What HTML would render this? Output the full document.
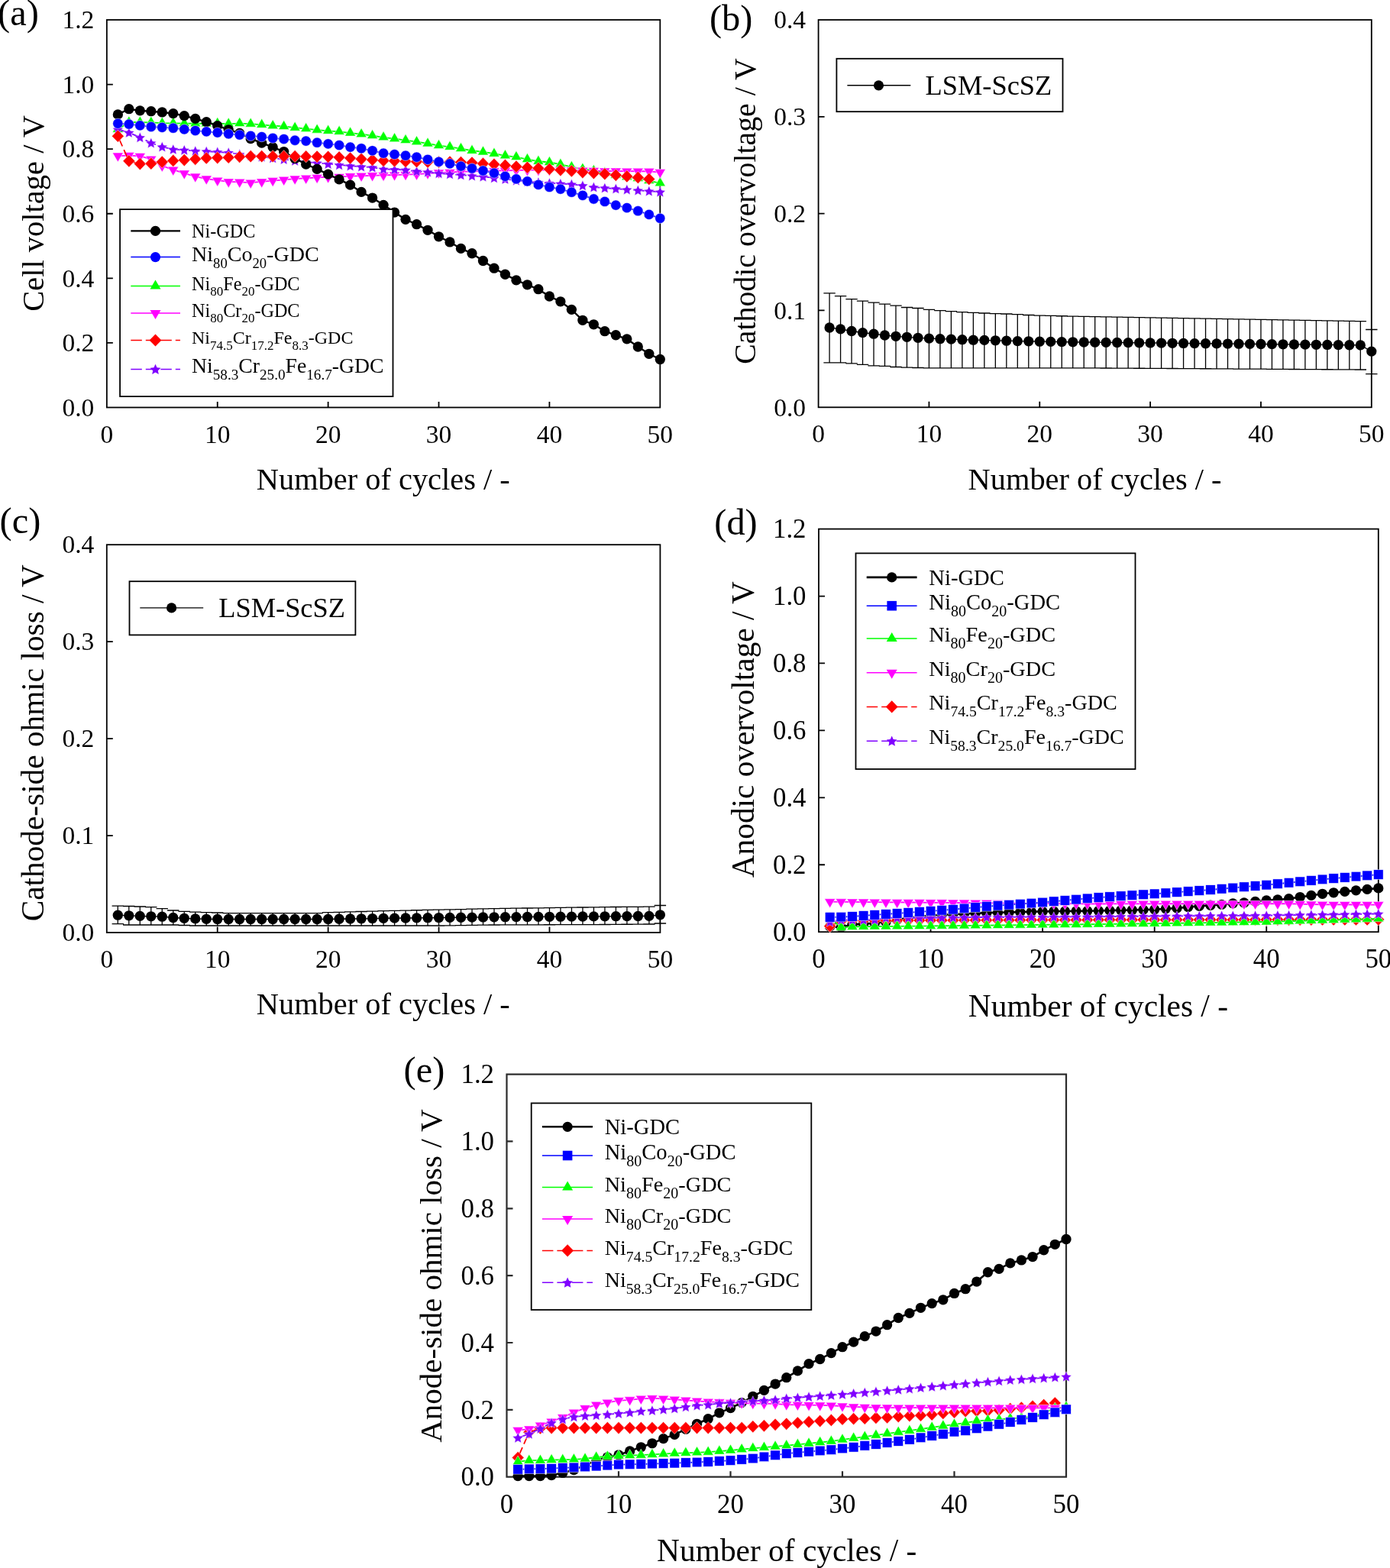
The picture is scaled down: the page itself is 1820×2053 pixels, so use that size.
<!DOCTYPE html>
<html><head><meta charset="utf-8"><title>Figure</title>
<style>html,body{margin:0;padding:0;background:#fff;overflow:hidden;}svg{display:block;}</style>
</head><body>
<svg width="1820" height="2053" viewBox="0 0 1820 2053" font-family="'Liberation Serif', 'Times New Roman', serif">
<rect width="1820" height="2053" fill="#fff"/>
<text x="-2.9" y="33.1" font-size="48.4">(a)</text>
<text x="928.9" y="39.7" font-size="48.4">(b)</text>
<text x="-0.4" y="697.9" font-size="48.4">(c)</text>
<text x="935.3" y="699.7" font-size="48.4">(d)</text>
<text x="528.6" y="1417.2" font-size="48.4">(e)</text>
<text transform="translate(57.4,279.4) rotate(-90)" text-anchor="middle" font-size="40.5">Cell voltage / V</text>
<text transform="translate(989.1,276.5) rotate(-90)" text-anchor="middle" font-size="39.8">Cathodic overvoltage / V</text>
<text transform="translate(56.8,972.7) rotate(-90)" text-anchor="middle" font-size="41.3">Cathode-side ohmic loss / V</text>
<text transform="translate(986.8,955.2) rotate(-90)" text-anchor="middle" font-size="41.3">Anodic overvoltage / V</text>
<text transform="translate(577.9,1670.6) rotate(-90)" text-anchor="middle" font-size="41.0">Anode-side ohmic loss / V</text>
<text x="501.8" y="641.1" text-anchor="middle" font-size="40.4">Number of cycles / -</text>
<text x="1433.6" y="641.1" text-anchor="middle" font-size="40.4">Number of cycles / -</text>
<text x="501.8" y="1328.2" text-anchor="middle" font-size="40.4">Number of cycles / -</text>
<text x="1437.9" y="1331.1" text-anchor="middle" font-size="41.4">Number of cycles / -</text>
<text x="1030.2" y="2044.3" text-anchor="middle" font-size="41.4">Number of cycles / -</text>
<rect x="139.85" y="26" width="724.45" height="507.5" fill="none" stroke="#000" stroke-width="1.8"/>
<path d="M284.74 533.5V526M429.63 533.5V526M574.52 533.5V526M719.41 533.5V526M139.85 448.92H147.85M139.85 364.33H147.85M139.85 279.75H147.85M139.85 195.17H147.85M139.85 110.58H147.85" stroke="#000" stroke-width="1.8" fill="none"/>
<text x="139.85" y="579.5" text-anchor="middle" font-size="33.5">0</text>
<text x="284.74" y="579.5" text-anchor="middle" font-size="33.5">10</text>
<text x="429.63" y="579.5" text-anchor="middle" font-size="33.5">20</text>
<text x="574.52" y="579.5" text-anchor="middle" font-size="33.5">30</text>
<text x="719.41" y="579.5" text-anchor="middle" font-size="33.5">40</text>
<text x="864.3" y="579.5" text-anchor="middle" font-size="33.5">50</text>
<text x="123.35" y="544.72" text-anchor="end" font-size="33.5">0.0</text>
<text x="123.35" y="460.14" text-anchor="end" font-size="33.5">0.2</text>
<text x="123.35" y="375.56" text-anchor="end" font-size="33.5">0.4</text>
<text x="123.35" y="290.97" text-anchor="end" font-size="33.5">0.6</text>
<text x="123.35" y="206.39" text-anchor="end" font-size="33.5">0.8</text>
<text x="123.35" y="121.81" text-anchor="end" font-size="33.5">1.0</text>
<text x="123.35" y="37.22" text-anchor="end" font-size="33.5">1.2</text>
<path d="M154.34 169.37 L168.83 159.9 L183.32 160.06 L197.81 160.28 L212.29 161.21 L226.78 161.33 L241.27 161.54 L255.76 161.76 L270.25 161.76 L284.74 161.59 L299.23 162.09 L313.72 161.54 L328.21 162.22 L342.7 163.32 L357.18 164.72 L371.67 165.52 L386.16 167.21 L400.65 168.61 L415.14 170.13 L429.63 171.31 L444.12 172.33 L458.61 174.11 L473.1 175.63 L487.59 177.62 L502.08 179.81 L516.56 181.63 L531.05 183.62 L545.54 185.65 L560.03 187.98 L574.52 190.6 L589.01 192.33 L603.5 194.53 L617.99 197.24 L632.48 198.93 L646.96 201.13 L661.45 203.84 L675.94 205.53 L690.43 208.57 L704.92 211.24 L719.41 212.51 L733.9 215.13 L748.39 218.55 L762.88 221.13 L777.37 223.5 L791.85 226.25 L806.34 229.21 L820.83 231.75 L835.32 233.44 L849.81 236.61 L864.3 239.78" fill="none" stroke="#00ff00" stroke-width="1.8"/>
<polygon points="154.34,161.37 161.34,173.37 147.34,173.37" fill="#00ff00" stroke="#fff" stroke-width="0.5"/>
<polygon points="168.83,151.9 175.83,163.9 161.83,163.9" fill="#00ff00" stroke="#fff" stroke-width="0.5"/>
<polygon points="183.32,152.06 190.32,164.06 176.32,164.06" fill="#00ff00" stroke="#fff" stroke-width="0.5"/>
<polygon points="197.81,152.28 204.81,164.28 190.81,164.28" fill="#00ff00" stroke="#fff" stroke-width="0.5"/>
<polygon points="212.29,153.21 219.29,165.21 205.29,165.21" fill="#00ff00" stroke="#fff" stroke-width="0.5"/>
<polygon points="226.78,153.33 233.78,165.33 219.78,165.33" fill="#00ff00" stroke="#fff" stroke-width="0.5"/>
<polygon points="241.27,153.54 248.27,165.54 234.27,165.54" fill="#00ff00" stroke="#fff" stroke-width="0.5"/>
<polygon points="255.76,153.76 262.76,165.76 248.76,165.76" fill="#00ff00" stroke="#fff" stroke-width="0.5"/>
<polygon points="270.25,153.76 277.25,165.76 263.25,165.76" fill="#00ff00" stroke="#fff" stroke-width="0.5"/>
<polygon points="284.74,153.59 291.74,165.59 277.74,165.59" fill="#00ff00" stroke="#fff" stroke-width="0.5"/>
<polygon points="299.23,154.09 306.23,166.09 292.23,166.09" fill="#00ff00" stroke="#fff" stroke-width="0.5"/>
<polygon points="313.72,153.54 320.72,165.54 306.72,165.54" fill="#00ff00" stroke="#fff" stroke-width="0.5"/>
<polygon points="328.21,154.22 335.21,166.22 321.21,166.22" fill="#00ff00" stroke="#fff" stroke-width="0.5"/>
<polygon points="342.7,155.32 349.7,167.32 335.7,167.32" fill="#00ff00" stroke="#fff" stroke-width="0.5"/>
<polygon points="357.18,156.72 364.18,168.72 350.18,168.72" fill="#00ff00" stroke="#fff" stroke-width="0.5"/>
<polygon points="371.67,157.52 378.67,169.52 364.67,169.52" fill="#00ff00" stroke="#fff" stroke-width="0.5"/>
<polygon points="386.16,159.21 393.16,171.21 379.16,171.21" fill="#00ff00" stroke="#fff" stroke-width="0.5"/>
<polygon points="400.65,160.61 407.65,172.61 393.65,172.61" fill="#00ff00" stroke="#fff" stroke-width="0.5"/>
<polygon points="415.14,162.13 422.14,174.13 408.14,174.13" fill="#00ff00" stroke="#fff" stroke-width="0.5"/>
<polygon points="429.63,163.31 436.63,175.31 422.63,175.31" fill="#00ff00" stroke="#fff" stroke-width="0.5"/>
<polygon points="444.12,164.33 451.12,176.33 437.12,176.33" fill="#00ff00" stroke="#fff" stroke-width="0.5"/>
<polygon points="458.61,166.11 465.61,178.11 451.61,178.11" fill="#00ff00" stroke="#fff" stroke-width="0.5"/>
<polygon points="473.1,167.63 480.1,179.63 466.1,179.63" fill="#00ff00" stroke="#fff" stroke-width="0.5"/>
<polygon points="487.59,169.62 494.59,181.62 480.59,181.62" fill="#00ff00" stroke="#fff" stroke-width="0.5"/>
<polygon points="502.08,171.81 509.08,183.81 495.08,183.81" fill="#00ff00" stroke="#fff" stroke-width="0.5"/>
<polygon points="516.56,173.63 523.56,185.63 509.56,185.63" fill="#00ff00" stroke="#fff" stroke-width="0.5"/>
<polygon points="531.05,175.62 538.05,187.62 524.05,187.62" fill="#00ff00" stroke="#fff" stroke-width="0.5"/>
<polygon points="545.54,177.65 552.54,189.65 538.54,189.65" fill="#00ff00" stroke="#fff" stroke-width="0.5"/>
<polygon points="560.03,179.98 567.03,191.98 553.03,191.98" fill="#00ff00" stroke="#fff" stroke-width="0.5"/>
<polygon points="574.52,182.6 581.52,194.6 567.52,194.6" fill="#00ff00" stroke="#fff" stroke-width="0.5"/>
<polygon points="589.01,184.33 596.01,196.33 582.01,196.33" fill="#00ff00" stroke="#fff" stroke-width="0.5"/>
<polygon points="603.5,186.53 610.5,198.53 596.5,198.53" fill="#00ff00" stroke="#fff" stroke-width="0.5"/>
<polygon points="617.99,189.24 624.99,201.24 610.99,201.24" fill="#00ff00" stroke="#fff" stroke-width="0.5"/>
<polygon points="632.48,190.93 639.48,202.93 625.48,202.93" fill="#00ff00" stroke="#fff" stroke-width="0.5"/>
<polygon points="646.96,193.13 653.96,205.13 639.96,205.13" fill="#00ff00" stroke="#fff" stroke-width="0.5"/>
<polygon points="661.45,195.84 668.45,207.84 654.45,207.84" fill="#00ff00" stroke="#fff" stroke-width="0.5"/>
<polygon points="675.94,197.53 682.94,209.53 668.94,209.53" fill="#00ff00" stroke="#fff" stroke-width="0.5"/>
<polygon points="690.43,200.57 697.43,212.57 683.43,212.57" fill="#00ff00" stroke="#fff" stroke-width="0.5"/>
<polygon points="704.92,203.24 711.92,215.24 697.92,215.24" fill="#00ff00" stroke="#fff" stroke-width="0.5"/>
<polygon points="719.41,204.51 726.41,216.51 712.41,216.51" fill="#00ff00" stroke="#fff" stroke-width="0.5"/>
<polygon points="733.9,207.13 740.9,219.13 726.9,219.13" fill="#00ff00" stroke="#fff" stroke-width="0.5"/>
<polygon points="748.39,210.55 755.39,222.55 741.39,222.55" fill="#00ff00" stroke="#fff" stroke-width="0.5"/>
<polygon points="762.88,213.13 769.88,225.13 755.88,225.13" fill="#00ff00" stroke="#fff" stroke-width="0.5"/>
<polygon points="777.37,215.5 784.37,227.5 770.37,227.5" fill="#00ff00" stroke="#fff" stroke-width="0.5"/>
<polygon points="791.85,218.25 798.85,230.25 784.85,230.25" fill="#00ff00" stroke="#fff" stroke-width="0.5"/>
<polygon points="806.34,221.21 813.34,233.21 799.34,233.21" fill="#00ff00" stroke="#fff" stroke-width="0.5"/>
<polygon points="820.83,223.75 827.83,235.75 813.83,235.75" fill="#00ff00" stroke="#fff" stroke-width="0.5"/>
<polygon points="835.32,225.44 842.32,237.44 828.32,237.44" fill="#00ff00" stroke="#fff" stroke-width="0.5"/>
<polygon points="849.81,228.61 856.81,240.61 842.81,240.61" fill="#00ff00" stroke="#fff" stroke-width="0.5"/>
<polygon points="864.3,231.78 871.3,243.78 857.3,243.78" fill="#00ff00" stroke="#fff" stroke-width="0.5"/>
<path d="M154.34 204.05 L168.83 203.62 L183.32 204.47 L197.81 208.28 L212.29 217.16 L226.78 222.23 L241.27 226.89 L255.76 231.11 L270.25 234.07 L284.74 236.19 L299.23 237.88 L313.72 238.3 L328.21 239.15 L342.7 237.88 L357.18 236.61 L371.67 235.34 L386.16 234.07 L400.65 233.23 L415.14 232.38 L429.63 231.96 L444.12 231.54 L458.61 230.69 L473.1 230.27 L487.59 229.85 L502.08 229.42 L516.56 229 L531.05 228.58 L545.54 228.15 L560.03 227.1 L574.52 226.04 L589.01 225.48 L603.5 224.91 L617.99 224.35 L632.48 224.01 L646.96 223.67 L661.45 223.33 L675.94 222.99 L690.43 222.66 L704.92 222.66 L719.41 222.66 L733.9 222.66 L748.39 222.97 L762.88 223.29 L777.37 223.61 L791.85 223.92 L806.34 224.03 L820.83 224.14 L835.32 224.24 L849.81 224.35 L864.3 225.62" fill="none" stroke="#ff00ff" stroke-width="1.8"/>
<polygon points="154.34,212.05 161.34,200.05 147.34,200.05" fill="#ff00ff" stroke="#fff" stroke-width="0.5"/>
<polygon points="168.83,211.62 175.83,199.62 161.83,199.62" fill="#ff00ff" stroke="#fff" stroke-width="0.5"/>
<polygon points="183.32,212.47 190.32,200.47 176.32,200.47" fill="#ff00ff" stroke="#fff" stroke-width="0.5"/>
<polygon points="197.81,216.28 204.81,204.28 190.81,204.28" fill="#ff00ff" stroke="#fff" stroke-width="0.5"/>
<polygon points="212.29,225.16 219.29,213.16 205.29,213.16" fill="#ff00ff" stroke="#fff" stroke-width="0.5"/>
<polygon points="226.78,230.23 233.78,218.23 219.78,218.23" fill="#ff00ff" stroke="#fff" stroke-width="0.5"/>
<polygon points="241.27,234.89 248.27,222.89 234.27,222.89" fill="#ff00ff" stroke="#fff" stroke-width="0.5"/>
<polygon points="255.76,239.11 262.76,227.11 248.76,227.11" fill="#ff00ff" stroke="#fff" stroke-width="0.5"/>
<polygon points="270.25,242.07 277.25,230.07 263.25,230.07" fill="#ff00ff" stroke="#fff" stroke-width="0.5"/>
<polygon points="284.74,244.19 291.74,232.19 277.74,232.19" fill="#ff00ff" stroke="#fff" stroke-width="0.5"/>
<polygon points="299.23,245.88 306.23,233.88 292.23,233.88" fill="#ff00ff" stroke="#fff" stroke-width="0.5"/>
<polygon points="313.72,246.3 320.72,234.3 306.72,234.3" fill="#ff00ff" stroke="#fff" stroke-width="0.5"/>
<polygon points="328.21,247.15 335.21,235.15 321.21,235.15" fill="#ff00ff" stroke="#fff" stroke-width="0.5"/>
<polygon points="342.7,245.88 349.7,233.88 335.7,233.88" fill="#ff00ff" stroke="#fff" stroke-width="0.5"/>
<polygon points="357.18,244.61 364.18,232.61 350.18,232.61" fill="#ff00ff" stroke="#fff" stroke-width="0.5"/>
<polygon points="371.67,243.34 378.67,231.34 364.67,231.34" fill="#ff00ff" stroke="#fff" stroke-width="0.5"/>
<polygon points="386.16,242.07 393.16,230.07 379.16,230.07" fill="#ff00ff" stroke="#fff" stroke-width="0.5"/>
<polygon points="400.65,241.23 407.65,229.23 393.65,229.23" fill="#ff00ff" stroke="#fff" stroke-width="0.5"/>
<polygon points="415.14,240.38 422.14,228.38 408.14,228.38" fill="#ff00ff" stroke="#fff" stroke-width="0.5"/>
<polygon points="429.63,239.96 436.63,227.96 422.63,227.96" fill="#ff00ff" stroke="#fff" stroke-width="0.5"/>
<polygon points="444.12,239.54 451.12,227.54 437.12,227.54" fill="#ff00ff" stroke="#fff" stroke-width="0.5"/>
<polygon points="458.61,238.69 465.61,226.69 451.61,226.69" fill="#ff00ff" stroke="#fff" stroke-width="0.5"/>
<polygon points="473.1,238.27 480.1,226.27 466.1,226.27" fill="#ff00ff" stroke="#fff" stroke-width="0.5"/>
<polygon points="487.59,237.85 494.59,225.85 480.59,225.85" fill="#ff00ff" stroke="#fff" stroke-width="0.5"/>
<polygon points="502.08,237.42 509.08,225.42 495.08,225.42" fill="#ff00ff" stroke="#fff" stroke-width="0.5"/>
<polygon points="516.56,237 523.56,225 509.56,225" fill="#ff00ff" stroke="#fff" stroke-width="0.5"/>
<polygon points="531.05,236.58 538.05,224.58 524.05,224.58" fill="#ff00ff" stroke="#fff" stroke-width="0.5"/>
<polygon points="545.54,236.15 552.54,224.15 538.54,224.15" fill="#ff00ff" stroke="#fff" stroke-width="0.5"/>
<polygon points="560.03,235.1 567.03,223.1 553.03,223.1" fill="#ff00ff" stroke="#fff" stroke-width="0.5"/>
<polygon points="574.52,234.04 581.52,222.04 567.52,222.04" fill="#ff00ff" stroke="#fff" stroke-width="0.5"/>
<polygon points="589.01,233.48 596.01,221.48 582.01,221.48" fill="#ff00ff" stroke="#fff" stroke-width="0.5"/>
<polygon points="603.5,232.91 610.5,220.91 596.5,220.91" fill="#ff00ff" stroke="#fff" stroke-width="0.5"/>
<polygon points="617.99,232.35 624.99,220.35 610.99,220.35" fill="#ff00ff" stroke="#fff" stroke-width="0.5"/>
<polygon points="632.48,232.01 639.48,220.01 625.48,220.01" fill="#ff00ff" stroke="#fff" stroke-width="0.5"/>
<polygon points="646.96,231.67 653.96,219.67 639.96,219.67" fill="#ff00ff" stroke="#fff" stroke-width="0.5"/>
<polygon points="661.45,231.33 668.45,219.33 654.45,219.33" fill="#ff00ff" stroke="#fff" stroke-width="0.5"/>
<polygon points="675.94,230.99 682.94,218.99 668.94,218.99" fill="#ff00ff" stroke="#fff" stroke-width="0.5"/>
<polygon points="690.43,230.66 697.43,218.66 683.43,218.66" fill="#ff00ff" stroke="#fff" stroke-width="0.5"/>
<polygon points="704.92,230.66 711.92,218.66 697.92,218.66" fill="#ff00ff" stroke="#fff" stroke-width="0.5"/>
<polygon points="719.41,230.66 726.41,218.66 712.41,218.66" fill="#ff00ff" stroke="#fff" stroke-width="0.5"/>
<polygon points="733.9,230.66 740.9,218.66 726.9,218.66" fill="#ff00ff" stroke="#fff" stroke-width="0.5"/>
<polygon points="748.39,230.97 755.39,218.97 741.39,218.97" fill="#ff00ff" stroke="#fff" stroke-width="0.5"/>
<polygon points="762.88,231.29 769.88,219.29 755.88,219.29" fill="#ff00ff" stroke="#fff" stroke-width="0.5"/>
<polygon points="777.37,231.61 784.37,219.61 770.37,219.61" fill="#ff00ff" stroke="#fff" stroke-width="0.5"/>
<polygon points="791.85,231.92 798.85,219.92 784.85,219.92" fill="#ff00ff" stroke="#fff" stroke-width="0.5"/>
<polygon points="806.34,232.03 813.34,220.03 799.34,220.03" fill="#ff00ff" stroke="#fff" stroke-width="0.5"/>
<polygon points="820.83,232.14 827.83,220.14 813.83,220.14" fill="#ff00ff" stroke="#fff" stroke-width="0.5"/>
<polygon points="835.32,232.24 842.32,220.24 828.32,220.24" fill="#ff00ff" stroke="#fff" stroke-width="0.5"/>
<polygon points="849.81,232.35 856.81,220.35 842.81,220.35" fill="#ff00ff" stroke="#fff" stroke-width="0.5"/>
<polygon points="864.3,233.62 871.3,221.62 857.3,221.62" fill="#ff00ff" stroke="#fff" stroke-width="0.5"/>
<path d="M154.34 169.37 L168.83 173.6 L183.32 179.94 L197.81 187.13 L212.29 192.21 L226.78 195.59 L241.27 196.44 L255.76 197.7 L270.25 198.13 L284.74 198.97 L299.23 199.82 L313.72 201.93 L328.21 203.62 L342.7 205.32 L357.18 207.01 L371.67 208.7 L386.16 210.39 L400.65 212.08 L415.14 213.35 L429.63 214.62 L444.12 215.89 L458.61 217.16 L473.1 218.22 L487.59 219.27 L502.08 221.39 L516.56 221.89 L531.05 222.49 L545.54 224.18 L560.03 225.28 L574.52 226.89 L589.01 227.99 L603.5 229.08 L617.99 230.18 L632.48 231.28 L646.96 232.98 L661.45 234.58 L675.94 236.27 L690.43 237.67 L704.92 238.73 L719.41 239.78 L733.9 240.5 L748.39 241.26 L762.88 242.96 L777.37 245.07 L791.85 246.09 L806.34 247.1 L820.83 248.16 L835.32 249.17 L849.81 250.27 L864.3 251.29" fill="none" stroke="#8000ff" stroke-width="1.8" stroke-dasharray="14.5 5"/>
<polygon points="154.34,162.67 156.4,167.14 161.28,167.71 157.67,171.05 158.63,175.87 154.34,173.47 150.05,175.87 151.01,171.05 147.4,167.71 152.28,167.14" fill="#8000ff" stroke="#fff" stroke-width="0.4"/>
<polygon points="168.83,166.9 170.89,171.37 175.77,171.94 172.16,175.28 173.12,180.1 168.83,177.7 164.54,180.1 165.5,175.28 161.89,171.94 166.77,171.37" fill="#8000ff" stroke="#fff" stroke-width="0.4"/>
<polygon points="183.32,173.24 185.37,177.71 190.26,178.29 186.65,181.62 187.61,186.45 183.32,184.04 179.03,186.45 179.99,181.62 176.37,178.29 181.26,177.71" fill="#8000ff" stroke="#fff" stroke-width="0.4"/>
<polygon points="197.81,180.43 199.86,184.9 204.75,185.48 201.13,188.81 202.1,193.64 197.81,191.23 193.52,193.64 194.48,188.81 190.86,185.48 195.75,184.9" fill="#8000ff" stroke="#fff" stroke-width="0.4"/>
<polygon points="212.29,185.51 214.35,189.97 219.24,190.55 215.62,193.89 216.59,198.71 212.29,196.31 208,198.71 208.97,193.89 205.35,190.55 210.24,189.97" fill="#8000ff" stroke="#fff" stroke-width="0.4"/>
<polygon points="226.78,188.89 228.84,193.36 233.73,193.93 230.11,197.27 231.07,202.1 226.78,199.69 222.49,202.1 223.46,197.27 219.84,193.93 224.73,193.36" fill="#8000ff" stroke="#fff" stroke-width="0.4"/>
<polygon points="241.27,189.74 243.33,194.2 248.22,194.78 244.6,198.12 245.56,202.94 241.27,200.54 236.98,202.94 237.94,198.12 234.33,194.78 239.22,194.2" fill="#8000ff" stroke="#fff" stroke-width="0.4"/>
<polygon points="255.76,191 257.82,195.47 262.7,196.05 259.09,199.39 260.05,204.21 255.76,201.8 251.47,204.21 252.43,199.39 248.82,196.05 253.7,195.47" fill="#8000ff" stroke="#fff" stroke-width="0.4"/>
<polygon points="270.25,191.43 272.31,195.9 277.19,196.47 273.58,199.81 274.54,204.63 270.25,202.23 265.96,204.63 266.92,199.81 263.31,196.47 268.19,195.9" fill="#8000ff" stroke="#fff" stroke-width="0.4"/>
<polygon points="284.74,192.27 286.8,196.74 291.68,197.32 288.07,200.65 289.03,205.48 284.74,203.07 280.45,205.48 281.41,200.65 277.8,197.32 282.68,196.74" fill="#8000ff" stroke="#fff" stroke-width="0.4"/>
<polygon points="299.23,193.12 301.29,197.59 306.17,198.16 302.56,201.5 303.52,206.32 299.23,203.92 294.94,206.32 295.9,201.5 292.29,198.16 297.17,197.59" fill="#8000ff" stroke="#fff" stroke-width="0.4"/>
<polygon points="313.72,195.23 315.78,199.7 320.66,200.28 317.05,203.61 318.01,208.44 313.72,206.03 309.43,208.44 310.39,203.61 306.78,200.28 311.66,199.7" fill="#8000ff" stroke="#fff" stroke-width="0.4"/>
<polygon points="328.21,196.92 330.26,201.39 335.15,201.97 331.54,205.31 332.5,210.13 328.21,207.72 323.92,210.13 324.88,205.31 321.26,201.97 326.15,201.39" fill="#8000ff" stroke="#fff" stroke-width="0.4"/>
<polygon points="342.7,198.62 344.75,203.09 349.64,203.66 346.02,207 346.99,211.82 342.7,209.42 338.41,211.82 339.37,207 335.75,203.66 340.64,203.09" fill="#8000ff" stroke="#fff" stroke-width="0.4"/>
<polygon points="357.18,200.31 359.24,204.78 364.13,205.35 360.51,208.69 361.48,213.51 357.18,211.11 352.89,213.51 353.86,208.69 350.24,205.35 355.13,204.78" fill="#8000ff" stroke="#fff" stroke-width="0.4"/>
<polygon points="371.67,202 373.73,206.47 378.62,207.04 375,210.38 375.96,215.21 371.67,212.8 367.38,215.21 368.35,210.38 364.73,207.04 369.62,206.47" fill="#8000ff" stroke="#fff" stroke-width="0.4"/>
<polygon points="386.16,203.69 388.22,208.16 393.11,208.74 389.49,212.07 390.45,216.9 386.16,214.49 381.87,216.9 382.83,212.07 379.22,208.74 384.11,208.16" fill="#8000ff" stroke="#fff" stroke-width="0.4"/>
<polygon points="400.65,205.38 402.71,209.85 407.59,210.43 403.98,213.76 404.94,218.59 400.65,216.18 396.36,218.59 397.32,213.76 393.71,210.43 398.59,209.85" fill="#8000ff" stroke="#fff" stroke-width="0.4"/>
<polygon points="415.14,206.65 417.2,211.12 422.08,211.7 418.47,215.03 419.43,219.86 415.14,217.45 410.85,219.86 411.81,215.03 408.2,211.7 413.08,211.12" fill="#8000ff" stroke="#fff" stroke-width="0.4"/>
<polygon points="429.63,207.92 431.69,212.39 436.57,212.97 432.96,216.3 433.92,221.13 429.63,218.72 425.34,221.13 426.3,216.3 422.69,212.97 427.57,212.39" fill="#8000ff" stroke="#fff" stroke-width="0.4"/>
<polygon points="444.12,209.19 446.18,213.66 451.06,214.23 447.45,217.57 448.41,222.4 444.12,219.99 439.83,222.4 440.79,217.57 437.18,214.23 442.06,213.66" fill="#8000ff" stroke="#fff" stroke-width="0.4"/>
<polygon points="458.61,210.46 460.67,214.93 465.55,215.5 461.94,218.84 462.9,223.66 458.61,221.26 454.32,223.66 455.28,218.84 451.67,215.5 456.55,214.93" fill="#8000ff" stroke="#fff" stroke-width="0.4"/>
<polygon points="473.1,211.52 475.15,215.98 480.04,216.56 476.43,219.9 477.39,224.72 473.1,222.32 468.81,224.72 469.77,219.9 466.15,216.56 471.04,215.98" fill="#8000ff" stroke="#fff" stroke-width="0.4"/>
<polygon points="487.59,212.57 489.64,217.04 494.53,217.62 490.91,220.95 491.88,225.78 487.59,223.37 483.3,225.78 484.26,220.95 480.64,217.62 485.53,217.04" fill="#8000ff" stroke="#fff" stroke-width="0.4"/>
<polygon points="502.08,214.69 504.13,219.16 509.02,219.73 505.4,223.07 506.37,227.89 502.08,225.49 497.78,227.89 498.75,223.07 495.13,219.73 500.02,219.16" fill="#8000ff" stroke="#fff" stroke-width="0.4"/>
<polygon points="516.56,215.19 518.62,219.66 523.51,220.24 519.89,223.58 520.85,228.4 516.56,225.99 512.27,228.4 513.24,223.58 509.62,220.24 514.51,219.66" fill="#8000ff" stroke="#fff" stroke-width="0.4"/>
<polygon points="531.05,215.79 533.11,220.26 538,220.83 534.38,224.17 535.34,228.99 531.05,226.59 526.76,228.99 527.72,224.17 524.11,220.83 529,220.26" fill="#8000ff" stroke="#fff" stroke-width="0.4"/>
<polygon points="545.54,217.48 547.6,221.95 552.48,222.52 548.87,225.86 549.83,230.68 545.54,228.28 541.25,230.68 542.21,225.86 538.6,222.52 543.48,221.95" fill="#8000ff" stroke="#fff" stroke-width="0.4"/>
<polygon points="560.03,218.58 562.09,223.05 566.97,223.62 563.36,226.96 564.32,231.78 560.03,229.38 555.74,231.78 556.7,226.96 553.09,223.62 557.97,223.05" fill="#8000ff" stroke="#fff" stroke-width="0.4"/>
<polygon points="574.52,220.19 576.58,224.65 581.46,225.23 577.85,228.57 578.81,233.39 574.52,230.99 570.23,233.39 571.19,228.57 567.58,225.23 572.46,224.65" fill="#8000ff" stroke="#fff" stroke-width="0.4"/>
<polygon points="589.01,221.28 591.07,225.75 595.95,226.33 592.34,229.67 593.3,234.49 589.01,232.09 584.72,234.49 585.68,229.67 582.07,226.33 586.95,225.75" fill="#8000ff" stroke="#fff" stroke-width="0.4"/>
<polygon points="603.5,222.38 605.56,226.85 610.44,227.43 606.83,230.77 607.79,235.59 603.5,233.18 599.21,235.59 600.17,230.77 596.56,227.43 601.44,226.85" fill="#8000ff" stroke="#fff" stroke-width="0.4"/>
<polygon points="617.99,223.48 620.04,227.95 624.93,228.53 621.32,231.87 622.28,236.69 617.99,234.28 613.7,236.69 614.66,231.87 611.04,228.53 615.93,227.95" fill="#8000ff" stroke="#fff" stroke-width="0.4"/>
<polygon points="632.48,224.58 634.53,229.05 639.42,229.63 635.8,232.97 636.77,237.79 632.48,235.38 628.19,237.79 629.15,232.97 625.53,229.63 630.42,229.05" fill="#8000ff" stroke="#fff" stroke-width="0.4"/>
<polygon points="646.96,226.28 649.02,230.74 653.91,231.32 650.29,234.66 651.26,239.48 646.96,237.08 642.67,239.48 643.64,234.66 640.02,231.32 644.91,230.74" fill="#8000ff" stroke="#fff" stroke-width="0.4"/>
<polygon points="661.45,227.88 663.51,232.35 668.4,232.93 664.78,236.26 665.74,241.09 661.45,238.68 657.16,241.09 658.13,236.26 654.51,232.93 659.4,232.35" fill="#8000ff" stroke="#fff" stroke-width="0.4"/>
<polygon points="675.94,229.57 678,234.04 682.89,234.62 679.27,237.96 680.23,242.78 675.94,240.37 671.65,242.78 672.61,237.96 669,234.62 673.89,234.04" fill="#8000ff" stroke="#fff" stroke-width="0.4"/>
<polygon points="690.43,230.97 692.49,235.44 697.37,236.01 693.76,239.35 694.72,244.18 690.43,241.77 686.14,244.18 687.1,239.35 683.49,236.01 688.37,235.44" fill="#8000ff" stroke="#fff" stroke-width="0.4"/>
<polygon points="704.92,232.03 706.98,236.5 711.86,237.07 708.25,240.41 709.21,245.23 704.92,242.83 700.63,245.23 701.59,240.41 697.98,237.07 702.86,236.5" fill="#8000ff" stroke="#fff" stroke-width="0.4"/>
<polygon points="719.41,233.08 721.47,237.55 726.35,238.13 722.74,241.47 723.7,246.29 719.41,243.88 715.12,246.29 716.08,241.47 712.47,238.13 717.35,237.55" fill="#8000ff" stroke="#fff" stroke-width="0.4"/>
<polygon points="733.9,233.8 735.96,238.27 740.84,238.85 737.23,242.18 738.19,247.01 733.9,244.6 729.61,247.01 730.57,242.18 726.96,238.85 731.84,238.27" fill="#8000ff" stroke="#fff" stroke-width="0.4"/>
<polygon points="748.39,234.56 750.45,239.03 755.33,239.61 751.72,242.95 752.68,247.77 748.39,245.36 744.1,247.77 745.06,242.95 741.45,239.61 746.33,239.03" fill="#8000ff" stroke="#fff" stroke-width="0.4"/>
<polygon points="762.88,236.26 764.93,240.72 769.82,241.3 766.21,244.64 767.17,249.46 762.88,247.06 758.59,249.46 759.55,244.64 755.93,241.3 760.82,240.72" fill="#8000ff" stroke="#fff" stroke-width="0.4"/>
<polygon points="777.37,238.37 779.42,242.84 784.31,243.42 780.69,246.75 781.66,251.58 777.37,249.17 773.08,251.58 774.04,246.75 770.42,243.42 775.31,242.84" fill="#8000ff" stroke="#fff" stroke-width="0.4"/>
<polygon points="791.85,239.39 793.91,243.85 798.8,244.43 795.18,247.77 796.15,252.59 791.85,250.19 787.56,252.59 788.53,247.77 784.91,244.43 789.8,243.85" fill="#8000ff" stroke="#fff" stroke-width="0.4"/>
<polygon points="806.34,240.4 808.4,244.87 813.29,245.45 809.67,248.78 810.63,253.61 806.34,251.2 802.05,253.61 803.02,248.78 799.4,245.45 804.29,244.87" fill="#8000ff" stroke="#fff" stroke-width="0.4"/>
<polygon points="820.83,241.46 822.89,245.93 827.78,246.5 824.16,249.84 825.12,254.66 820.83,252.26 816.54,254.66 817.5,249.84 813.89,246.5 818.78,245.93" fill="#8000ff" stroke="#fff" stroke-width="0.4"/>
<polygon points="835.32,242.47 837.38,246.94 842.26,247.52 838.65,250.85 839.61,255.68 835.32,253.27 831.03,255.68 831.99,250.85 828.38,247.52 833.26,246.94" fill="#8000ff" stroke="#fff" stroke-width="0.4"/>
<polygon points="849.81,243.57 851.87,248.04 856.75,248.62 853.14,251.95 854.1,256.78 849.81,254.37 845.52,256.78 846.48,251.95 842.87,248.62 847.75,248.04" fill="#8000ff" stroke="#fff" stroke-width="0.4"/>
<polygon points="864.3,244.59 866.36,249.06 871.24,249.63 867.63,252.97 868.59,257.79 864.3,255.39 860.01,257.79 860.97,252.97 857.36,249.63 862.24,249.06" fill="#8000ff" stroke="#fff" stroke-width="0.4"/>
<path d="M154.34 149.91 L168.83 142.72 L183.32 144.84 L197.81 145.69 L212.29 146.95 L226.78 148.65 L241.27 151.61 L255.76 155.41 L270.25 159.64 L284.74 164.72 L299.23 169.79 L313.72 174.44 L328.21 181.63 L342.7 187.13 L357.18 192.63 L371.67 198.55 L386.16 207.43 L400.65 215.04 L415.14 221.39 L429.63 228.15 L444.12 234.92 L458.61 242.11 L473.1 251.41 L487.59 259.03 L502.08 268.33 L516.56 278.06 L531.05 287.36 L545.54 293.71 L560.03 301.32 L574.52 309.78 L589.01 316.97 L603.5 325.42 L617.99 331.77 L632.48 341.5 L646.96 351.22 L661.45 359.26 L675.94 366.87 L690.43 372.79 L704.92 378.71 L719.41 388.02 L733.9 394.78 L748.39 405.36 L762.88 419.31 L777.37 424.81 L791.85 433.69 L806.34 438.77 L820.83 443.84 L835.32 453.99 L849.81 463.3 L864.3 470.49" fill="none" stroke="#000000" stroke-width="2.4"/>
<circle cx="154.34" cy="149.91" r="6.65" fill="#000000"/>
<circle cx="168.83" cy="142.72" r="6.65" fill="#000000"/>
<circle cx="183.32" cy="144.84" r="6.65" fill="#000000"/>
<circle cx="197.81" cy="145.69" r="6.65" fill="#000000"/>
<circle cx="212.29" cy="146.95" r="6.65" fill="#000000"/>
<circle cx="226.78" cy="148.65" r="6.65" fill="#000000"/>
<circle cx="241.27" cy="151.61" r="6.65" fill="#000000"/>
<circle cx="255.76" cy="155.41" r="6.65" fill="#000000"/>
<circle cx="270.25" cy="159.64" r="6.65" fill="#000000"/>
<circle cx="284.74" cy="164.72" r="6.65" fill="#000000"/>
<circle cx="299.23" cy="169.79" r="6.65" fill="#000000"/>
<circle cx="313.72" cy="174.44" r="6.65" fill="#000000"/>
<circle cx="328.21" cy="181.63" r="6.65" fill="#000000"/>
<circle cx="342.7" cy="187.13" r="6.65" fill="#000000"/>
<circle cx="357.18" cy="192.63" r="6.65" fill="#000000"/>
<circle cx="371.67" cy="198.55" r="6.65" fill="#000000"/>
<circle cx="386.16" cy="207.43" r="6.65" fill="#000000"/>
<circle cx="400.65" cy="215.04" r="6.65" fill="#000000"/>
<circle cx="415.14" cy="221.39" r="6.65" fill="#000000"/>
<circle cx="429.63" cy="228.15" r="6.65" fill="#000000"/>
<circle cx="444.12" cy="234.92" r="6.65" fill="#000000"/>
<circle cx="458.61" cy="242.11" r="6.65" fill="#000000"/>
<circle cx="473.1" cy="251.41" r="6.65" fill="#000000"/>
<circle cx="487.59" cy="259.03" r="6.65" fill="#000000"/>
<circle cx="502.08" cy="268.33" r="6.65" fill="#000000"/>
<circle cx="516.56" cy="278.06" r="6.65" fill="#000000"/>
<circle cx="531.05" cy="287.36" r="6.65" fill="#000000"/>
<circle cx="545.54" cy="293.71" r="6.65" fill="#000000"/>
<circle cx="560.03" cy="301.32" r="6.65" fill="#000000"/>
<circle cx="574.52" cy="309.78" r="6.65" fill="#000000"/>
<circle cx="589.01" cy="316.97" r="6.65" fill="#000000"/>
<circle cx="603.5" cy="325.42" r="6.65" fill="#000000"/>
<circle cx="617.99" cy="331.77" r="6.65" fill="#000000"/>
<circle cx="632.48" cy="341.5" r="6.65" fill="#000000"/>
<circle cx="646.96" cy="351.22" r="6.65" fill="#000000"/>
<circle cx="661.45" cy="359.26" r="6.65" fill="#000000"/>
<circle cx="675.94" cy="366.87" r="6.65" fill="#000000"/>
<circle cx="690.43" cy="372.79" r="6.65" fill="#000000"/>
<circle cx="704.92" cy="378.71" r="6.65" fill="#000000"/>
<circle cx="719.41" cy="388.02" r="6.65" fill="#000000"/>
<circle cx="733.9" cy="394.78" r="6.65" fill="#000000"/>
<circle cx="748.39" cy="405.36" r="6.65" fill="#000000"/>
<circle cx="762.88" cy="419.31" r="6.65" fill="#000000"/>
<circle cx="777.37" cy="424.81" r="6.65" fill="#000000"/>
<circle cx="791.85" cy="433.69" r="6.65" fill="#000000"/>
<circle cx="806.34" cy="438.77" r="6.65" fill="#000000"/>
<circle cx="820.83" cy="443.84" r="6.65" fill="#000000"/>
<circle cx="835.32" cy="453.99" r="6.65" fill="#000000"/>
<circle cx="849.81" cy="463.3" r="6.65" fill="#000000"/>
<circle cx="864.3" cy="470.49" r="6.65" fill="#000000"/>
<path d="M154.34 178.25 L168.83 210.81 L183.32 214.62 L197.81 214.2 L212.29 212.08 L226.78 210.39 L241.27 209.55 L255.76 208.28 L270.25 207.01 L284.74 206.59 L299.23 206.16 L313.72 205.32 L328.21 204.68 L342.7 204.68 L357.18 204.68 L371.67 204.68 L386.16 204.68 L400.65 204.89 L415.14 205.11 L429.63 205.32 L444.12 205.95 L458.61 207.01 L473.1 208.28 L487.59 209.33 L502.08 210.39 L516.56 210.81 L531.05 211.45 L545.54 211.66 L560.03 212.08 L574.52 212.08 L589.01 212.08 L603.5 212.51 L617.99 213.1 L632.48 214.2 L646.96 215.3 L661.45 216.4 L675.94 218.09 L690.43 219.27 L704.92 220.37 L719.41 221.39 L733.9 222.66 L748.39 223.92 L762.88 225.62 L777.37 226.67 L791.85 227.73 L806.34 229.3 L820.83 230.9 L835.32 232.38 L849.81 234.5" fill="none" stroke="#ff0000" stroke-width="1.8" stroke-dasharray="14.5 5"/>
<polygon points="154.34,170.15 162.24,178.25 154.34,186.35 146.44,178.25" fill="#ff0000" stroke="#fff" stroke-width="0.5"/>
<polygon points="168.83,202.71 176.73,210.81 168.83,218.91 160.93,210.81" fill="#ff0000" stroke="#fff" stroke-width="0.5"/>
<polygon points="183.32,206.52 191.22,214.62 183.32,222.72 175.42,214.62" fill="#ff0000" stroke="#fff" stroke-width="0.5"/>
<polygon points="197.81,206.1 205.71,214.2 197.81,222.3 189.91,214.2" fill="#ff0000" stroke="#fff" stroke-width="0.5"/>
<polygon points="212.29,203.98 220.19,212.08 212.29,220.18 204.39,212.08" fill="#ff0000" stroke="#fff" stroke-width="0.5"/>
<polygon points="226.78,202.29 234.68,210.39 226.78,218.49 218.88,210.39" fill="#ff0000" stroke="#fff" stroke-width="0.5"/>
<polygon points="241.27,201.45 249.17,209.55 241.27,217.65 233.37,209.55" fill="#ff0000" stroke="#fff" stroke-width="0.5"/>
<polygon points="255.76,200.18 263.66,208.28 255.76,216.38 247.86,208.28" fill="#ff0000" stroke="#fff" stroke-width="0.5"/>
<polygon points="270.25,198.91 278.15,207.01 270.25,215.11 262.35,207.01" fill="#ff0000" stroke="#fff" stroke-width="0.5"/>
<polygon points="284.74,198.49 292.64,206.59 284.74,214.69 276.84,206.59" fill="#ff0000" stroke="#fff" stroke-width="0.5"/>
<polygon points="299.23,198.06 307.13,206.16 299.23,214.26 291.33,206.16" fill="#ff0000" stroke="#fff" stroke-width="0.5"/>
<polygon points="313.72,197.22 321.62,205.32 313.72,213.42 305.82,205.32" fill="#ff0000" stroke="#fff" stroke-width="0.5"/>
<polygon points="328.21,196.58 336.11,204.68 328.21,212.78 320.31,204.68" fill="#ff0000" stroke="#fff" stroke-width="0.5"/>
<polygon points="342.7,196.58 350.6,204.68 342.7,212.78 334.8,204.68" fill="#ff0000" stroke="#fff" stroke-width="0.5"/>
<polygon points="357.18,196.58 365.08,204.68 357.18,212.78 349.28,204.68" fill="#ff0000" stroke="#fff" stroke-width="0.5"/>
<polygon points="371.67,196.58 379.57,204.68 371.67,212.78 363.77,204.68" fill="#ff0000" stroke="#fff" stroke-width="0.5"/>
<polygon points="386.16,196.58 394.06,204.68 386.16,212.78 378.26,204.68" fill="#ff0000" stroke="#fff" stroke-width="0.5"/>
<polygon points="400.65,196.79 408.55,204.89 400.65,212.99 392.75,204.89" fill="#ff0000" stroke="#fff" stroke-width="0.5"/>
<polygon points="415.14,197.01 423.04,205.11 415.14,213.21 407.24,205.11" fill="#ff0000" stroke="#fff" stroke-width="0.5"/>
<polygon points="429.63,197.22 437.53,205.32 429.63,213.42 421.73,205.32" fill="#ff0000" stroke="#fff" stroke-width="0.5"/>
<polygon points="444.12,197.85 452.02,205.95 444.12,214.05 436.22,205.95" fill="#ff0000" stroke="#fff" stroke-width="0.5"/>
<polygon points="458.61,198.91 466.51,207.01 458.61,215.11 450.71,207.01" fill="#ff0000" stroke="#fff" stroke-width="0.5"/>
<polygon points="473.1,200.18 481,208.28 473.1,216.38 465.2,208.28" fill="#ff0000" stroke="#fff" stroke-width="0.5"/>
<polygon points="487.59,201.23 495.49,209.33 487.59,217.43 479.69,209.33" fill="#ff0000" stroke="#fff" stroke-width="0.5"/>
<polygon points="502.08,202.29 509.98,210.39 502.08,218.49 494.18,210.39" fill="#ff0000" stroke="#fff" stroke-width="0.5"/>
<polygon points="516.56,202.71 524.46,210.81 516.56,218.91 508.66,210.81" fill="#ff0000" stroke="#fff" stroke-width="0.5"/>
<polygon points="531.05,203.35 538.95,211.45 531.05,219.55 523.15,211.45" fill="#ff0000" stroke="#fff" stroke-width="0.5"/>
<polygon points="545.54,203.56 553.44,211.66 545.54,219.76 537.64,211.66" fill="#ff0000" stroke="#fff" stroke-width="0.5"/>
<polygon points="560.03,203.98 567.93,212.08 560.03,220.18 552.13,212.08" fill="#ff0000" stroke="#fff" stroke-width="0.5"/>
<polygon points="574.52,203.98 582.42,212.08 574.52,220.18 566.62,212.08" fill="#ff0000" stroke="#fff" stroke-width="0.5"/>
<polygon points="589.01,203.98 596.91,212.08 589.01,220.18 581.11,212.08" fill="#ff0000" stroke="#fff" stroke-width="0.5"/>
<polygon points="603.5,204.41 611.4,212.51 603.5,220.61 595.6,212.51" fill="#ff0000" stroke="#fff" stroke-width="0.5"/>
<polygon points="617.99,205 625.89,213.1 617.99,221.2 610.09,213.1" fill="#ff0000" stroke="#fff" stroke-width="0.5"/>
<polygon points="632.48,206.1 640.38,214.2 632.48,222.3 624.58,214.2" fill="#ff0000" stroke="#fff" stroke-width="0.5"/>
<polygon points="646.96,207.2 654.86,215.3 646.96,223.4 639.06,215.3" fill="#ff0000" stroke="#fff" stroke-width="0.5"/>
<polygon points="661.45,208.3 669.35,216.4 661.45,224.5 653.55,216.4" fill="#ff0000" stroke="#fff" stroke-width="0.5"/>
<polygon points="675.94,209.99 683.84,218.09 675.94,226.19 668.04,218.09" fill="#ff0000" stroke="#fff" stroke-width="0.5"/>
<polygon points="690.43,211.17 698.33,219.27 690.43,227.37 682.53,219.27" fill="#ff0000" stroke="#fff" stroke-width="0.5"/>
<polygon points="704.92,212.27 712.82,220.37 704.92,228.47 697.02,220.37" fill="#ff0000" stroke="#fff" stroke-width="0.5"/>
<polygon points="719.41,213.29 727.31,221.39 719.41,229.49 711.51,221.39" fill="#ff0000" stroke="#fff" stroke-width="0.5"/>
<polygon points="733.9,214.56 741.8,222.66 733.9,230.76 726,222.66" fill="#ff0000" stroke="#fff" stroke-width="0.5"/>
<polygon points="748.39,215.82 756.29,223.92 748.39,232.02 740.49,223.92" fill="#ff0000" stroke="#fff" stroke-width="0.5"/>
<polygon points="762.88,217.52 770.78,225.62 762.88,233.72 754.98,225.62" fill="#ff0000" stroke="#fff" stroke-width="0.5"/>
<polygon points="777.37,218.57 785.27,226.67 777.37,234.77 769.47,226.67" fill="#ff0000" stroke="#fff" stroke-width="0.5"/>
<polygon points="791.85,219.63 799.75,227.73 791.85,235.83 783.95,227.73" fill="#ff0000" stroke="#fff" stroke-width="0.5"/>
<polygon points="806.34,221.2 814.24,229.3 806.34,237.4 798.44,229.3" fill="#ff0000" stroke="#fff" stroke-width="0.5"/>
<polygon points="820.83,222.8 828.73,230.9 820.83,239 812.93,230.9" fill="#ff0000" stroke="#fff" stroke-width="0.5"/>
<polygon points="835.32,224.28 843.22,232.38 835.32,240.48 827.42,232.38" fill="#ff0000" stroke="#fff" stroke-width="0.5"/>
<polygon points="849.81,226.4 857.71,234.5 849.81,242.6 841.91,234.5" fill="#ff0000" stroke="#fff" stroke-width="0.5"/>
<path d="M154.34 161.76 L168.83 162.6 L183.32 164.29 L197.81 165.99 L212.29 166.83 L226.78 167.68 L241.27 169.37 L255.76 171.06 L270.25 172.33 L284.74 173.6 L299.23 175.29 L313.72 176.56 L328.21 177.83 L342.7 179.1 L357.18 180.79 L371.67 182.06 L386.16 183.75 L400.65 184.59 L415.14 186.71 L429.63 188.4 L444.12 190.09 L458.61 192.63 L473.1 194.32 L487.59 197.28 L502.08 200.65 L516.56 202.08 L531.05 203.71 L545.54 205.75 L560.03 208.82 L574.52 211.88 L589.01 214.33 L603.5 217.6 L617.99 220.46 L632.48 223.52 L646.96 226.58 L661.45 230.87 L675.94 234.34 L690.43 237.41 L704.92 241.9 L719.41 244.96 L733.9 247.62 L748.39 251.7 L762.88 255.79 L777.37 260.48 L791.85 263.96 L806.34 268.65 L820.83 272.12 L835.32 276.21 L849.81 280.9 L864.3 285.81" fill="none" stroke="#0000ff" stroke-width="1.8"/>
<circle cx="154.34" cy="161.76" r="6.65" fill="#0000ff" stroke="#fff" stroke-width="0.5"/>
<circle cx="168.83" cy="162.6" r="6.65" fill="#0000ff" stroke="#fff" stroke-width="0.5"/>
<circle cx="183.32" cy="164.29" r="6.65" fill="#0000ff" stroke="#fff" stroke-width="0.5"/>
<circle cx="197.81" cy="165.99" r="6.65" fill="#0000ff" stroke="#fff" stroke-width="0.5"/>
<circle cx="212.29" cy="166.83" r="6.65" fill="#0000ff" stroke="#fff" stroke-width="0.5"/>
<circle cx="226.78" cy="167.68" r="6.65" fill="#0000ff" stroke="#fff" stroke-width="0.5"/>
<circle cx="241.27" cy="169.37" r="6.65" fill="#0000ff" stroke="#fff" stroke-width="0.5"/>
<circle cx="255.76" cy="171.06" r="6.65" fill="#0000ff" stroke="#fff" stroke-width="0.5"/>
<circle cx="270.25" cy="172.33" r="6.65" fill="#0000ff" stroke="#fff" stroke-width="0.5"/>
<circle cx="284.74" cy="173.6" r="6.65" fill="#0000ff" stroke="#fff" stroke-width="0.5"/>
<circle cx="299.23" cy="175.29" r="6.65" fill="#0000ff" stroke="#fff" stroke-width="0.5"/>
<circle cx="313.72" cy="176.56" r="6.65" fill="#0000ff" stroke="#fff" stroke-width="0.5"/>
<circle cx="328.21" cy="177.83" r="6.65" fill="#0000ff" stroke="#fff" stroke-width="0.5"/>
<circle cx="342.7" cy="179.1" r="6.65" fill="#0000ff" stroke="#fff" stroke-width="0.5"/>
<circle cx="357.18" cy="180.79" r="6.65" fill="#0000ff" stroke="#fff" stroke-width="0.5"/>
<circle cx="371.67" cy="182.06" r="6.65" fill="#0000ff" stroke="#fff" stroke-width="0.5"/>
<circle cx="386.16" cy="183.75" r="6.65" fill="#0000ff" stroke="#fff" stroke-width="0.5"/>
<circle cx="400.65" cy="184.59" r="6.65" fill="#0000ff" stroke="#fff" stroke-width="0.5"/>
<circle cx="415.14" cy="186.71" r="6.65" fill="#0000ff" stroke="#fff" stroke-width="0.5"/>
<circle cx="429.63" cy="188.4" r="6.65" fill="#0000ff" stroke="#fff" stroke-width="0.5"/>
<circle cx="444.12" cy="190.09" r="6.65" fill="#0000ff" stroke="#fff" stroke-width="0.5"/>
<circle cx="458.61" cy="192.63" r="6.65" fill="#0000ff" stroke="#fff" stroke-width="0.5"/>
<circle cx="473.1" cy="194.32" r="6.65" fill="#0000ff" stroke="#fff" stroke-width="0.5"/>
<circle cx="487.59" cy="197.28" r="6.65" fill="#0000ff" stroke="#fff" stroke-width="0.5"/>
<circle cx="502.08" cy="200.65" r="6.65" fill="#0000ff" stroke="#fff" stroke-width="0.5"/>
<circle cx="516.56" cy="202.08" r="6.65" fill="#0000ff" stroke="#fff" stroke-width="0.5"/>
<circle cx="531.05" cy="203.71" r="6.65" fill="#0000ff" stroke="#fff" stroke-width="0.5"/>
<circle cx="545.54" cy="205.75" r="6.65" fill="#0000ff" stroke="#fff" stroke-width="0.5"/>
<circle cx="560.03" cy="208.82" r="6.65" fill="#0000ff" stroke="#fff" stroke-width="0.5"/>
<circle cx="574.52" cy="211.88" r="6.65" fill="#0000ff" stroke="#fff" stroke-width="0.5"/>
<circle cx="589.01" cy="214.33" r="6.65" fill="#0000ff" stroke="#fff" stroke-width="0.5"/>
<circle cx="603.5" cy="217.6" r="6.65" fill="#0000ff" stroke="#fff" stroke-width="0.5"/>
<circle cx="617.99" cy="220.46" r="6.65" fill="#0000ff" stroke="#fff" stroke-width="0.5"/>
<circle cx="632.48" cy="223.52" r="6.65" fill="#0000ff" stroke="#fff" stroke-width="0.5"/>
<circle cx="646.96" cy="226.58" r="6.65" fill="#0000ff" stroke="#fff" stroke-width="0.5"/>
<circle cx="661.45" cy="230.87" r="6.65" fill="#0000ff" stroke="#fff" stroke-width="0.5"/>
<circle cx="675.94" cy="234.34" r="6.65" fill="#0000ff" stroke="#fff" stroke-width="0.5"/>
<circle cx="690.43" cy="237.41" r="6.65" fill="#0000ff" stroke="#fff" stroke-width="0.5"/>
<circle cx="704.92" cy="241.9" r="6.65" fill="#0000ff" stroke="#fff" stroke-width="0.5"/>
<circle cx="719.41" cy="244.96" r="6.65" fill="#0000ff" stroke="#fff" stroke-width="0.5"/>
<circle cx="733.9" cy="247.62" r="6.65" fill="#0000ff" stroke="#fff" stroke-width="0.5"/>
<circle cx="748.39" cy="251.7" r="6.65" fill="#0000ff" stroke="#fff" stroke-width="0.5"/>
<circle cx="762.88" cy="255.79" r="6.65" fill="#0000ff" stroke="#fff" stroke-width="0.5"/>
<circle cx="777.37" cy="260.48" r="6.65" fill="#0000ff" stroke="#fff" stroke-width="0.5"/>
<circle cx="791.85" cy="263.96" r="6.65" fill="#0000ff" stroke="#fff" stroke-width="0.5"/>
<circle cx="806.34" cy="268.65" r="6.65" fill="#0000ff" stroke="#fff" stroke-width="0.5"/>
<circle cx="820.83" cy="272.12" r="6.65" fill="#0000ff" stroke="#fff" stroke-width="0.5"/>
<circle cx="835.32" cy="276.21" r="6.65" fill="#0000ff" stroke="#fff" stroke-width="0.5"/>
<circle cx="849.81" cy="280.9" r="6.65" fill="#0000ff" stroke="#fff" stroke-width="0.5"/>
<circle cx="864.3" cy="285.81" r="6.65" fill="#0000ff" stroke="#fff" stroke-width="0.5"/>
<rect x="157.1" y="274.1" width="357.4" height="245" fill="#fff" stroke="#000" stroke-width="1.8"/>
<path d="M171.3 302.4H236" stroke="#000000" stroke-width="2.2"/>
<circle cx="203.5" cy="302.4" r="6.6" fill="#000000"/>
<text x="251" y="311" font-size="24.2"><tspan>Ni-GDC</tspan></text>
<path d="M171.3 336.6H236" stroke="#0000ff" stroke-width="1.5"/>
<circle cx="203.5" cy="336.6" r="6.6" fill="#0000ff"/>
<text x="251" y="341.6" font-size="28.1"><tspan>Ni</tspan><tspan dy="9.0" font-size="18.6">80</tspan><tspan dy="-9.0">Co</tspan><tspan dy="9.0" font-size="18.6">20</tspan><tspan dy="-9.0">-GDC</tspan></text>
<path d="M171.3 374.5H236" stroke="#00ff00" stroke-width="1.5"/>
<polygon points="203.5,366.5 210.5,378.5 196.5,378.5" fill="#00ff00"/>
<text x="251" y="379.7" font-size="24.2"><tspan>Ni</tspan><tspan dy="7.5" font-size="17.0">80</tspan><tspan dy="-7.5">Fe</tspan><tspan dy="7.5" font-size="17.0">20</tspan><tspan dy="-7.5">-GDC</tspan></text>
<path d="M171.3 410H236" stroke="#ff00ff" stroke-width="1.5"/>
<polygon points="203.5,418 210.5,406 196.5,406" fill="#ff00ff"/>
<text x="251" y="414.9" font-size="24.2"><tspan>Ni</tspan><tspan dy="7.5" font-size="17.0">80</tspan><tspan dy="-7.5">Cr</tspan><tspan dy="7.5" font-size="17.0">20</tspan><tspan dy="-7.5">-GDC</tspan></text>
<path d="M171.3 445.5H236" stroke="#ff0000" stroke-width="1.5" stroke-dasharray="14.5 5"/>
<polygon points="203.5,437.4 211.4,445.5 203.5,453.6 195.6,445.5" fill="#ff0000"/>
<text x="251" y="450.2" font-size="24.0"><tspan>Ni</tspan><tspan dy="7.5" font-size="17.0">74.5</tspan><tspan dy="-7.5">Cr</tspan><tspan dy="7.5" font-size="17.0">17.2</tspan><tspan dy="-7.5">Fe</tspan><tspan dy="7.5" font-size="17.0">8.3</tspan><tspan dy="-7.5">-GDC</tspan></text>
<path d="M171.3 483.5H236" stroke="#8000ff" stroke-width="1.5" stroke-dasharray="14.5 5"/>
<polygon points="203.5,476.8 205.56,481.27 210.44,481.84 206.83,485.18 207.79,490.01 203.5,487.6 199.21,490.01 200.17,485.18 196.56,481.84 201.44,481.27" fill="#8000ff"/>
<text x="251" y="488.4" font-size="27.7"><tspan>Ni</tspan><tspan dy="8.8" font-size="19.2">58.3</tspan><tspan dy="-8.8">Cr</tspan><tspan dy="8.8" font-size="19.2">25.0</tspan><tspan dy="-8.8">Fe</tspan><tspan dy="8.8" font-size="19.2">16.7</tspan><tspan dy="-8.8">-GDC</tspan></text>
<rect x="1071.6" y="26" width="724.2" height="507.3" fill="none" stroke="#000" stroke-width="1.8"/>
<path d="M1216.44 533.3V525.8M1361.28 533.3V525.8M1506.12 533.3V525.8M1650.96 533.3V525.8M1071.6 406.47H1079.6M1071.6 279.65H1079.6M1071.6 152.82H1079.6" stroke="#000" stroke-width="1.8" fill="none"/>
<text x="1071.6" y="579.3" text-anchor="middle" font-size="33.5">0</text>
<text x="1216.44" y="579.3" text-anchor="middle" font-size="33.5">10</text>
<text x="1361.28" y="579.3" text-anchor="middle" font-size="33.5">20</text>
<text x="1506.12" y="579.3" text-anchor="middle" font-size="33.5">30</text>
<text x="1650.96" y="579.3" text-anchor="middle" font-size="33.5">40</text>
<text x="1795.8" y="579.3" text-anchor="middle" font-size="33.5">50</text>
<text x="1055.1" y="544.52" text-anchor="end" font-size="33.5">0.0</text>
<text x="1055.1" y="417.7" text-anchor="end" font-size="33.5">0.1</text>
<text x="1055.1" y="290.87" text-anchor="end" font-size="33.5">0.2</text>
<text x="1055.1" y="164.05" text-anchor="end" font-size="33.5">0.3</text>
<text x="1055.1" y="37.22" text-anchor="end" font-size="33.5">0.4</text>
<path d="M1086.08 383.9V474.8M1078.38 383.9H1093.78M1078.38 474.8H1093.78M1100.57 387.6V474.8M1092.87 387.6H1108.27M1092.87 474.8H1108.27M1115.05 391.7V475.8M1107.35 391.7H1122.75M1107.35 475.8H1122.75M1129.54 394.1V477.4M1121.84 394.1H1137.24M1121.84 477.4H1137.24M1144.02 396.1V478.8M1136.32 396.1H1151.72M1136.32 478.8H1151.72M1158.5 398.2V479.4M1150.8 398.2H1166.2M1150.8 479.4H1166.2M1172.99 400.2V480.5M1165.29 400.2H1180.69M1165.29 480.5H1180.69M1187.47 402.5V481.1M1179.77 402.5H1195.17M1179.77 481.1H1195.17M1201.96 403.5V481.5M1194.26 403.5H1209.66M1194.26 481.5H1209.66M1216.44 405.3V481.8M1208.74 405.3H1224.14M1208.74 481.8H1224.14M1230.92 406.6V481.81M1223.22 406.6H1238.62M1223.22 481.81H1238.62M1245.41 407.6V481.81M1237.71 407.6H1253.11M1237.71 481.81H1253.11M1259.89 408.6V481.82M1252.19 408.6H1267.59M1252.19 481.82H1267.59M1274.38 409.4V481.83M1266.68 409.4H1282.08M1266.68 481.83H1282.08M1288.86 410V481.83M1281.16 410H1296.56M1281.16 481.83H1296.56M1303.34 410.6V481.84M1295.64 410.6H1311.04M1295.64 481.84H1311.04M1317.83 411V481.85M1310.13 411H1325.53M1310.13 481.85H1325.53M1332.31 411.7V481.85M1324.61 411.7H1340.01M1324.61 481.85H1340.01M1346.8 412.5V481.86M1339.1 412.5H1354.5M1339.1 481.86H1354.5M1361.28 413.1V481.87M1353.58 413.1H1368.98M1353.58 481.87H1368.98M1375.76 413.42V481.87M1368.06 413.42H1383.46M1368.06 481.87H1383.46M1390.25 413.74V481.88M1382.55 413.74H1397.95M1382.55 481.88H1397.95M1404.73 414.06V481.89M1397.03 414.06H1412.43M1397.03 481.89H1412.43M1419.22 414.38V481.89M1411.52 414.38H1426.92M1411.52 481.89H1426.92M1433.7 414.7V481.9M1426 414.7H1441.4M1426 481.9H1441.4M1448.18 414.95V481.99M1440.48 414.95H1455.88M1440.48 481.99H1455.88M1462.67 415.19V482.07M1454.97 415.19H1470.37M1454.97 482.07H1470.37M1477.15 415.44V482.16M1469.45 415.44H1484.85M1469.45 482.16H1484.85M1491.64 415.68V482.25M1483.94 415.68H1499.34M1483.94 482.25H1499.34M1506.12 415.93V482.34M1498.42 415.93H1513.82M1498.42 482.34H1513.82M1520.6 416.18V482.42M1512.9 416.18H1528.3M1512.9 482.42H1528.3M1535.09 416.42V482.51M1527.39 416.42H1542.79M1527.39 482.51H1542.79M1549.57 416.67V482.6M1541.87 416.67H1557.27M1541.87 482.6H1557.27M1564.06 416.91V482.69M1556.36 416.91H1571.76M1556.36 482.69H1571.76M1578.54 417.16V482.77M1570.84 417.16H1586.24M1570.84 482.77H1586.24M1593.02 417.4V482.86M1585.32 417.4H1600.72M1585.32 482.86H1600.72M1607.51 417.65V482.95M1599.81 417.65H1615.21M1599.81 482.95H1615.21M1621.99 417.9V483.04M1614.29 417.9H1629.69M1614.29 483.04H1629.69M1636.48 418.14V483.12M1628.78 418.14H1644.18M1628.78 483.12H1644.18M1650.96 418.39V483.21M1643.26 418.39H1658.66M1643.26 483.21H1658.66M1665.44 418.63V483.3M1657.74 418.63H1673.14M1657.74 483.3H1673.14M1679.93 418.88V483.39M1672.23 418.88H1687.63M1672.23 483.39H1687.63M1694.41 419.12V483.48M1686.71 419.12H1702.11M1686.71 483.48H1702.11M1708.9 419.37V483.56M1701.2 419.37H1716.6M1701.2 483.56H1716.6M1723.38 419.62V483.65M1715.68 419.62H1731.08M1715.68 483.65H1731.08M1737.86 419.86V483.74M1730.16 419.86H1745.56M1730.16 483.74H1745.56M1752.35 420.11V483.82M1744.65 420.11H1760.05M1744.65 483.82H1760.05M1766.83 420.35V483.91M1759.13 420.35H1774.53M1759.13 483.91H1774.53M1781.32 420.6V484M1773.62 420.6H1789.02M1773.62 484H1789.02M1795.8 431.5V489.7M1788.1 431.5H1803.5M1788.1 489.7H1803.5" stroke="#000" stroke-width="1.3" fill="none"/>
<path d="M1086.08 429 L1100.57 430.9 L1115.05 433.5 L1129.54 435.6 L1144.02 437.2 L1158.5 439 L1172.99 440.3 L1187.47 441.3 L1201.96 442.3 L1216.44 443.1 L1230.92 443.7 L1245.41 444.1 L1259.89 444.7 L1274.38 445.2 L1288.86 445.4 L1303.34 445.8 L1317.83 446.2 L1332.31 446.6 L1346.8 446.8 L1361.28 447.2 L1375.76 447.4 L1390.25 447.6 L1404.73 447.8 L1419.22 448 L1433.7 448.2 L1448.18 448.35 L1462.67 448.51 L1477.15 448.66 L1491.64 448.82 L1506.12 448.97 L1520.6 449.12 L1535.09 449.28 L1549.57 449.43 L1564.06 449.59 L1578.54 449.74 L1593.02 449.9 L1607.51 450.05 L1621.99 450.2 L1636.48 450.36 L1650.96 450.51 L1665.44 450.67 L1679.93 450.82 L1694.41 450.97 L1708.9 451.13 L1723.38 451.28 L1737.86 451.44 L1752.35 451.59 L1766.83 451.75 L1781.32 451.9 L1795.8 460.1" stroke="#000" stroke-width="1.3" fill="none"/>
<circle cx="1086.08" cy="429" r="6.65" fill="#000"/>
<circle cx="1100.57" cy="430.9" r="6.65" fill="#000"/>
<circle cx="1115.05" cy="433.5" r="6.65" fill="#000"/>
<circle cx="1129.54" cy="435.6" r="6.65" fill="#000"/>
<circle cx="1144.02" cy="437.2" r="6.65" fill="#000"/>
<circle cx="1158.5" cy="439" r="6.65" fill="#000"/>
<circle cx="1172.99" cy="440.3" r="6.65" fill="#000"/>
<circle cx="1187.47" cy="441.3" r="6.65" fill="#000"/>
<circle cx="1201.96" cy="442.3" r="6.65" fill="#000"/>
<circle cx="1216.44" cy="443.1" r="6.65" fill="#000"/>
<circle cx="1230.92" cy="443.7" r="6.65" fill="#000"/>
<circle cx="1245.41" cy="444.1" r="6.65" fill="#000"/>
<circle cx="1259.89" cy="444.7" r="6.65" fill="#000"/>
<circle cx="1274.38" cy="445.2" r="6.65" fill="#000"/>
<circle cx="1288.86" cy="445.4" r="6.65" fill="#000"/>
<circle cx="1303.34" cy="445.8" r="6.65" fill="#000"/>
<circle cx="1317.83" cy="446.2" r="6.65" fill="#000"/>
<circle cx="1332.31" cy="446.6" r="6.65" fill="#000"/>
<circle cx="1346.8" cy="446.8" r="6.65" fill="#000"/>
<circle cx="1361.28" cy="447.2" r="6.65" fill="#000"/>
<circle cx="1375.76" cy="447.4" r="6.65" fill="#000"/>
<circle cx="1390.25" cy="447.6" r="6.65" fill="#000"/>
<circle cx="1404.73" cy="447.8" r="6.65" fill="#000"/>
<circle cx="1419.22" cy="448" r="6.65" fill="#000"/>
<circle cx="1433.7" cy="448.2" r="6.65" fill="#000"/>
<circle cx="1448.18" cy="448.35" r="6.65" fill="#000"/>
<circle cx="1462.67" cy="448.51" r="6.65" fill="#000"/>
<circle cx="1477.15" cy="448.66" r="6.65" fill="#000"/>
<circle cx="1491.64" cy="448.82" r="6.65" fill="#000"/>
<circle cx="1506.12" cy="448.97" r="6.65" fill="#000"/>
<circle cx="1520.6" cy="449.12" r="6.65" fill="#000"/>
<circle cx="1535.09" cy="449.28" r="6.65" fill="#000"/>
<circle cx="1549.57" cy="449.43" r="6.65" fill="#000"/>
<circle cx="1564.06" cy="449.59" r="6.65" fill="#000"/>
<circle cx="1578.54" cy="449.74" r="6.65" fill="#000"/>
<circle cx="1593.02" cy="449.9" r="6.65" fill="#000"/>
<circle cx="1607.51" cy="450.05" r="6.65" fill="#000"/>
<circle cx="1621.99" cy="450.2" r="6.65" fill="#000"/>
<circle cx="1636.48" cy="450.36" r="6.65" fill="#000"/>
<circle cx="1650.96" cy="450.51" r="6.65" fill="#000"/>
<circle cx="1665.44" cy="450.67" r="6.65" fill="#000"/>
<circle cx="1679.93" cy="450.82" r="6.65" fill="#000"/>
<circle cx="1694.41" cy="450.97" r="6.65" fill="#000"/>
<circle cx="1708.9" cy="451.13" r="6.65" fill="#000"/>
<circle cx="1723.38" cy="451.28" r="6.65" fill="#000"/>
<circle cx="1737.86" cy="451.44" r="6.65" fill="#000"/>
<circle cx="1752.35" cy="451.59" r="6.65" fill="#000"/>
<circle cx="1766.83" cy="451.75" r="6.65" fill="#000"/>
<circle cx="1781.32" cy="451.9" r="6.65" fill="#000"/>
<circle cx="1795.8" cy="460.1" r="6.65" fill="#000"/>
<rect x="1095.4" y="76.8" width="296.1" height="69.4" fill="#fff" stroke="#000" stroke-width="1.8"/>
<path d="M1109.4 111.8H1192.3" stroke="#000" stroke-width="1.4"/>
<circle cx="1150.5" cy="111.8" r="6.6" fill="#000"/>
<text x="1211.5" y="124.1" font-size="36.4">LSM-ScSZ</text>
<rect x="139.8" y="713.2" width="724.6" height="507.8" fill="none" stroke="#000" stroke-width="1.8"/>
<path d="M284.72 1221V1213.5M429.64 1221V1213.5M574.56 1221V1213.5M719.48 1221V1213.5M139.8 1094.05H147.8M139.8 967.1H147.8M139.8 840.15H147.8" stroke="#000" stroke-width="1.8" fill="none"/>
<text x="139.8" y="1267" text-anchor="middle" font-size="33.5">0</text>
<text x="284.72" y="1267" text-anchor="middle" font-size="33.5">10</text>
<text x="429.64" y="1267" text-anchor="middle" font-size="33.5">20</text>
<text x="574.56" y="1267" text-anchor="middle" font-size="33.5">30</text>
<text x="719.48" y="1267" text-anchor="middle" font-size="33.5">40</text>
<text x="864.4" y="1267" text-anchor="middle" font-size="33.5">50</text>
<text x="123.3" y="1232.22" text-anchor="end" font-size="33.5">0.0</text>
<text x="123.3" y="1105.27" text-anchor="end" font-size="33.5">0.1</text>
<text x="123.3" y="978.32" text-anchor="end" font-size="33.5">0.2</text>
<text x="123.3" y="851.37" text-anchor="end" font-size="33.5">0.3</text>
<text x="123.3" y="724.42" text-anchor="end" font-size="33.5">0.4</text>
<path d="M154.29 1186.1V1209.6M146.59 1186.1H161.99M146.59 1209.6H161.99M168.78 1186.5V1211M161.08 1186.5H176.48M161.08 1211H176.48M183.28 1187V1211M175.58 1187H190.98M175.58 1211H190.98M197.77 1187.6V1211M190.07 1187.6H205.47M190.07 1211H205.47M212.26 1189.6V1211M204.56 1189.6H219.96M204.56 1211H219.96M226.75 1192V1211M219.05 1192H234.45M219.05 1211H234.45M241.24 1193.3V1211.5M233.54 1193.3H248.94M233.54 1211.5H248.94M255.74 1194.2V1212M248.04 1194.2H263.44M248.04 1212H263.44M270.23 1194.6V1212M262.53 1194.6H277.93M262.53 1212H277.93M284.72 1195V1212M277.02 1195H292.42M277.02 1212H292.42M299.21 1195.7V1212M291.51 1195.7H306.91M291.51 1212H306.91M313.7 1195.7V1212M306 1195.7H321.4M306 1212H321.4M328.2 1195.7V1212M320.5 1195.7H335.9M320.5 1212H335.9M342.69 1195.7V1212M334.99 1195.7H350.39M334.99 1212H350.39M357.18 1195.7V1212M349.48 1195.7H364.88M349.48 1212H364.88M371.67 1195.7V1212M363.97 1195.7H379.37M363.97 1212H379.37M386.16 1195.7V1212M378.46 1195.7H393.86M378.46 1212H393.86M400.66 1195.7V1212M392.96 1195.7H408.36M392.96 1212H408.36M415.15 1195.7V1212M407.45 1195.7H422.85M407.45 1212H422.85M429.64 1194.7V1212M421.94 1194.7H437.34M421.94 1212H437.34M444.13 1194.3V1212M436.43 1194.3H451.83M436.43 1212H451.83M458.62 1193.9V1212M450.92 1193.9H466.32M450.92 1212H466.32M473.12 1193.5V1212M465.42 1193.5H480.82M465.42 1212H480.82M487.61 1193.1V1212M479.91 1193.1H495.31M479.91 1212H495.31M502.1 1192.7V1212M494.4 1192.7H509.8M494.4 1212H509.8M516.59 1192.39V1212M508.89 1192.39H524.29M508.89 1212H524.29M531.08 1192.08V1212M523.38 1192.08H538.78M523.38 1212H538.78M545.58 1191.77V1212M537.88 1191.77H553.28M537.88 1212H553.28M560.07 1191.46V1212M552.37 1191.46H567.77M552.37 1212H567.77M574.56 1191.15V1212M566.86 1191.15H582.26M566.86 1212H582.26M589.05 1190.84V1211.8M581.35 1190.84H596.75M581.35 1211.8H596.75M603.54 1190.53V1211.6M595.84 1190.53H611.24M595.84 1211.6H611.24M618.04 1190.22V1211.4M610.34 1190.22H625.74M610.34 1211.4H625.74M632.53 1189.91V1211.2M624.83 1189.91H640.23M624.83 1211.2H640.23M647.02 1189.6V1211M639.32 1189.6H654.72M639.32 1211H654.72M661.51 1189.4V1210.95M653.81 1189.4H669.21M653.81 1210.95H669.21M676 1189.2V1210.9M668.3 1189.2H683.7M668.3 1210.9H683.7M690.5 1189V1210.85M682.8 1189H698.2M682.8 1210.85H698.2M704.99 1188.8V1210.8M697.29 1188.8H712.69M697.29 1210.8H712.69M719.48 1188.6V1210.75M711.78 1188.6H727.18M711.78 1210.75H727.18M733.97 1188.4V1210.7M726.27 1188.4H741.67M726.27 1210.7H741.67M748.46 1188.2V1210.65M740.76 1188.2H756.16M740.76 1210.65H756.16M762.96 1188V1210.6M755.26 1188H770.66M755.26 1210.6H770.66M777.45 1187.8V1210.55M769.75 1187.8H785.15M769.75 1210.55H785.15M791.94 1187.6V1210.5M784.24 1187.6H799.64M784.24 1210.5H799.64M806.43 1187.5V1210.38M798.73 1187.5H814.13M798.73 1210.38H814.13M820.92 1187.4V1210.25M813.22 1187.4H828.62M813.22 1210.25H828.62M835.42 1187.3V1210.12M827.72 1187.3H843.12M827.72 1210.12H843.12M849.91 1187.2V1210M842.21 1187.2H857.61M842.21 1210H857.61M864.4 1185.5V1209M856.7 1185.5H872.1M856.7 1209H872.1" stroke="#000" stroke-width="1.3" fill="none"/>
<path d="M154.29 1198.2 L168.78 1198.8 L183.28 1199.4 L197.77 1199.8 L212.26 1200.2 L226.75 1201.5 L241.24 1202.3 L255.74 1202.9 L270.23 1203.3 L284.72 1203.5 L299.21 1203.5 L313.7 1203.5 L328.2 1203.5 L342.69 1203.5 L357.18 1203.5 L371.67 1203.5 L386.16 1203.5 L400.66 1203.5 L415.15 1203.5 L429.64 1203.5 L444.13 1203.26 L458.62 1203.02 L473.12 1202.78 L487.61 1202.54 L502.1 1202.3 L516.59 1202.15 L531.08 1202 L545.58 1201.85 L560.07 1201.7 L574.56 1201.55 L589.05 1201.4 L603.54 1201.25 L618.04 1201.1 L632.53 1200.95 L647.02 1200.8 L661.51 1200.7 L676 1200.6 L690.5 1200.5 L704.99 1200.4 L719.48 1200.3 L733.97 1200.2 L748.46 1200.1 L762.96 1200 L777.45 1199.9 L791.94 1199.8 L806.43 1199.7 L820.92 1199.6 L835.42 1199.5 L849.91 1199.4 L864.4 1197.8" stroke="#000" stroke-width="1.3" fill="none"/>
<circle cx="154.29" cy="1198.2" r="6.65" fill="#000"/>
<circle cx="168.78" cy="1198.8" r="6.65" fill="#000"/>
<circle cx="183.28" cy="1199.4" r="6.65" fill="#000"/>
<circle cx="197.77" cy="1199.8" r="6.65" fill="#000"/>
<circle cx="212.26" cy="1200.2" r="6.65" fill="#000"/>
<circle cx="226.75" cy="1201.5" r="6.65" fill="#000"/>
<circle cx="241.24" cy="1202.3" r="6.65" fill="#000"/>
<circle cx="255.74" cy="1202.9" r="6.65" fill="#000"/>
<circle cx="270.23" cy="1203.3" r="6.65" fill="#000"/>
<circle cx="284.72" cy="1203.5" r="6.65" fill="#000"/>
<circle cx="299.21" cy="1203.5" r="6.65" fill="#000"/>
<circle cx="313.7" cy="1203.5" r="6.65" fill="#000"/>
<circle cx="328.2" cy="1203.5" r="6.65" fill="#000"/>
<circle cx="342.69" cy="1203.5" r="6.65" fill="#000"/>
<circle cx="357.18" cy="1203.5" r="6.65" fill="#000"/>
<circle cx="371.67" cy="1203.5" r="6.65" fill="#000"/>
<circle cx="386.16" cy="1203.5" r="6.65" fill="#000"/>
<circle cx="400.66" cy="1203.5" r="6.65" fill="#000"/>
<circle cx="415.15" cy="1203.5" r="6.65" fill="#000"/>
<circle cx="429.64" cy="1203.5" r="6.65" fill="#000"/>
<circle cx="444.13" cy="1203.26" r="6.65" fill="#000"/>
<circle cx="458.62" cy="1203.02" r="6.65" fill="#000"/>
<circle cx="473.12" cy="1202.78" r="6.65" fill="#000"/>
<circle cx="487.61" cy="1202.54" r="6.65" fill="#000"/>
<circle cx="502.1" cy="1202.3" r="6.65" fill="#000"/>
<circle cx="516.59" cy="1202.15" r="6.65" fill="#000"/>
<circle cx="531.08" cy="1202" r="6.65" fill="#000"/>
<circle cx="545.58" cy="1201.85" r="6.65" fill="#000"/>
<circle cx="560.07" cy="1201.7" r="6.65" fill="#000"/>
<circle cx="574.56" cy="1201.55" r="6.65" fill="#000"/>
<circle cx="589.05" cy="1201.4" r="6.65" fill="#000"/>
<circle cx="603.54" cy="1201.25" r="6.65" fill="#000"/>
<circle cx="618.04" cy="1201.1" r="6.65" fill="#000"/>
<circle cx="632.53" cy="1200.95" r="6.65" fill="#000"/>
<circle cx="647.02" cy="1200.8" r="6.65" fill="#000"/>
<circle cx="661.51" cy="1200.7" r="6.65" fill="#000"/>
<circle cx="676" cy="1200.6" r="6.65" fill="#000"/>
<circle cx="690.5" cy="1200.5" r="6.65" fill="#000"/>
<circle cx="704.99" cy="1200.4" r="6.65" fill="#000"/>
<circle cx="719.48" cy="1200.3" r="6.65" fill="#000"/>
<circle cx="733.97" cy="1200.2" r="6.65" fill="#000"/>
<circle cx="748.46" cy="1200.1" r="6.65" fill="#000"/>
<circle cx="762.96" cy="1200" r="6.65" fill="#000"/>
<circle cx="777.45" cy="1199.9" r="6.65" fill="#000"/>
<circle cx="791.94" cy="1199.8" r="6.65" fill="#000"/>
<circle cx="806.43" cy="1199.7" r="6.65" fill="#000"/>
<circle cx="820.92" cy="1199.6" r="6.65" fill="#000"/>
<circle cx="835.42" cy="1199.5" r="6.65" fill="#000"/>
<circle cx="849.91" cy="1199.4" r="6.65" fill="#000"/>
<circle cx="864.4" cy="1197.8" r="6.65" fill="#000"/>
<rect x="169.5" y="761.2" width="295.9" height="70.2" fill="#fff" stroke="#000" stroke-width="1.8"/>
<path d="M183.3 795.9H266.2" stroke="#000" stroke-width="1.4"/>
<circle cx="224.6" cy="795.9" r="6.6" fill="#000"/>
<text x="286.2" y="808.3" font-size="36.4">LSM-ScSZ</text>
<rect x="1072" y="692.6" width="732.8" height="527.6" fill="none" stroke="#000" stroke-width="1.8"/>
<path d="M1218.56 1220.2V1212.7M1365.12 1220.2V1212.7M1511.68 1220.2V1212.7M1658.24 1220.2V1212.7M1072 1132.27H1080M1072 1044.33H1080M1072 956.4H1080M1072 868.47H1080M1072 780.53H1080" stroke="#000" stroke-width="1.8" fill="none"/>
<text x="1072" y="1267" text-anchor="middle" font-size="34.8">0</text>
<text x="1218.56" y="1267" text-anchor="middle" font-size="34.8">10</text>
<text x="1365.12" y="1267" text-anchor="middle" font-size="34.8">20</text>
<text x="1511.68" y="1267" text-anchor="middle" font-size="34.8">30</text>
<text x="1658.24" y="1267" text-anchor="middle" font-size="34.8">40</text>
<text x="1804.8" y="1267" text-anchor="middle" font-size="34.8">50</text>
<text x="1055.5" y="1231.86" text-anchor="end" font-size="34.8">0.0</text>
<text x="1055.5" y="1143.92" text-anchor="end" font-size="34.8">0.2</text>
<text x="1055.5" y="1055.99" text-anchor="end" font-size="34.8">0.4</text>
<text x="1055.5" y="968.06" text-anchor="end" font-size="34.8">0.6</text>
<text x="1055.5" y="880.12" text-anchor="end" font-size="34.8">0.8</text>
<text x="1055.5" y="792.19" text-anchor="end" font-size="34.8">1.0</text>
<text x="1055.5" y="704.26" text-anchor="end" font-size="34.8">1.2</text>
<path d="M1086.66 1213.17 L1101.31 1214.04 L1115.97 1210.53 L1130.62 1209.65 L1145.28 1208.77 L1159.94 1207.01 L1174.59 1204.37 L1189.25 1201.73 L1203.9 1199.98 L1218.56 1198.66 L1233.22 1197.78 L1247.87 1197.12 L1262.53 1196.46 L1277.18 1195.8 L1291.84 1195.14 L1306.5 1194.79 L1321.15 1194.44 L1335.81 1194.08 L1350.46 1193.73 L1365.12 1193.38 L1379.78 1193.2 L1394.43 1193.03 L1409.09 1192.85 L1423.74 1192.68 L1438.4 1192.5 L1453.06 1192.15 L1467.71 1191.8 L1482.37 1191.45 L1497.02 1191.09 L1511.68 1190.74 L1526.34 1189.86 L1540.99 1188.98 L1555.65 1187.66 L1570.3 1186.35 L1584.96 1185.25 L1599.62 1184.41 L1614.27 1182.83 L1628.93 1181.95 L1643.58 1180.41 L1658.24 1178.87 L1672.9 1177.99 L1687.55 1176.67 L1702.21 1174.55 L1716.86 1172.42 L1731.52 1170.3 L1746.18 1168.82 L1760.83 1167.34 L1775.49 1165.87 L1790.14 1164.39 L1804.8 1162.91" fill="none" stroke="#000000" stroke-width="2.6"/>
<circle cx="1086.66" cy="1213.17" r="6.65" fill="#000000"/>
<circle cx="1101.31" cy="1214.04" r="6.65" fill="#000000"/>
<circle cx="1115.97" cy="1210.53" r="6.65" fill="#000000"/>
<circle cx="1130.62" cy="1209.65" r="6.65" fill="#000000"/>
<circle cx="1145.28" cy="1208.77" r="6.65" fill="#000000"/>
<circle cx="1159.94" cy="1207.01" r="6.65" fill="#000000"/>
<circle cx="1174.59" cy="1204.37" r="6.65" fill="#000000"/>
<circle cx="1189.25" cy="1201.73" r="6.65" fill="#000000"/>
<circle cx="1203.9" cy="1199.98" r="6.65" fill="#000000"/>
<circle cx="1218.56" cy="1198.66" r="6.65" fill="#000000"/>
<circle cx="1233.22" cy="1197.78" r="6.65" fill="#000000"/>
<circle cx="1247.87" cy="1197.12" r="6.65" fill="#000000"/>
<circle cx="1262.53" cy="1196.46" r="6.65" fill="#000000"/>
<circle cx="1277.18" cy="1195.8" r="6.65" fill="#000000"/>
<circle cx="1291.84" cy="1195.14" r="6.65" fill="#000000"/>
<circle cx="1306.5" cy="1194.79" r="6.65" fill="#000000"/>
<circle cx="1321.15" cy="1194.44" r="6.65" fill="#000000"/>
<circle cx="1335.81" cy="1194.08" r="6.65" fill="#000000"/>
<circle cx="1350.46" cy="1193.73" r="6.65" fill="#000000"/>
<circle cx="1365.12" cy="1193.38" r="6.65" fill="#000000"/>
<circle cx="1379.78" cy="1193.2" r="6.65" fill="#000000"/>
<circle cx="1394.43" cy="1193.03" r="6.65" fill="#000000"/>
<circle cx="1409.09" cy="1192.85" r="6.65" fill="#000000"/>
<circle cx="1423.74" cy="1192.68" r="6.65" fill="#000000"/>
<circle cx="1438.4" cy="1192.5" r="6.65" fill="#000000"/>
<circle cx="1453.06" cy="1192.15" r="6.65" fill="#000000"/>
<circle cx="1467.71" cy="1191.8" r="6.65" fill="#000000"/>
<circle cx="1482.37" cy="1191.45" r="6.65" fill="#000000"/>
<circle cx="1497.02" cy="1191.09" r="6.65" fill="#000000"/>
<circle cx="1511.68" cy="1190.74" r="6.65" fill="#000000"/>
<circle cx="1526.34" cy="1189.86" r="6.65" fill="#000000"/>
<circle cx="1540.99" cy="1188.98" r="6.65" fill="#000000"/>
<circle cx="1555.65" cy="1187.66" r="6.65" fill="#000000"/>
<circle cx="1570.3" cy="1186.35" r="6.65" fill="#000000"/>
<circle cx="1584.96" cy="1185.25" r="6.65" fill="#000000"/>
<circle cx="1599.62" cy="1184.41" r="6.65" fill="#000000"/>
<circle cx="1614.27" cy="1182.83" r="6.65" fill="#000000"/>
<circle cx="1628.93" cy="1181.95" r="6.65" fill="#000000"/>
<circle cx="1643.58" cy="1180.41" r="6.65" fill="#000000"/>
<circle cx="1658.24" cy="1178.87" r="6.65" fill="#000000"/>
<circle cx="1672.9" cy="1177.99" r="6.65" fill="#000000"/>
<circle cx="1687.55" cy="1176.67" r="6.65" fill="#000000"/>
<circle cx="1702.21" cy="1174.55" r="6.65" fill="#000000"/>
<circle cx="1716.86" cy="1172.42" r="6.65" fill="#000000"/>
<circle cx="1731.52" cy="1170.3" r="6.65" fill="#000000"/>
<circle cx="1746.18" cy="1168.82" r="6.65" fill="#000000"/>
<circle cx="1760.83" cy="1167.34" r="6.65" fill="#000000"/>
<circle cx="1775.49" cy="1165.87" r="6.65" fill="#000000"/>
<circle cx="1790.14" cy="1164.39" r="6.65" fill="#000000"/>
<circle cx="1804.8" cy="1162.91" r="6.65" fill="#000000"/>
<path d="M1086.66 1212.73 L1101.31 1206.13 L1115.97 1205.25 L1130.62 1205.21 L1145.28 1205.17 L1159.94 1205.13 L1174.59 1205.09 L1189.25 1205.05 L1203.9 1205.01 L1218.56 1204.97 L1233.22 1204.93 L1247.87 1204.89 L1262.53 1204.85 L1277.18 1204.81 L1291.84 1204.77 L1306.5 1204.73 L1321.15 1204.69 L1335.81 1204.65 L1350.46 1204.61 L1365.12 1204.57 L1379.78 1204.53 L1394.43 1204.49 L1409.09 1204.45 L1423.74 1204.41 L1438.4 1204.37 L1453.06 1204.35 L1467.71 1204.34 L1482.37 1204.32 L1497.02 1204.3 L1511.68 1204.28 L1526.34 1204.27 L1540.99 1204.25 L1555.65 1204.23 L1570.3 1204.21 L1584.96 1204.2 L1599.62 1204.18 L1614.27 1204.16 L1628.93 1204.14 L1643.58 1204.13 L1658.24 1204.11 L1672.9 1204.09 L1687.55 1204.07 L1702.21 1204.06 L1716.86 1204.04 L1731.52 1204.02 L1746.18 1204 L1760.83 1203.99 L1775.49 1203.97 L1790.14 1203.95 L1804.8 1203.93" fill="none" stroke="#ff0000" stroke-width="1.8" stroke-dasharray="14.5 5"/>
<polygon points="1086.66,1204.63 1094.56,1212.73 1086.66,1220.83 1078.76,1212.73" fill="#ff0000" stroke="#fff" stroke-width="0.5"/>
<polygon points="1101.31,1198.03 1109.21,1206.13 1101.31,1214.23 1093.41,1206.13" fill="#ff0000" stroke="#fff" stroke-width="0.5"/>
<polygon points="1115.97,1197.15 1123.87,1205.25 1115.97,1213.35 1108.07,1205.25" fill="#ff0000" stroke="#fff" stroke-width="0.5"/>
<polygon points="1130.62,1197.11 1138.52,1205.21 1130.62,1213.31 1122.72,1205.21" fill="#ff0000" stroke="#fff" stroke-width="0.5"/>
<polygon points="1145.28,1197.07 1153.18,1205.17 1145.28,1213.27 1137.38,1205.17" fill="#ff0000" stroke="#fff" stroke-width="0.5"/>
<polygon points="1159.94,1197.03 1167.84,1205.13 1159.94,1213.23 1152.04,1205.13" fill="#ff0000" stroke="#fff" stroke-width="0.5"/>
<polygon points="1174.59,1196.99 1182.49,1205.09 1174.59,1213.19 1166.69,1205.09" fill="#ff0000" stroke="#fff" stroke-width="0.5"/>
<polygon points="1189.25,1196.95 1197.15,1205.05 1189.25,1213.15 1181.35,1205.05" fill="#ff0000" stroke="#fff" stroke-width="0.5"/>
<polygon points="1203.9,1196.91 1211.8,1205.01 1203.9,1213.11 1196,1205.01" fill="#ff0000" stroke="#fff" stroke-width="0.5"/>
<polygon points="1218.56,1196.87 1226.46,1204.97 1218.56,1213.07 1210.66,1204.97" fill="#ff0000" stroke="#fff" stroke-width="0.5"/>
<polygon points="1233.22,1196.83 1241.12,1204.93 1233.22,1213.03 1225.32,1204.93" fill="#ff0000" stroke="#fff" stroke-width="0.5"/>
<polygon points="1247.87,1196.79 1255.77,1204.89 1247.87,1212.99 1239.97,1204.89" fill="#ff0000" stroke="#fff" stroke-width="0.5"/>
<polygon points="1262.53,1196.75 1270.43,1204.85 1262.53,1212.95 1254.63,1204.85" fill="#ff0000" stroke="#fff" stroke-width="0.5"/>
<polygon points="1277.18,1196.71 1285.08,1204.81 1277.18,1212.91 1269.28,1204.81" fill="#ff0000" stroke="#fff" stroke-width="0.5"/>
<polygon points="1291.84,1196.67 1299.74,1204.77 1291.84,1212.87 1283.94,1204.77" fill="#ff0000" stroke="#fff" stroke-width="0.5"/>
<polygon points="1306.5,1196.63 1314.4,1204.73 1306.5,1212.83 1298.6,1204.73" fill="#ff0000" stroke="#fff" stroke-width="0.5"/>
<polygon points="1321.15,1196.59 1329.05,1204.69 1321.15,1212.79 1313.25,1204.69" fill="#ff0000" stroke="#fff" stroke-width="0.5"/>
<polygon points="1335.81,1196.55 1343.71,1204.65 1335.81,1212.75 1327.91,1204.65" fill="#ff0000" stroke="#fff" stroke-width="0.5"/>
<polygon points="1350.46,1196.51 1358.36,1204.61 1350.46,1212.71 1342.56,1204.61" fill="#ff0000" stroke="#fff" stroke-width="0.5"/>
<polygon points="1365.12,1196.47 1373.02,1204.57 1365.12,1212.67 1357.22,1204.57" fill="#ff0000" stroke="#fff" stroke-width="0.5"/>
<polygon points="1379.78,1196.43 1387.68,1204.53 1379.78,1212.63 1371.88,1204.53" fill="#ff0000" stroke="#fff" stroke-width="0.5"/>
<polygon points="1394.43,1196.39 1402.33,1204.49 1394.43,1212.59 1386.53,1204.49" fill="#ff0000" stroke="#fff" stroke-width="0.5"/>
<polygon points="1409.09,1196.35 1416.99,1204.45 1409.09,1212.55 1401.19,1204.45" fill="#ff0000" stroke="#fff" stroke-width="0.5"/>
<polygon points="1423.74,1196.31 1431.64,1204.41 1423.74,1212.51 1415.84,1204.41" fill="#ff0000" stroke="#fff" stroke-width="0.5"/>
<polygon points="1438.4,1196.27 1446.3,1204.37 1438.4,1212.47 1430.5,1204.37" fill="#ff0000" stroke="#fff" stroke-width="0.5"/>
<polygon points="1453.06,1196.25 1460.96,1204.35 1453.06,1212.45 1445.16,1204.35" fill="#ff0000" stroke="#fff" stroke-width="0.5"/>
<polygon points="1467.71,1196.24 1475.61,1204.34 1467.71,1212.44 1459.81,1204.34" fill="#ff0000" stroke="#fff" stroke-width="0.5"/>
<polygon points="1482.37,1196.22 1490.27,1204.32 1482.37,1212.42 1474.47,1204.32" fill="#ff0000" stroke="#fff" stroke-width="0.5"/>
<polygon points="1497.02,1196.2 1504.92,1204.3 1497.02,1212.4 1489.12,1204.3" fill="#ff0000" stroke="#fff" stroke-width="0.5"/>
<polygon points="1511.68,1196.18 1519.58,1204.28 1511.68,1212.38 1503.78,1204.28" fill="#ff0000" stroke="#fff" stroke-width="0.5"/>
<polygon points="1526.34,1196.17 1534.24,1204.27 1526.34,1212.37 1518.44,1204.27" fill="#ff0000" stroke="#fff" stroke-width="0.5"/>
<polygon points="1540.99,1196.15 1548.89,1204.25 1540.99,1212.35 1533.09,1204.25" fill="#ff0000" stroke="#fff" stroke-width="0.5"/>
<polygon points="1555.65,1196.13 1563.55,1204.23 1555.65,1212.33 1547.75,1204.23" fill="#ff0000" stroke="#fff" stroke-width="0.5"/>
<polygon points="1570.3,1196.11 1578.2,1204.21 1570.3,1212.31 1562.4,1204.21" fill="#ff0000" stroke="#fff" stroke-width="0.5"/>
<polygon points="1584.96,1196.1 1592.86,1204.2 1584.96,1212.3 1577.06,1204.2" fill="#ff0000" stroke="#fff" stroke-width="0.5"/>
<polygon points="1599.62,1196.08 1607.52,1204.18 1599.62,1212.28 1591.72,1204.18" fill="#ff0000" stroke="#fff" stroke-width="0.5"/>
<polygon points="1614.27,1196.06 1622.17,1204.16 1614.27,1212.26 1606.37,1204.16" fill="#ff0000" stroke="#fff" stroke-width="0.5"/>
<polygon points="1628.93,1196.04 1636.83,1204.14 1628.93,1212.24 1621.03,1204.14" fill="#ff0000" stroke="#fff" stroke-width="0.5"/>
<polygon points="1643.58,1196.03 1651.48,1204.13 1643.58,1212.23 1635.68,1204.13" fill="#ff0000" stroke="#fff" stroke-width="0.5"/>
<polygon points="1658.24,1196.01 1666.14,1204.11 1658.24,1212.21 1650.34,1204.11" fill="#ff0000" stroke="#fff" stroke-width="0.5"/>
<polygon points="1672.9,1195.99 1680.8,1204.09 1672.9,1212.19 1665,1204.09" fill="#ff0000" stroke="#fff" stroke-width="0.5"/>
<polygon points="1687.55,1195.97 1695.45,1204.07 1687.55,1212.17 1679.65,1204.07" fill="#ff0000" stroke="#fff" stroke-width="0.5"/>
<polygon points="1702.21,1195.96 1710.11,1204.06 1702.21,1212.16 1694.31,1204.06" fill="#ff0000" stroke="#fff" stroke-width="0.5"/>
<polygon points="1716.86,1195.94 1724.76,1204.04 1716.86,1212.14 1708.96,1204.04" fill="#ff0000" stroke="#fff" stroke-width="0.5"/>
<polygon points="1731.52,1195.92 1739.42,1204.02 1731.52,1212.12 1723.62,1204.02" fill="#ff0000" stroke="#fff" stroke-width="0.5"/>
<polygon points="1746.18,1195.9 1754.08,1204 1746.18,1212.1 1738.28,1204" fill="#ff0000" stroke="#fff" stroke-width="0.5"/>
<polygon points="1760.83,1195.89 1768.73,1203.99 1760.83,1212.09 1752.93,1203.99" fill="#ff0000" stroke="#fff" stroke-width="0.5"/>
<polygon points="1775.49,1195.87 1783.39,1203.97 1775.49,1212.07 1767.59,1203.97" fill="#ff0000" stroke="#fff" stroke-width="0.5"/>
<polygon points="1790.14,1195.85 1798.04,1203.95 1790.14,1212.05 1782.24,1203.95" fill="#ff0000" stroke="#fff" stroke-width="0.5"/>
<polygon points="1804.8,1195.83 1812.7,1203.93 1804.8,1212.03 1796.9,1203.93" fill="#ff0000" stroke="#fff" stroke-width="0.5"/>
<path d="M1086.66 1201.73 L1101.31 1214.31 L1115.97 1213.39 L1130.62 1213.25 L1145.28 1213.11 L1159.94 1212.97 L1174.59 1212.83 L1189.25 1212.69 L1203.9 1212.56 L1218.56 1212.42 L1233.22 1212.26 L1247.87 1212.11 L1262.53 1211.95 L1277.18 1211.8 L1291.84 1211.64 L1306.5 1211.49 L1321.15 1211.33 L1335.81 1211.18 L1350.46 1211.02 L1365.12 1210.86 L1379.78 1210.71 L1394.43 1210.55 L1409.09 1210.4 L1423.74 1210.24 L1438.4 1210.09 L1453.06 1209.91 L1467.71 1209.74 L1482.37 1209.56 L1497.02 1209.38 L1511.68 1209.21 L1526.34 1208.99 L1540.99 1208.77 L1555.65 1208.55 L1570.3 1208.33 L1584.96 1208.11 L1599.62 1207.89 L1614.27 1207.67 L1628.93 1207.45 L1643.58 1207.23 L1658.24 1207.01 L1672.9 1206.59 L1687.55 1206.17 L1702.21 1205.74 L1716.86 1205.32 L1731.52 1204.9 L1746.18 1204.48 L1760.83 1204.06 L1775.49 1203.63 L1790.14 1203.21 L1804.8 1202.79" fill="none" stroke="#00ff00" stroke-width="1.8"/>
<polygon points="1086.66,1193.73 1093.66,1205.73 1079.66,1205.73" fill="#00ff00" stroke="#fff" stroke-width="0.5"/>
<polygon points="1101.31,1206.31 1108.31,1218.31 1094.31,1218.31" fill="#00ff00" stroke="#fff" stroke-width="0.5"/>
<polygon points="1115.97,1205.39 1122.97,1217.39 1108.97,1217.39" fill="#00ff00" stroke="#fff" stroke-width="0.5"/>
<polygon points="1130.62,1205.25 1137.62,1217.25 1123.62,1217.25" fill="#00ff00" stroke="#fff" stroke-width="0.5"/>
<polygon points="1145.28,1205.11 1152.28,1217.11 1138.28,1217.11" fill="#00ff00" stroke="#fff" stroke-width="0.5"/>
<polygon points="1159.94,1204.97 1166.94,1216.97 1152.94,1216.97" fill="#00ff00" stroke="#fff" stroke-width="0.5"/>
<polygon points="1174.59,1204.83 1181.59,1216.83 1167.59,1216.83" fill="#00ff00" stroke="#fff" stroke-width="0.5"/>
<polygon points="1189.25,1204.69 1196.25,1216.69 1182.25,1216.69" fill="#00ff00" stroke="#fff" stroke-width="0.5"/>
<polygon points="1203.9,1204.56 1210.9,1216.56 1196.9,1216.56" fill="#00ff00" stroke="#fff" stroke-width="0.5"/>
<polygon points="1218.56,1204.42 1225.56,1216.42 1211.56,1216.42" fill="#00ff00" stroke="#fff" stroke-width="0.5"/>
<polygon points="1233.22,1204.26 1240.22,1216.26 1226.22,1216.26" fill="#00ff00" stroke="#fff" stroke-width="0.5"/>
<polygon points="1247.87,1204.11 1254.87,1216.11 1240.87,1216.11" fill="#00ff00" stroke="#fff" stroke-width="0.5"/>
<polygon points="1262.53,1203.95 1269.53,1215.95 1255.53,1215.95" fill="#00ff00" stroke="#fff" stroke-width="0.5"/>
<polygon points="1277.18,1203.8 1284.18,1215.8 1270.18,1215.8" fill="#00ff00" stroke="#fff" stroke-width="0.5"/>
<polygon points="1291.84,1203.64 1298.84,1215.64 1284.84,1215.64" fill="#00ff00" stroke="#fff" stroke-width="0.5"/>
<polygon points="1306.5,1203.49 1313.5,1215.49 1299.5,1215.49" fill="#00ff00" stroke="#fff" stroke-width="0.5"/>
<polygon points="1321.15,1203.33 1328.15,1215.33 1314.15,1215.33" fill="#00ff00" stroke="#fff" stroke-width="0.5"/>
<polygon points="1335.81,1203.18 1342.81,1215.18 1328.81,1215.18" fill="#00ff00" stroke="#fff" stroke-width="0.5"/>
<polygon points="1350.46,1203.02 1357.46,1215.02 1343.46,1215.02" fill="#00ff00" stroke="#fff" stroke-width="0.5"/>
<polygon points="1365.12,1202.86 1372.12,1214.86 1358.12,1214.86" fill="#00ff00" stroke="#fff" stroke-width="0.5"/>
<polygon points="1379.78,1202.71 1386.78,1214.71 1372.78,1214.71" fill="#00ff00" stroke="#fff" stroke-width="0.5"/>
<polygon points="1394.43,1202.55 1401.43,1214.55 1387.43,1214.55" fill="#00ff00" stroke="#fff" stroke-width="0.5"/>
<polygon points="1409.09,1202.4 1416.09,1214.4 1402.09,1214.4" fill="#00ff00" stroke="#fff" stroke-width="0.5"/>
<polygon points="1423.74,1202.24 1430.74,1214.24 1416.74,1214.24" fill="#00ff00" stroke="#fff" stroke-width="0.5"/>
<polygon points="1438.4,1202.09 1445.4,1214.09 1431.4,1214.09" fill="#00ff00" stroke="#fff" stroke-width="0.5"/>
<polygon points="1453.06,1201.91 1460.06,1213.91 1446.06,1213.91" fill="#00ff00" stroke="#fff" stroke-width="0.5"/>
<polygon points="1467.71,1201.74 1474.71,1213.74 1460.71,1213.74" fill="#00ff00" stroke="#fff" stroke-width="0.5"/>
<polygon points="1482.37,1201.56 1489.37,1213.56 1475.37,1213.56" fill="#00ff00" stroke="#fff" stroke-width="0.5"/>
<polygon points="1497.02,1201.38 1504.02,1213.38 1490.02,1213.38" fill="#00ff00" stroke="#fff" stroke-width="0.5"/>
<polygon points="1511.68,1201.21 1518.68,1213.21 1504.68,1213.21" fill="#00ff00" stroke="#fff" stroke-width="0.5"/>
<polygon points="1526.34,1200.99 1533.34,1212.99 1519.34,1212.99" fill="#00ff00" stroke="#fff" stroke-width="0.5"/>
<polygon points="1540.99,1200.77 1547.99,1212.77 1533.99,1212.77" fill="#00ff00" stroke="#fff" stroke-width="0.5"/>
<polygon points="1555.65,1200.55 1562.65,1212.55 1548.65,1212.55" fill="#00ff00" stroke="#fff" stroke-width="0.5"/>
<polygon points="1570.3,1200.33 1577.3,1212.33 1563.3,1212.33" fill="#00ff00" stroke="#fff" stroke-width="0.5"/>
<polygon points="1584.96,1200.11 1591.96,1212.11 1577.96,1212.11" fill="#00ff00" stroke="#fff" stroke-width="0.5"/>
<polygon points="1599.62,1199.89 1606.62,1211.89 1592.62,1211.89" fill="#00ff00" stroke="#fff" stroke-width="0.5"/>
<polygon points="1614.27,1199.67 1621.27,1211.67 1607.27,1211.67" fill="#00ff00" stroke="#fff" stroke-width="0.5"/>
<polygon points="1628.93,1199.45 1635.93,1211.45 1621.93,1211.45" fill="#00ff00" stroke="#fff" stroke-width="0.5"/>
<polygon points="1643.58,1199.23 1650.58,1211.23 1636.58,1211.23" fill="#00ff00" stroke="#fff" stroke-width="0.5"/>
<polygon points="1658.24,1199.01 1665.24,1211.01 1651.24,1211.01" fill="#00ff00" stroke="#fff" stroke-width="0.5"/>
<polygon points="1672.9,1198.59 1679.9,1210.59 1665.9,1210.59" fill="#00ff00" stroke="#fff" stroke-width="0.5"/>
<polygon points="1687.55,1198.17 1694.55,1210.17 1680.55,1210.17" fill="#00ff00" stroke="#fff" stroke-width="0.5"/>
<polygon points="1702.21,1197.74 1709.21,1209.74 1695.21,1209.74" fill="#00ff00" stroke="#fff" stroke-width="0.5"/>
<polygon points="1716.86,1197.32 1723.86,1209.32 1709.86,1209.32" fill="#00ff00" stroke="#fff" stroke-width="0.5"/>
<polygon points="1731.52,1196.9 1738.52,1208.9 1724.52,1208.9" fill="#00ff00" stroke="#fff" stroke-width="0.5"/>
<polygon points="1746.18,1196.48 1753.18,1208.48 1739.18,1208.48" fill="#00ff00" stroke="#fff" stroke-width="0.5"/>
<polygon points="1760.83,1196.06 1767.83,1208.06 1753.83,1208.06" fill="#00ff00" stroke="#fff" stroke-width="0.5"/>
<polygon points="1775.49,1195.63 1782.49,1207.63 1768.49,1207.63" fill="#00ff00" stroke="#fff" stroke-width="0.5"/>
<polygon points="1790.14,1195.21 1797.14,1207.21 1783.14,1207.21" fill="#00ff00" stroke="#fff" stroke-width="0.5"/>
<polygon points="1804.8,1194.79 1811.8,1206.79 1797.8,1206.79" fill="#00ff00" stroke="#fff" stroke-width="0.5"/>
<path d="M1086.66 1180.72 L1101.31 1180.83 L1115.97 1180.94 L1130.62 1181.05 L1145.28 1181.17 L1159.94 1181.28 L1174.59 1181.39 L1189.25 1181.5 L1203.9 1181.61 L1218.56 1181.73 L1233.22 1181.84 L1247.87 1181.95 L1262.53 1182.07 L1277.18 1182.19 L1291.84 1182.3 L1306.5 1182.42 L1321.15 1182.54 L1335.81 1182.66 L1350.46 1182.78 L1365.12 1182.9 L1379.78 1183.01 L1394.43 1183.13 L1409.09 1183.25 L1423.74 1183.37 L1438.4 1183.49 L1453.06 1183.45 L1467.71 1183.41 L1482.37 1183.38 L1497.02 1183.34 L1511.68 1183.3 L1526.34 1183.27 L1540.99 1183.27 L1555.65 1183.27 L1570.3 1183.27 L1584.96 1183.27 L1599.62 1183.27 L1614.27 1183.27 L1628.93 1183.27 L1643.58 1183.27 L1658.24 1183.27 L1672.9 1183.27 L1687.55 1183.27 L1702.21 1183.63 L1716.86 1184 L1731.52 1184.37 L1746.18 1184.41 L1760.83 1184.46 L1775.49 1184.5 L1790.14 1184.54 L1804.8 1184.59" fill="none" stroke="#ff00ff" stroke-width="1.8"/>
<polygon points="1086.66,1188.72 1093.66,1176.72 1079.66,1176.72" fill="#ff00ff" stroke="#fff" stroke-width="0.5"/>
<polygon points="1101.31,1188.83 1108.31,1176.83 1094.31,1176.83" fill="#ff00ff" stroke="#fff" stroke-width="0.5"/>
<polygon points="1115.97,1188.94 1122.97,1176.94 1108.97,1176.94" fill="#ff00ff" stroke="#fff" stroke-width="0.5"/>
<polygon points="1130.62,1189.05 1137.62,1177.05 1123.62,1177.05" fill="#ff00ff" stroke="#fff" stroke-width="0.5"/>
<polygon points="1145.28,1189.17 1152.28,1177.17 1138.28,1177.17" fill="#ff00ff" stroke="#fff" stroke-width="0.5"/>
<polygon points="1159.94,1189.28 1166.94,1177.28 1152.94,1177.28" fill="#ff00ff" stroke="#fff" stroke-width="0.5"/>
<polygon points="1174.59,1189.39 1181.59,1177.39 1167.59,1177.39" fill="#ff00ff" stroke="#fff" stroke-width="0.5"/>
<polygon points="1189.25,1189.5 1196.25,1177.5 1182.25,1177.5" fill="#ff00ff" stroke="#fff" stroke-width="0.5"/>
<polygon points="1203.9,1189.61 1210.9,1177.61 1196.9,1177.61" fill="#ff00ff" stroke="#fff" stroke-width="0.5"/>
<polygon points="1218.56,1189.73 1225.56,1177.73 1211.56,1177.73" fill="#ff00ff" stroke="#fff" stroke-width="0.5"/>
<polygon points="1233.22,1189.84 1240.22,1177.84 1226.22,1177.84" fill="#ff00ff" stroke="#fff" stroke-width="0.5"/>
<polygon points="1247.87,1189.95 1254.87,1177.95 1240.87,1177.95" fill="#ff00ff" stroke="#fff" stroke-width="0.5"/>
<polygon points="1262.53,1190.07 1269.53,1178.07 1255.53,1178.07" fill="#ff00ff" stroke="#fff" stroke-width="0.5"/>
<polygon points="1277.18,1190.19 1284.18,1178.19 1270.18,1178.19" fill="#ff00ff" stroke="#fff" stroke-width="0.5"/>
<polygon points="1291.84,1190.3 1298.84,1178.3 1284.84,1178.3" fill="#ff00ff" stroke="#fff" stroke-width="0.5"/>
<polygon points="1306.5,1190.42 1313.5,1178.42 1299.5,1178.42" fill="#ff00ff" stroke="#fff" stroke-width="0.5"/>
<polygon points="1321.15,1190.54 1328.15,1178.54 1314.15,1178.54" fill="#ff00ff" stroke="#fff" stroke-width="0.5"/>
<polygon points="1335.81,1190.66 1342.81,1178.66 1328.81,1178.66" fill="#ff00ff" stroke="#fff" stroke-width="0.5"/>
<polygon points="1350.46,1190.78 1357.46,1178.78 1343.46,1178.78" fill="#ff00ff" stroke="#fff" stroke-width="0.5"/>
<polygon points="1365.12,1190.9 1372.12,1178.9 1358.12,1178.9" fill="#ff00ff" stroke="#fff" stroke-width="0.5"/>
<polygon points="1379.78,1191.01 1386.78,1179.01 1372.78,1179.01" fill="#ff00ff" stroke="#fff" stroke-width="0.5"/>
<polygon points="1394.43,1191.13 1401.43,1179.13 1387.43,1179.13" fill="#ff00ff" stroke="#fff" stroke-width="0.5"/>
<polygon points="1409.09,1191.25 1416.09,1179.25 1402.09,1179.25" fill="#ff00ff" stroke="#fff" stroke-width="0.5"/>
<polygon points="1423.74,1191.37 1430.74,1179.37 1416.74,1179.37" fill="#ff00ff" stroke="#fff" stroke-width="0.5"/>
<polygon points="1438.4,1191.49 1445.4,1179.49 1431.4,1179.49" fill="#ff00ff" stroke="#fff" stroke-width="0.5"/>
<polygon points="1453.06,1191.45 1460.06,1179.45 1446.06,1179.45" fill="#ff00ff" stroke="#fff" stroke-width="0.5"/>
<polygon points="1467.71,1191.41 1474.71,1179.41 1460.71,1179.41" fill="#ff00ff" stroke="#fff" stroke-width="0.5"/>
<polygon points="1482.37,1191.38 1489.37,1179.38 1475.37,1179.38" fill="#ff00ff" stroke="#fff" stroke-width="0.5"/>
<polygon points="1497.02,1191.34 1504.02,1179.34 1490.02,1179.34" fill="#ff00ff" stroke="#fff" stroke-width="0.5"/>
<polygon points="1511.68,1191.3 1518.68,1179.3 1504.68,1179.3" fill="#ff00ff" stroke="#fff" stroke-width="0.5"/>
<polygon points="1526.34,1191.27 1533.34,1179.27 1519.34,1179.27" fill="#ff00ff" stroke="#fff" stroke-width="0.5"/>
<polygon points="1540.99,1191.27 1547.99,1179.27 1533.99,1179.27" fill="#ff00ff" stroke="#fff" stroke-width="0.5"/>
<polygon points="1555.65,1191.27 1562.65,1179.27 1548.65,1179.27" fill="#ff00ff" stroke="#fff" stroke-width="0.5"/>
<polygon points="1570.3,1191.27 1577.3,1179.27 1563.3,1179.27" fill="#ff00ff" stroke="#fff" stroke-width="0.5"/>
<polygon points="1584.96,1191.27 1591.96,1179.27 1577.96,1179.27" fill="#ff00ff" stroke="#fff" stroke-width="0.5"/>
<polygon points="1599.62,1191.27 1606.62,1179.27 1592.62,1179.27" fill="#ff00ff" stroke="#fff" stroke-width="0.5"/>
<polygon points="1614.27,1191.27 1621.27,1179.27 1607.27,1179.27" fill="#ff00ff" stroke="#fff" stroke-width="0.5"/>
<polygon points="1628.93,1191.27 1635.93,1179.27 1621.93,1179.27" fill="#ff00ff" stroke="#fff" stroke-width="0.5"/>
<polygon points="1643.58,1191.27 1650.58,1179.27 1636.58,1179.27" fill="#ff00ff" stroke="#fff" stroke-width="0.5"/>
<polygon points="1658.24,1191.27 1665.24,1179.27 1651.24,1179.27" fill="#ff00ff" stroke="#fff" stroke-width="0.5"/>
<polygon points="1672.9,1191.27 1679.9,1179.27 1665.9,1179.27" fill="#ff00ff" stroke="#fff" stroke-width="0.5"/>
<polygon points="1687.55,1191.27 1694.55,1179.27 1680.55,1179.27" fill="#ff00ff" stroke="#fff" stroke-width="0.5"/>
<polygon points="1702.21,1191.63 1709.21,1179.63 1695.21,1179.63" fill="#ff00ff" stroke="#fff" stroke-width="0.5"/>
<polygon points="1716.86,1192 1723.86,1180 1709.86,1180" fill="#ff00ff" stroke="#fff" stroke-width="0.5"/>
<polygon points="1731.52,1192.37 1738.52,1180.37 1724.52,1180.37" fill="#ff00ff" stroke="#fff" stroke-width="0.5"/>
<polygon points="1746.18,1192.41 1753.18,1180.41 1739.18,1180.41" fill="#ff00ff" stroke="#fff" stroke-width="0.5"/>
<polygon points="1760.83,1192.46 1767.83,1180.46 1753.83,1180.46" fill="#ff00ff" stroke="#fff" stroke-width="0.5"/>
<polygon points="1775.49,1192.5 1782.49,1180.5 1768.49,1180.5" fill="#ff00ff" stroke="#fff" stroke-width="0.5"/>
<polygon points="1790.14,1192.54 1797.14,1180.54 1783.14,1180.54" fill="#ff00ff" stroke="#fff" stroke-width="0.5"/>
<polygon points="1804.8,1192.59 1811.8,1180.59 1797.8,1180.59" fill="#ff00ff" stroke="#fff" stroke-width="0.5"/>
<path d="M1086.66 1207.01 L1101.31 1204.37 L1115.97 1204.37 L1130.62 1204.37 L1145.28 1204.37 L1159.94 1201.73 L1174.59 1201.73 L1189.25 1201.73 L1203.9 1201.73 L1218.56 1201.73 L1233.22 1201.56 L1247.87 1201.38 L1262.53 1201.21 L1277.18 1201.03 L1291.84 1200.85 L1306.5 1200.81 L1321.15 1200.77 L1335.81 1200.72 L1350.46 1200.68 L1365.12 1200.63 L1379.78 1200.55 L1394.43 1200.46 L1409.09 1200.37 L1423.74 1200.28 L1438.4 1200.2 L1453.06 1200.06 L1467.71 1199.93 L1482.37 1199.8 L1497.02 1199.67 L1511.68 1199.54 L1526.34 1199.45 L1540.99 1199.36 L1555.65 1199.27 L1570.3 1199.18 L1584.96 1199.1 L1599.62 1199.01 L1614.27 1198.92 L1628.93 1198.83 L1643.58 1198.74 L1658.24 1198.66 L1672.9 1198.44 L1687.55 1198.22 L1702.21 1198 L1716.86 1197.78 L1731.52 1197.56 L1746.18 1197.34 L1760.83 1197.12 L1775.49 1196.9 L1790.14 1196.68 L1804.8 1196.46" fill="none" stroke="#8000ff" stroke-width="1.8" stroke-dasharray="14.5 5"/>
<polygon points="1086.66,1200.31 1088.71,1204.78 1093.6,1205.35 1089.98,1208.69 1090.95,1213.52 1086.66,1211.11 1082.37,1213.52 1083.33,1208.69 1079.71,1205.35 1084.6,1204.78" fill="#8000ff" stroke="#fff" stroke-width="0.4"/>
<polygon points="1101.31,1197.67 1103.37,1202.14 1108.25,1202.72 1104.64,1206.05 1105.6,1210.88 1101.31,1208.47 1097.02,1210.88 1097.98,1206.05 1094.37,1202.72 1099.25,1202.14" fill="#8000ff" stroke="#fff" stroke-width="0.4"/>
<polygon points="1115.97,1197.67 1118.03,1202.14 1122.91,1202.72 1119.3,1206.05 1120.26,1210.88 1115.97,1208.47 1111.68,1210.88 1112.64,1206.05 1109.03,1202.72 1113.91,1202.14" fill="#8000ff" stroke="#fff" stroke-width="0.4"/>
<polygon points="1130.62,1197.67 1132.68,1202.14 1137.57,1202.72 1133.95,1206.05 1134.91,1210.88 1130.62,1208.47 1126.33,1210.88 1127.3,1206.05 1123.68,1202.72 1128.57,1202.14" fill="#8000ff" stroke="#fff" stroke-width="0.4"/>
<polygon points="1145.28,1197.67 1147.34,1202.14 1152.22,1202.72 1148.61,1206.05 1149.57,1210.88 1145.28,1208.47 1140.99,1210.88 1141.95,1206.05 1138.34,1202.72 1143.22,1202.14" fill="#8000ff" stroke="#fff" stroke-width="0.4"/>
<polygon points="1159.94,1195.03 1161.99,1199.5 1166.88,1200.08 1163.26,1203.42 1164.23,1208.24 1159.94,1205.83 1155.65,1208.24 1156.61,1203.42 1152.99,1200.08 1157.88,1199.5" fill="#8000ff" stroke="#fff" stroke-width="0.4"/>
<polygon points="1174.59,1195.03 1176.65,1199.5 1181.53,1200.08 1177.92,1203.42 1178.88,1208.24 1174.59,1205.83 1170.3,1208.24 1171.26,1203.42 1167.65,1200.08 1172.53,1199.5" fill="#8000ff" stroke="#fff" stroke-width="0.4"/>
<polygon points="1189.25,1195.03 1191.31,1199.5 1196.19,1200.08 1192.58,1203.42 1193.54,1208.24 1189.25,1205.83 1184.96,1208.24 1185.92,1203.42 1182.31,1200.08 1187.19,1199.5" fill="#8000ff" stroke="#fff" stroke-width="0.4"/>
<polygon points="1203.9,1195.03 1205.96,1199.5 1210.85,1200.08 1207.23,1203.42 1208.19,1208.24 1203.9,1205.83 1199.61,1208.24 1200.58,1203.42 1196.96,1200.08 1201.85,1199.5" fill="#8000ff" stroke="#fff" stroke-width="0.4"/>
<polygon points="1218.56,1195.03 1220.62,1199.5 1225.5,1200.08 1221.89,1203.42 1222.85,1208.24 1218.56,1205.83 1214.27,1208.24 1215.23,1203.42 1211.62,1200.08 1216.5,1199.5" fill="#8000ff" stroke="#fff" stroke-width="0.4"/>
<polygon points="1233.22,1194.86 1235.27,1199.33 1240.16,1199.9 1236.54,1203.24 1237.51,1208.06 1233.22,1205.66 1228.93,1208.06 1229.89,1203.24 1226.27,1199.9 1231.16,1199.33" fill="#8000ff" stroke="#fff" stroke-width="0.4"/>
<polygon points="1247.87,1194.68 1249.93,1199.15 1254.81,1199.73 1251.2,1203.06 1252.16,1207.89 1247.87,1205.48 1243.58,1207.89 1244.54,1203.06 1240.93,1199.73 1245.81,1199.15" fill="#8000ff" stroke="#fff" stroke-width="0.4"/>
<polygon points="1262.53,1194.51 1264.59,1198.97 1269.47,1199.55 1265.86,1202.89 1266.82,1207.71 1262.53,1205.31 1258.24,1207.71 1259.2,1202.89 1255.59,1199.55 1260.47,1198.97" fill="#8000ff" stroke="#fff" stroke-width="0.4"/>
<polygon points="1277.18,1194.33 1279.24,1198.8 1284.13,1199.37 1280.51,1202.71 1281.47,1207.54 1277.18,1205.13 1272.89,1207.54 1273.86,1202.71 1270.24,1199.37 1275.13,1198.8" fill="#8000ff" stroke="#fff" stroke-width="0.4"/>
<polygon points="1291.84,1194.15 1293.9,1198.62 1298.78,1199.2 1295.17,1202.54 1296.13,1207.36 1291.84,1204.95 1287.55,1207.36 1288.51,1202.54 1284.9,1199.2 1289.78,1198.62" fill="#8000ff" stroke="#fff" stroke-width="0.4"/>
<polygon points="1306.5,1194.11 1308.55,1198.58 1313.44,1199.15 1309.82,1202.49 1310.79,1207.32 1306.5,1204.91 1302.21,1207.32 1303.17,1202.49 1299.55,1199.15 1304.44,1198.58" fill="#8000ff" stroke="#fff" stroke-width="0.4"/>
<polygon points="1321.15,1194.07 1323.21,1198.54 1328.09,1199.11 1324.48,1202.45 1325.44,1207.27 1321.15,1204.87 1316.86,1207.27 1317.82,1202.45 1314.21,1199.11 1319.09,1198.54" fill="#8000ff" stroke="#fff" stroke-width="0.4"/>
<polygon points="1335.81,1194.02 1337.87,1198.49 1342.75,1199.07 1339.14,1202.4 1340.1,1207.23 1335.81,1204.82 1331.52,1207.23 1332.48,1202.4 1328.87,1199.07 1333.75,1198.49" fill="#8000ff" stroke="#fff" stroke-width="0.4"/>
<polygon points="1350.46,1193.98 1352.52,1198.45 1357.41,1199.02 1353.79,1202.36 1354.75,1207.18 1350.46,1204.78 1346.17,1207.18 1347.14,1202.36 1343.52,1199.02 1348.41,1198.45" fill="#8000ff" stroke="#fff" stroke-width="0.4"/>
<polygon points="1365.12,1193.93 1367.18,1198.4 1372.06,1198.98 1368.45,1202.32 1369.41,1207.14 1365.12,1204.73 1360.83,1207.14 1361.79,1202.32 1358.18,1198.98 1363.06,1198.4" fill="#8000ff" stroke="#fff" stroke-width="0.4"/>
<polygon points="1379.78,1193.85 1381.83,1198.32 1386.72,1198.89 1383.1,1202.23 1384.07,1207.05 1379.78,1204.65 1375.49,1207.05 1376.45,1202.23 1372.83,1198.89 1377.72,1198.32" fill="#8000ff" stroke="#fff" stroke-width="0.4"/>
<polygon points="1394.43,1193.76 1396.49,1198.23 1401.37,1198.8 1397.76,1202.14 1398.72,1206.96 1394.43,1204.56 1390.14,1206.96 1391.1,1202.14 1387.49,1198.8 1392.37,1198.23" fill="#8000ff" stroke="#fff" stroke-width="0.4"/>
<polygon points="1409.09,1193.67 1411.15,1198.14 1416.03,1198.72 1412.42,1202.05 1413.38,1206.88 1409.09,1204.47 1404.8,1206.88 1405.76,1202.05 1402.15,1198.72 1407.03,1198.14" fill="#8000ff" stroke="#fff" stroke-width="0.4"/>
<polygon points="1423.74,1193.58 1425.8,1198.05 1430.69,1198.63 1427.07,1201.96 1428.03,1206.79 1423.74,1204.38 1419.45,1206.79 1420.42,1201.96 1416.8,1198.63 1421.69,1198.05" fill="#8000ff" stroke="#fff" stroke-width="0.4"/>
<polygon points="1438.4,1193.5 1440.46,1197.96 1445.34,1198.54 1441.73,1201.88 1442.69,1206.7 1438.4,1204.3 1434.11,1206.7 1435.07,1201.88 1431.46,1198.54 1436.34,1197.96" fill="#8000ff" stroke="#fff" stroke-width="0.4"/>
<polygon points="1453.06,1193.36 1455.11,1197.83 1460,1198.41 1456.38,1201.74 1457.35,1206.57 1453.06,1204.16 1448.77,1206.57 1449.73,1201.74 1446.11,1198.41 1451,1197.83" fill="#8000ff" stroke="#fff" stroke-width="0.4"/>
<polygon points="1467.71,1193.23 1469.77,1197.7 1474.65,1198.28 1471.04,1201.61 1472,1206.44 1467.71,1204.03 1463.42,1206.44 1464.38,1201.61 1460.77,1198.28 1465.65,1197.7" fill="#8000ff" stroke="#fff" stroke-width="0.4"/>
<polygon points="1482.37,1193.1 1484.43,1197.57 1489.31,1198.14 1485.7,1201.48 1486.66,1206.31 1482.37,1203.9 1478.08,1206.31 1479.04,1201.48 1475.43,1198.14 1480.31,1197.57" fill="#8000ff" stroke="#fff" stroke-width="0.4"/>
<polygon points="1497.02,1192.97 1499.08,1197.44 1503.97,1198.01 1500.35,1201.35 1501.31,1206.17 1497.02,1203.77 1492.73,1206.17 1493.7,1201.35 1490.08,1198.01 1494.97,1197.44" fill="#8000ff" stroke="#fff" stroke-width="0.4"/>
<polygon points="1511.68,1192.84 1513.74,1197.3 1518.62,1197.88 1515.01,1201.22 1515.97,1206.04 1511.68,1203.64 1507.39,1206.04 1508.35,1201.22 1504.74,1197.88 1509.62,1197.3" fill="#8000ff" stroke="#fff" stroke-width="0.4"/>
<polygon points="1526.34,1192.75 1528.39,1197.22 1533.28,1197.79 1529.66,1201.13 1530.63,1205.95 1526.34,1203.55 1522.05,1205.95 1523.01,1201.13 1519.39,1197.79 1524.28,1197.22" fill="#8000ff" stroke="#fff" stroke-width="0.4"/>
<polygon points="1540.99,1192.66 1543.05,1197.13 1547.93,1197.7 1544.32,1201.04 1545.28,1205.87 1540.99,1203.46 1536.7,1205.87 1537.66,1201.04 1534.05,1197.7 1538.93,1197.13" fill="#8000ff" stroke="#fff" stroke-width="0.4"/>
<polygon points="1555.65,1192.57 1557.71,1197.04 1562.59,1197.62 1558.98,1200.95 1559.94,1205.78 1555.65,1203.37 1551.36,1205.78 1552.32,1200.95 1548.71,1197.62 1553.59,1197.04" fill="#8000ff" stroke="#fff" stroke-width="0.4"/>
<polygon points="1570.3,1192.48 1572.36,1196.95 1577.25,1197.53 1573.63,1200.87 1574.59,1205.69 1570.3,1203.28 1566.01,1205.69 1566.98,1200.87 1563.36,1197.53 1568.25,1196.95" fill="#8000ff" stroke="#fff" stroke-width="0.4"/>
<polygon points="1584.96,1192.4 1587.02,1196.86 1591.9,1197.44 1588.29,1200.78 1589.25,1205.6 1584.96,1203.2 1580.67,1205.6 1581.63,1200.78 1578.02,1197.44 1582.9,1196.86" fill="#8000ff" stroke="#fff" stroke-width="0.4"/>
<polygon points="1599.62,1192.31 1601.67,1196.78 1606.56,1197.35 1602.94,1200.69 1603.91,1205.51 1599.62,1203.11 1595.33,1205.51 1596.29,1200.69 1592.67,1197.35 1597.56,1196.78" fill="#8000ff" stroke="#fff" stroke-width="0.4"/>
<polygon points="1614.27,1192.22 1616.33,1196.69 1621.21,1197.26 1617.6,1200.6 1618.56,1205.43 1614.27,1203.02 1609.98,1205.43 1610.94,1200.6 1607.33,1197.26 1612.21,1196.69" fill="#8000ff" stroke="#fff" stroke-width="0.4"/>
<polygon points="1628.93,1192.13 1630.99,1196.6 1635.87,1197.18 1632.26,1200.51 1633.22,1205.34 1628.93,1202.93 1624.64,1205.34 1625.6,1200.51 1621.99,1197.18 1626.87,1196.6" fill="#8000ff" stroke="#fff" stroke-width="0.4"/>
<polygon points="1643.58,1192.04 1645.64,1196.51 1650.53,1197.09 1646.91,1200.43 1647.87,1205.25 1643.58,1202.84 1639.29,1205.25 1640.26,1200.43 1636.64,1197.09 1641.53,1196.51" fill="#8000ff" stroke="#fff" stroke-width="0.4"/>
<polygon points="1658.24,1191.96 1660.3,1196.42 1665.18,1197 1661.57,1200.34 1662.53,1205.16 1658.24,1202.76 1653.95,1205.16 1654.91,1200.34 1651.3,1197 1656.18,1196.42" fill="#8000ff" stroke="#fff" stroke-width="0.4"/>
<polygon points="1672.9,1191.74 1674.95,1196.2 1679.84,1196.78 1676.22,1200.12 1677.19,1204.94 1672.9,1202.54 1668.61,1204.94 1669.57,1200.12 1665.95,1196.78 1670.84,1196.2" fill="#8000ff" stroke="#fff" stroke-width="0.4"/>
<polygon points="1687.55,1191.52 1689.61,1195.99 1694.49,1196.56 1690.88,1199.9 1691.84,1204.72 1687.55,1202.32 1683.26,1204.72 1684.22,1199.9 1680.61,1196.56 1685.49,1195.99" fill="#8000ff" stroke="#fff" stroke-width="0.4"/>
<polygon points="1702.21,1191.3 1704.27,1195.77 1709.15,1196.34 1705.54,1199.68 1706.5,1204.5 1702.21,1202.1 1697.92,1204.5 1698.88,1199.68 1695.27,1196.34 1700.15,1195.77" fill="#8000ff" stroke="#fff" stroke-width="0.4"/>
<polygon points="1716.86,1191.08 1718.92,1195.55 1723.81,1196.12 1720.19,1199.46 1721.15,1204.28 1716.86,1201.88 1712.57,1204.28 1713.54,1199.46 1709.92,1196.12 1714.81,1195.55" fill="#8000ff" stroke="#fff" stroke-width="0.4"/>
<polygon points="1731.52,1190.86 1733.58,1195.33 1738.46,1195.9 1734.85,1199.24 1735.81,1204.06 1731.52,1201.66 1727.23,1204.06 1728.19,1199.24 1724.58,1195.9 1729.46,1195.33" fill="#8000ff" stroke="#fff" stroke-width="0.4"/>
<polygon points="1746.18,1190.64 1748.23,1195.11 1753.12,1195.68 1749.5,1199.02 1750.47,1203.84 1746.18,1201.44 1741.89,1203.84 1742.85,1199.02 1739.23,1195.68 1744.12,1195.11" fill="#8000ff" stroke="#fff" stroke-width="0.4"/>
<polygon points="1760.83,1190.42 1762.89,1194.89 1767.77,1195.46 1764.16,1198.8 1765.12,1203.62 1760.83,1201.22 1756.54,1203.62 1757.5,1198.8 1753.89,1195.46 1758.77,1194.89" fill="#8000ff" stroke="#fff" stroke-width="0.4"/>
<polygon points="1775.49,1190.2 1777.55,1194.67 1782.43,1195.24 1778.82,1198.58 1779.78,1203.4 1775.49,1201 1771.2,1203.4 1772.16,1198.58 1768.55,1195.24 1773.43,1194.67" fill="#8000ff" stroke="#fff" stroke-width="0.4"/>
<polygon points="1790.14,1189.98 1792.2,1194.45 1797.09,1195.02 1793.47,1198.36 1794.43,1203.18 1790.14,1200.78 1785.85,1203.18 1786.82,1198.36 1783.2,1195.02 1788.09,1194.45" fill="#8000ff" stroke="#fff" stroke-width="0.4"/>
<polygon points="1804.8,1189.76 1806.86,1194.23 1811.74,1194.8 1808.13,1198.14 1809.09,1202.96 1804.8,1200.56 1800.51,1202.96 1801.47,1198.14 1797.86,1194.8 1802.74,1194.23" fill="#8000ff" stroke="#fff" stroke-width="0.4"/>
<path d="M1086.66 1200.9 L1101.31 1200.63 L1115.97 1199.98 L1130.62 1198.92 L1145.28 1197.91 L1159.94 1196.9 L1174.59 1196.02 L1189.25 1194.92 L1203.9 1193.82 L1218.56 1192.81 L1233.22 1191.8 L1247.87 1190.74 L1262.53 1189.42 L1277.18 1188.1 L1291.84 1186.79 L1306.5 1185.73 L1321.15 1184.67 L1335.81 1183.62 L1350.46 1182.56 L1365.12 1181.51 L1379.78 1180.23 L1394.43 1178.94 L1409.09 1177.66 L1423.74 1176.37 L1438.4 1175.09 L1453.06 1174.13 L1467.71 1173.17 L1482.37 1172.21 L1497.02 1171.26 L1511.68 1170.3 L1526.34 1169.24 L1540.99 1168.19 L1555.65 1167.13 L1570.3 1166.08 L1584.96 1165.02 L1599.62 1163.76 L1614.27 1162.49 L1628.93 1161.22 L1643.58 1159.96 L1658.24 1158.69 L1672.9 1157.23 L1687.55 1155.77 L1702.21 1154.31 L1716.86 1152.85 L1731.52 1151.39 L1746.18 1150.13 L1760.83 1148.88 L1775.49 1147.62 L1790.14 1146.36 L1804.8 1145.1" fill="none" stroke="#0000ff" stroke-width="1.8"/>
<rect x="1080.36" y="1194.6" width="12.6" height="12.6" fill="#0000ff" stroke="#fff" stroke-width="0.5"/>
<rect x="1095.01" y="1194.33" width="12.6" height="12.6" fill="#0000ff" stroke="#fff" stroke-width="0.5"/>
<rect x="1109.67" y="1193.68" width="12.6" height="12.6" fill="#0000ff" stroke="#fff" stroke-width="0.5"/>
<rect x="1124.32" y="1192.62" width="12.6" height="12.6" fill="#0000ff" stroke="#fff" stroke-width="0.5"/>
<rect x="1138.98" y="1191.61" width="12.6" height="12.6" fill="#0000ff" stroke="#fff" stroke-width="0.5"/>
<rect x="1153.64" y="1190.6" width="12.6" height="12.6" fill="#0000ff" stroke="#fff" stroke-width="0.5"/>
<rect x="1168.29" y="1189.72" width="12.6" height="12.6" fill="#0000ff" stroke="#fff" stroke-width="0.5"/>
<rect x="1182.95" y="1188.62" width="12.6" height="12.6" fill="#0000ff" stroke="#fff" stroke-width="0.5"/>
<rect x="1197.6" y="1187.52" width="12.6" height="12.6" fill="#0000ff" stroke="#fff" stroke-width="0.5"/>
<rect x="1212.26" y="1186.51" width="12.6" height="12.6" fill="#0000ff" stroke="#fff" stroke-width="0.5"/>
<rect x="1226.92" y="1185.5" width="12.6" height="12.6" fill="#0000ff" stroke="#fff" stroke-width="0.5"/>
<rect x="1241.57" y="1184.44" width="12.6" height="12.6" fill="#0000ff" stroke="#fff" stroke-width="0.5"/>
<rect x="1256.23" y="1183.12" width="12.6" height="12.6" fill="#0000ff" stroke="#fff" stroke-width="0.5"/>
<rect x="1270.88" y="1181.8" width="12.6" height="12.6" fill="#0000ff" stroke="#fff" stroke-width="0.5"/>
<rect x="1285.54" y="1180.49" width="12.6" height="12.6" fill="#0000ff" stroke="#fff" stroke-width="0.5"/>
<rect x="1300.2" y="1179.43" width="12.6" height="12.6" fill="#0000ff" stroke="#fff" stroke-width="0.5"/>
<rect x="1314.85" y="1178.37" width="12.6" height="12.6" fill="#0000ff" stroke="#fff" stroke-width="0.5"/>
<rect x="1329.51" y="1177.32" width="12.6" height="12.6" fill="#0000ff" stroke="#fff" stroke-width="0.5"/>
<rect x="1344.16" y="1176.26" width="12.6" height="12.6" fill="#0000ff" stroke="#fff" stroke-width="0.5"/>
<rect x="1358.82" y="1175.21" width="12.6" height="12.6" fill="#0000ff" stroke="#fff" stroke-width="0.5"/>
<rect x="1373.48" y="1173.93" width="12.6" height="12.6" fill="#0000ff" stroke="#fff" stroke-width="0.5"/>
<rect x="1388.13" y="1172.64" width="12.6" height="12.6" fill="#0000ff" stroke="#fff" stroke-width="0.5"/>
<rect x="1402.79" y="1171.36" width="12.6" height="12.6" fill="#0000ff" stroke="#fff" stroke-width="0.5"/>
<rect x="1417.44" y="1170.07" width="12.6" height="12.6" fill="#0000ff" stroke="#fff" stroke-width="0.5"/>
<rect x="1432.1" y="1168.79" width="12.6" height="12.6" fill="#0000ff" stroke="#fff" stroke-width="0.5"/>
<rect x="1446.76" y="1167.83" width="12.6" height="12.6" fill="#0000ff" stroke="#fff" stroke-width="0.5"/>
<rect x="1461.41" y="1166.87" width="12.6" height="12.6" fill="#0000ff" stroke="#fff" stroke-width="0.5"/>
<rect x="1476.07" y="1165.91" width="12.6" height="12.6" fill="#0000ff" stroke="#fff" stroke-width="0.5"/>
<rect x="1490.72" y="1164.96" width="12.6" height="12.6" fill="#0000ff" stroke="#fff" stroke-width="0.5"/>
<rect x="1505.38" y="1164" width="12.6" height="12.6" fill="#0000ff" stroke="#fff" stroke-width="0.5"/>
<rect x="1520.04" y="1162.94" width="12.6" height="12.6" fill="#0000ff" stroke="#fff" stroke-width="0.5"/>
<rect x="1534.69" y="1161.89" width="12.6" height="12.6" fill="#0000ff" stroke="#fff" stroke-width="0.5"/>
<rect x="1549.35" y="1160.83" width="12.6" height="12.6" fill="#0000ff" stroke="#fff" stroke-width="0.5"/>
<rect x="1564" y="1159.78" width="12.6" height="12.6" fill="#0000ff" stroke="#fff" stroke-width="0.5"/>
<rect x="1578.66" y="1158.72" width="12.6" height="12.6" fill="#0000ff" stroke="#fff" stroke-width="0.5"/>
<rect x="1593.32" y="1157.46" width="12.6" height="12.6" fill="#0000ff" stroke="#fff" stroke-width="0.5"/>
<rect x="1607.97" y="1156.19" width="12.6" height="12.6" fill="#0000ff" stroke="#fff" stroke-width="0.5"/>
<rect x="1622.63" y="1154.92" width="12.6" height="12.6" fill="#0000ff" stroke="#fff" stroke-width="0.5"/>
<rect x="1637.28" y="1153.66" width="12.6" height="12.6" fill="#0000ff" stroke="#fff" stroke-width="0.5"/>
<rect x="1651.94" y="1152.39" width="12.6" height="12.6" fill="#0000ff" stroke="#fff" stroke-width="0.5"/>
<rect x="1666.6" y="1150.93" width="12.6" height="12.6" fill="#0000ff" stroke="#fff" stroke-width="0.5"/>
<rect x="1681.25" y="1149.47" width="12.6" height="12.6" fill="#0000ff" stroke="#fff" stroke-width="0.5"/>
<rect x="1695.91" y="1148.01" width="12.6" height="12.6" fill="#0000ff" stroke="#fff" stroke-width="0.5"/>
<rect x="1710.56" y="1146.55" width="12.6" height="12.6" fill="#0000ff" stroke="#fff" stroke-width="0.5"/>
<rect x="1725.22" y="1145.09" width="12.6" height="12.6" fill="#0000ff" stroke="#fff" stroke-width="0.5"/>
<rect x="1739.88" y="1143.83" width="12.6" height="12.6" fill="#0000ff" stroke="#fff" stroke-width="0.5"/>
<rect x="1754.53" y="1142.58" width="12.6" height="12.6" fill="#0000ff" stroke="#fff" stroke-width="0.5"/>
<rect x="1769.19" y="1141.32" width="12.6" height="12.6" fill="#0000ff" stroke="#fff" stroke-width="0.5"/>
<rect x="1783.84" y="1140.06" width="12.6" height="12.6" fill="#0000ff" stroke="#fff" stroke-width="0.5"/>
<rect x="1798.5" y="1138.8" width="12.6" height="12.6" fill="#0000ff" stroke="#fff" stroke-width="0.5"/>
<polygon points="1086.66,1204.63 1094.56,1212.73 1086.66,1220.83 1078.76,1212.73" fill="#ff0000" stroke="#fff" stroke-width="0.5"/>
<polygon points="1086.66,1200.31 1088.71,1204.78 1093.6,1205.35 1089.98,1208.69 1090.95,1213.52 1086.66,1211.11 1082.37,1213.52 1083.33,1208.69 1079.71,1205.35 1084.6,1204.78" fill="#8000ff" stroke="#fff" stroke-width="0.4"/>
<rect x="1080.36" y="1194.6" width="12.6" height="12.6" fill="#0000ff" stroke="#fff" stroke-width="0.5"/>
<rect x="1120.5" y="724.4" width="366" height="282.6" fill="#fff" stroke="#000" stroke-width="1.8"/>
<path d="M1134.7 755.9H1200.6" stroke="#000000" stroke-width="2.6"/>
<circle cx="1167.7" cy="755.9" r="6.6" fill="#000000"/>
<text x="1216.3" y="765.8" font-size="28.6"><tspan>Ni-GDC</tspan></text>
<path d="M1134.7 793.2H1200.6" stroke="#0000ff" stroke-width="1.5"/>
<rect x="1161.4" y="786.9" width="12.6" height="12.6" fill="#0000ff"/>
<text x="1216.3" y="797.8" font-size="28.6"><tspan>Ni</tspan><tspan dy="9.0" font-size="20.0">80</tspan><tspan dy="-9.0">Co</tspan><tspan dy="9.0" font-size="20.0">20</tspan><tspan dy="-9.0">-GDC</tspan></text>
<path d="M1134.7 836H1200.6" stroke="#00ff00" stroke-width="1.5"/>
<polygon points="1167.7,828 1174.7,840 1160.7,840" fill="#00ff00"/>
<text x="1216.3" y="840.2" font-size="28.3"><tspan>Ni</tspan><tspan dy="9.0" font-size="20.0">80</tspan><tspan dy="-9.0">Fe</tspan><tspan dy="9.0" font-size="20.0">20</tspan><tspan dy="-9.0">-GDC</tspan></text>
<path d="M1134.7 880.7H1200.6" stroke="#ff00ff" stroke-width="1.5"/>
<polygon points="1167.7,888.7 1174.7,876.7 1160.7,876.7" fill="#ff00ff"/>
<text x="1216.3" y="884.5" font-size="28.3"><tspan>Ni</tspan><tspan dy="9.0" font-size="20.0">80</tspan><tspan dy="-9.0">Cr</tspan><tspan dy="9.0" font-size="20.0">20</tspan><tspan dy="-9.0">-GDC</tspan></text>
<path d="M1134.7 925.4H1200.6" stroke="#ff0000" stroke-width="1.5" stroke-dasharray="14.5 5"/>
<polygon points="1167.7,917.3 1175.6,925.4 1167.7,933.5 1159.8,925.4" fill="#ff0000"/>
<text x="1216.3" y="929.3" font-size="28.1"><tspan>Ni</tspan><tspan dy="9.0" font-size="19.7">74.5</tspan><tspan dy="-9.0">Cr</tspan><tspan dy="9.0" font-size="19.7">17.2</tspan><tspan dy="-9.0">Fe</tspan><tspan dy="9.0" font-size="19.7">8.3</tspan><tspan dy="-9.0">-GDC</tspan></text>
<path d="M1134.7 970.2H1200.6" stroke="#8000ff" stroke-width="1.5" stroke-dasharray="14.5 5"/>
<polygon points="1167.7,963.5 1169.76,967.97 1174.64,968.54 1171.03,971.88 1171.99,976.71 1167.7,974.3 1163.41,976.71 1164.37,971.88 1160.76,968.54 1165.64,967.97" fill="#8000ff"/>
<text x="1216.3" y="974" font-size="28.0"><tspan>Ni</tspan><tspan dy="9.0" font-size="19.6">58.3</tspan><tspan dy="-9.0">Cr</tspan><tspan dy="9.0" font-size="19.6">25.0</tspan><tspan dy="-9.0">Fe</tspan><tspan dy="9.0" font-size="19.6">16.7</tspan><tspan dy="-9.0">-GDC</tspan></text>
<rect x="663.5" y="1406.6" width="732.5" height="527.1" fill="none" stroke="#2b2b2b" stroke-width="2.2"/>
<path d="M810 1933.7V1926.2M956.5 1933.7V1926.2M1103 1933.7V1926.2M1249.5 1933.7V1926.2M663.5 1845.85H671.5M663.5 1758H671.5M663.5 1670.15H671.5M663.5 1582.3H671.5M663.5 1494.45H671.5" stroke="#2b2b2b" stroke-width="2.2" fill="none"/>
<text x="663.5" y="1981.3" text-anchor="middle" font-size="34.8">0</text>
<text x="810" y="1981.3" text-anchor="middle" font-size="34.8">10</text>
<text x="956.5" y="1981.3" text-anchor="middle" font-size="34.8">20</text>
<text x="1103" y="1981.3" text-anchor="middle" font-size="34.8">30</text>
<text x="1249.5" y="1981.3" text-anchor="middle" font-size="34.8">40</text>
<text x="1396" y="1981.3" text-anchor="middle" font-size="34.8">50</text>
<text x="647" y="1945.36" text-anchor="end" font-size="34.8">0.0</text>
<text x="647" y="1857.51" text-anchor="end" font-size="34.8">0.2</text>
<text x="647" y="1769.66" text-anchor="end" font-size="34.8">0.4</text>
<text x="647" y="1681.81" text-anchor="end" font-size="34.8">0.6</text>
<text x="647" y="1593.96" text-anchor="end" font-size="34.8">0.8</text>
<text x="647" y="1506.11" text-anchor="end" font-size="34.8">1.0</text>
<text x="647" y="1418.26" text-anchor="end" font-size="34.8">1.2</text>
<path d="M678.15 1932.6 L692.8 1932.6 L707.45 1932.6 L722.1 1931.5 L736.75 1928.43 L751.4 1924.48 L766.05 1918.33 L780.7 1912.18 L795.35 1908 L810 1904.97 L824.65 1899.88 L839.3 1894.78 L853.95 1889.78 L868.6 1883.63 L883.25 1878.35 L897.9 1871.33 L912.55 1864.3 L927.2 1857.71 L941.85 1849.8 L956.5 1843.65 L971.15 1836.63 L985.8 1828.28 L1000.45 1820.37 L1015.1 1812.03 L1029.75 1803.68 L1044.4 1794.9 L1059.05 1785.67 L1073.7 1779.52 L1088.35 1771.62 L1103 1763.71 L1117.65 1757.12 L1132.3 1749.65 L1146.95 1743.07 L1161.6 1734.72 L1176.25 1725.5 L1190.9 1719.35 L1205.55 1712.32 L1220.2 1706.61 L1234.85 1701.78 L1249.5 1693.43 L1264.15 1687.72 L1278.8 1678.06 L1293.45 1665.76 L1308.1 1661.37 L1322.75 1653.9 L1337.4 1649.94 L1352.05 1645.55 L1366.7 1636.77 L1381.35 1629.3 L1396 1622.49" fill="none" stroke="#000000" stroke-width="2.6"/>
<circle cx="678.15" cy="1932.6" r="6.65" fill="#000000"/>
<circle cx="692.8" cy="1932.6" r="6.65" fill="#000000"/>
<circle cx="707.45" cy="1932.6" r="6.65" fill="#000000"/>
<circle cx="722.1" cy="1931.5" r="6.65" fill="#000000"/>
<circle cx="736.75" cy="1928.43" r="6.65" fill="#000000"/>
<circle cx="751.4" cy="1924.48" r="6.65" fill="#000000"/>
<circle cx="766.05" cy="1918.33" r="6.65" fill="#000000"/>
<circle cx="780.7" cy="1912.18" r="6.65" fill="#000000"/>
<circle cx="795.35" cy="1908" r="6.65" fill="#000000"/>
<circle cx="810" cy="1904.97" r="6.65" fill="#000000"/>
<circle cx="824.65" cy="1899.88" r="6.65" fill="#000000"/>
<circle cx="839.3" cy="1894.78" r="6.65" fill="#000000"/>
<circle cx="853.95" cy="1889.78" r="6.65" fill="#000000"/>
<circle cx="868.6" cy="1883.63" r="6.65" fill="#000000"/>
<circle cx="883.25" cy="1878.35" r="6.65" fill="#000000"/>
<circle cx="897.9" cy="1871.33" r="6.65" fill="#000000"/>
<circle cx="912.55" cy="1864.3" r="6.65" fill="#000000"/>
<circle cx="927.2" cy="1857.71" r="6.65" fill="#000000"/>
<circle cx="941.85" cy="1849.8" r="6.65" fill="#000000"/>
<circle cx="956.5" cy="1843.65" r="6.65" fill="#000000"/>
<circle cx="971.15" cy="1836.63" r="6.65" fill="#000000"/>
<circle cx="985.8" cy="1828.28" r="6.65" fill="#000000"/>
<circle cx="1000.45" cy="1820.37" r="6.65" fill="#000000"/>
<circle cx="1015.1" cy="1812.03" r="6.65" fill="#000000"/>
<circle cx="1029.75" cy="1803.68" r="6.65" fill="#000000"/>
<circle cx="1044.4" cy="1794.9" r="6.65" fill="#000000"/>
<circle cx="1059.05" cy="1785.67" r="6.65" fill="#000000"/>
<circle cx="1073.7" cy="1779.52" r="6.65" fill="#000000"/>
<circle cx="1088.35" cy="1771.62" r="6.65" fill="#000000"/>
<circle cx="1103" cy="1763.71" r="6.65" fill="#000000"/>
<circle cx="1117.65" cy="1757.12" r="6.65" fill="#000000"/>
<circle cx="1132.3" cy="1749.65" r="6.65" fill="#000000"/>
<circle cx="1146.95" cy="1743.07" r="6.65" fill="#000000"/>
<circle cx="1161.6" cy="1734.72" r="6.65" fill="#000000"/>
<circle cx="1176.25" cy="1725.5" r="6.65" fill="#000000"/>
<circle cx="1190.9" cy="1719.35" r="6.65" fill="#000000"/>
<circle cx="1205.55" cy="1712.32" r="6.65" fill="#000000"/>
<circle cx="1220.2" cy="1706.61" r="6.65" fill="#000000"/>
<circle cx="1234.85" cy="1701.78" r="6.65" fill="#000000"/>
<circle cx="1249.5" cy="1693.43" r="6.65" fill="#000000"/>
<circle cx="1264.15" cy="1687.72" r="6.65" fill="#000000"/>
<circle cx="1278.8" cy="1678.06" r="6.65" fill="#000000"/>
<circle cx="1293.45" cy="1665.76" r="6.65" fill="#000000"/>
<circle cx="1308.1" cy="1661.37" r="6.65" fill="#000000"/>
<circle cx="1322.75" cy="1653.9" r="6.65" fill="#000000"/>
<circle cx="1337.4" cy="1649.94" r="6.65" fill="#000000"/>
<circle cx="1352.05" cy="1645.55" r="6.65" fill="#000000"/>
<circle cx="1366.7" cy="1636.77" r="6.65" fill="#000000"/>
<circle cx="1381.35" cy="1629.3" r="6.65" fill="#000000"/>
<circle cx="1396" cy="1622.49" r="6.65" fill="#000000"/>
<path d="M678.15 1908.49 L692.8 1875.28 L707.45 1870.01 L722.1 1869.57 L736.75 1869.57 L751.4 1869.57 L766.05 1869.57 L780.7 1869.57 L795.35 1869.57 L810 1869.57 L824.65 1869.57 L839.3 1869.57 L853.95 1869.57 L868.6 1869.57 L883.25 1869.57 L897.9 1869.57 L912.55 1869.57 L927.2 1869.57 L941.85 1869.57 L956.5 1869.57 L971.15 1869.57 L985.8 1867.81 L1000.45 1866.8 L1015.1 1865.31 L1029.75 1864.3 L1044.4 1862.98 L1059.05 1861.66 L1073.7 1860.56 L1088.35 1859.47 L1103 1858.15 L1117.65 1857.71 L1132.3 1857.27 L1146.95 1856.39 L1161.6 1855.95 L1176.25 1854.63 L1190.9 1853.76 L1205.55 1853.19 L1220.2 1852.09 L1234.85 1850.51 L1249.5 1849.1 L1264.15 1847.69 L1278.8 1847.39 L1293.45 1847.17 L1308.1 1846.29 L1322.75 1844.53 L1337.4 1843.21 L1352.05 1841.28 L1366.7 1839.48 L1381.35 1837.02" fill="none" stroke="#ff0000" stroke-width="1.8" stroke-dasharray="14.5 5"/>
<polygon points="678.15,1900.39 686.05,1908.49 678.15,1916.59 670.25,1908.49" fill="#ff0000" stroke="#fff" stroke-width="0.5"/>
<polygon points="692.8,1867.18 700.7,1875.28 692.8,1883.38 684.9,1875.28" fill="#ff0000" stroke="#fff" stroke-width="0.5"/>
<polygon points="707.45,1861.91 715.35,1870.01 707.45,1878.11 699.55,1870.01" fill="#ff0000" stroke="#fff" stroke-width="0.5"/>
<polygon points="722.1,1861.47 730,1869.57 722.1,1877.67 714.2,1869.57" fill="#ff0000" stroke="#fff" stroke-width="0.5"/>
<polygon points="736.75,1861.47 744.65,1869.57 736.75,1877.67 728.85,1869.57" fill="#ff0000" stroke="#fff" stroke-width="0.5"/>
<polygon points="751.4,1861.47 759.3,1869.57 751.4,1877.67 743.5,1869.57" fill="#ff0000" stroke="#fff" stroke-width="0.5"/>
<polygon points="766.05,1861.47 773.95,1869.57 766.05,1877.67 758.15,1869.57" fill="#ff0000" stroke="#fff" stroke-width="0.5"/>
<polygon points="780.7,1861.47 788.6,1869.57 780.7,1877.67 772.8,1869.57" fill="#ff0000" stroke="#fff" stroke-width="0.5"/>
<polygon points="795.35,1861.47 803.25,1869.57 795.35,1877.67 787.45,1869.57" fill="#ff0000" stroke="#fff" stroke-width="0.5"/>
<polygon points="810,1861.47 817.9,1869.57 810,1877.67 802.1,1869.57" fill="#ff0000" stroke="#fff" stroke-width="0.5"/>
<polygon points="824.65,1861.47 832.55,1869.57 824.65,1877.67 816.75,1869.57" fill="#ff0000" stroke="#fff" stroke-width="0.5"/>
<polygon points="839.3,1861.47 847.2,1869.57 839.3,1877.67 831.4,1869.57" fill="#ff0000" stroke="#fff" stroke-width="0.5"/>
<polygon points="853.95,1861.47 861.85,1869.57 853.95,1877.67 846.05,1869.57" fill="#ff0000" stroke="#fff" stroke-width="0.5"/>
<polygon points="868.6,1861.47 876.5,1869.57 868.6,1877.67 860.7,1869.57" fill="#ff0000" stroke="#fff" stroke-width="0.5"/>
<polygon points="883.25,1861.47 891.15,1869.57 883.25,1877.67 875.35,1869.57" fill="#ff0000" stroke="#fff" stroke-width="0.5"/>
<polygon points="897.9,1861.47 905.8,1869.57 897.9,1877.67 890,1869.57" fill="#ff0000" stroke="#fff" stroke-width="0.5"/>
<polygon points="912.55,1861.47 920.45,1869.57 912.55,1877.67 904.65,1869.57" fill="#ff0000" stroke="#fff" stroke-width="0.5"/>
<polygon points="927.2,1861.47 935.1,1869.57 927.2,1877.67 919.3,1869.57" fill="#ff0000" stroke="#fff" stroke-width="0.5"/>
<polygon points="941.85,1861.47 949.75,1869.57 941.85,1877.67 933.95,1869.57" fill="#ff0000" stroke="#fff" stroke-width="0.5"/>
<polygon points="956.5,1861.47 964.4,1869.57 956.5,1877.67 948.6,1869.57" fill="#ff0000" stroke="#fff" stroke-width="0.5"/>
<polygon points="971.15,1861.47 979.05,1869.57 971.15,1877.67 963.25,1869.57" fill="#ff0000" stroke="#fff" stroke-width="0.5"/>
<polygon points="985.8,1859.71 993.7,1867.81 985.8,1875.91 977.9,1867.81" fill="#ff0000" stroke="#fff" stroke-width="0.5"/>
<polygon points="1000.45,1858.7 1008.35,1866.8 1000.45,1874.9 992.55,1866.8" fill="#ff0000" stroke="#fff" stroke-width="0.5"/>
<polygon points="1015.1,1857.21 1023,1865.31 1015.1,1873.41 1007.2,1865.31" fill="#ff0000" stroke="#fff" stroke-width="0.5"/>
<polygon points="1029.75,1856.2 1037.65,1864.3 1029.75,1872.4 1021.85,1864.3" fill="#ff0000" stroke="#fff" stroke-width="0.5"/>
<polygon points="1044.4,1854.88 1052.3,1862.98 1044.4,1871.08 1036.5,1862.98" fill="#ff0000" stroke="#fff" stroke-width="0.5"/>
<polygon points="1059.05,1853.56 1066.95,1861.66 1059.05,1869.76 1051.15,1861.66" fill="#ff0000" stroke="#fff" stroke-width="0.5"/>
<polygon points="1073.7,1852.46 1081.6,1860.56 1073.7,1868.66 1065.8,1860.56" fill="#ff0000" stroke="#fff" stroke-width="0.5"/>
<polygon points="1088.35,1851.37 1096.25,1859.47 1088.35,1867.57 1080.45,1859.47" fill="#ff0000" stroke="#fff" stroke-width="0.5"/>
<polygon points="1103,1850.05 1110.9,1858.15 1103,1866.25 1095.1,1858.15" fill="#ff0000" stroke="#fff" stroke-width="0.5"/>
<polygon points="1117.65,1849.61 1125.55,1857.71 1117.65,1865.81 1109.75,1857.71" fill="#ff0000" stroke="#fff" stroke-width="0.5"/>
<polygon points="1132.3,1849.17 1140.2,1857.27 1132.3,1865.37 1124.4,1857.27" fill="#ff0000" stroke="#fff" stroke-width="0.5"/>
<polygon points="1146.95,1848.29 1154.85,1856.39 1146.95,1864.49 1139.05,1856.39" fill="#ff0000" stroke="#fff" stroke-width="0.5"/>
<polygon points="1161.6,1847.85 1169.5,1855.95 1161.6,1864.05 1153.7,1855.95" fill="#ff0000" stroke="#fff" stroke-width="0.5"/>
<polygon points="1176.25,1846.54 1184.15,1854.63 1176.25,1862.73 1168.35,1854.63" fill="#ff0000" stroke="#fff" stroke-width="0.5"/>
<polygon points="1190.9,1845.66 1198.8,1853.76 1190.9,1861.86 1183,1853.76" fill="#ff0000" stroke="#fff" stroke-width="0.5"/>
<polygon points="1205.55,1845.09 1213.45,1853.19 1205.55,1861.29 1197.65,1853.19" fill="#ff0000" stroke="#fff" stroke-width="0.5"/>
<polygon points="1220.2,1843.99 1228.1,1852.09 1220.2,1860.19 1212.3,1852.09" fill="#ff0000" stroke="#fff" stroke-width="0.5"/>
<polygon points="1234.85,1842.41 1242.75,1850.51 1234.85,1858.61 1226.95,1850.51" fill="#ff0000" stroke="#fff" stroke-width="0.5"/>
<polygon points="1249.5,1841 1257.4,1849.1 1249.5,1857.2 1241.6,1849.1" fill="#ff0000" stroke="#fff" stroke-width="0.5"/>
<polygon points="1264.15,1839.59 1272.05,1847.69 1264.15,1855.79 1256.25,1847.69" fill="#ff0000" stroke="#fff" stroke-width="0.5"/>
<polygon points="1278.8,1839.29 1286.7,1847.39 1278.8,1855.49 1270.9,1847.39" fill="#ff0000" stroke="#fff" stroke-width="0.5"/>
<polygon points="1293.45,1839.07 1301.35,1847.17 1293.45,1855.27 1285.55,1847.17" fill="#ff0000" stroke="#fff" stroke-width="0.5"/>
<polygon points="1308.1,1838.19 1316,1846.29 1308.1,1854.39 1300.2,1846.29" fill="#ff0000" stroke="#fff" stroke-width="0.5"/>
<polygon points="1322.75,1836.43 1330.65,1844.53 1322.75,1852.63 1314.85,1844.53" fill="#ff0000" stroke="#fff" stroke-width="0.5"/>
<polygon points="1337.4,1835.11 1345.3,1843.21 1337.4,1851.31 1329.5,1843.21" fill="#ff0000" stroke="#fff" stroke-width="0.5"/>
<polygon points="1352.05,1833.18 1359.95,1841.28 1352.05,1849.38 1344.15,1841.28" fill="#ff0000" stroke="#fff" stroke-width="0.5"/>
<polygon points="1366.7,1831.38 1374.6,1839.48 1366.7,1847.58 1358.8,1839.48" fill="#ff0000" stroke="#fff" stroke-width="0.5"/>
<polygon points="1381.35,1828.92 1389.25,1837.02 1381.35,1845.12 1373.45,1837.02" fill="#ff0000" stroke="#fff" stroke-width="0.5"/>
<path d="M678.15 1913.93 L692.8 1912.18 L707.45 1912.18 L722.1 1911.52 L736.75 1911.3 L751.4 1910.86 L766.05 1909.98 L780.7 1908 L795.35 1907.02 L810 1906.03 L824.65 1905.59 L839.3 1905.15 L853.95 1904.42 L868.6 1903.68 L883.25 1902.95 L897.9 1902.37 L912.55 1901.78 L927.2 1901.2 L941.85 1900.1 L956.5 1899 L971.15 1897.68 L985.8 1896.36 L1000.45 1895.15 L1015.1 1893.93 L1029.75 1892.72 L1044.4 1891.31 L1059.05 1889.91 L1073.7 1888.5 L1088.35 1887.1 L1103 1884.9 L1117.65 1883.1 L1132.3 1881.21 L1146.95 1879.19 L1161.6 1877.08 L1176.25 1875.19 L1190.9 1873.22 L1205.55 1871.19 L1220.2 1869 L1234.85 1866.93 L1249.5 1865.09 L1264.15 1862.98 L1278.8 1860.56 L1293.45 1859.47 L1308.1 1858.59 L1322.75 1857.27 L1337.4 1856.39 L1352.05 1854.63 L1366.7 1849.8 L1381.35 1844.01 L1396 1842.2" fill="none" stroke="#00ff00" stroke-width="1.8"/>
<polygon points="678.15,1905.93 685.15,1917.93 671.15,1917.93" fill="#00ff00" stroke="#fff" stroke-width="0.5"/>
<polygon points="692.8,1904.18 699.8,1916.18 685.8,1916.18" fill="#00ff00" stroke="#fff" stroke-width="0.5"/>
<polygon points="707.45,1904.18 714.45,1916.18 700.45,1916.18" fill="#00ff00" stroke="#fff" stroke-width="0.5"/>
<polygon points="722.1,1903.52 729.1,1915.52 715.1,1915.52" fill="#00ff00" stroke="#fff" stroke-width="0.5"/>
<polygon points="736.75,1903.3 743.75,1915.3 729.75,1915.3" fill="#00ff00" stroke="#fff" stroke-width="0.5"/>
<polygon points="751.4,1902.86 758.4,1914.86 744.4,1914.86" fill="#00ff00" stroke="#fff" stroke-width="0.5"/>
<polygon points="766.05,1901.98 773.05,1913.98 759.05,1913.98" fill="#00ff00" stroke="#fff" stroke-width="0.5"/>
<polygon points="780.7,1900 787.7,1912 773.7,1912" fill="#00ff00" stroke="#fff" stroke-width="0.5"/>
<polygon points="795.35,1899.02 802.35,1911.02 788.35,1911.02" fill="#00ff00" stroke="#fff" stroke-width="0.5"/>
<polygon points="810,1898.03 817,1910.03 803,1910.03" fill="#00ff00" stroke="#fff" stroke-width="0.5"/>
<polygon points="824.65,1897.59 831.65,1909.59 817.65,1909.59" fill="#00ff00" stroke="#fff" stroke-width="0.5"/>
<polygon points="839.3,1897.15 846.3,1909.15 832.3,1909.15" fill="#00ff00" stroke="#fff" stroke-width="0.5"/>
<polygon points="853.95,1896.42 860.95,1908.42 846.95,1908.42" fill="#00ff00" stroke="#fff" stroke-width="0.5"/>
<polygon points="868.6,1895.68 875.6,1907.68 861.6,1907.68" fill="#00ff00" stroke="#fff" stroke-width="0.5"/>
<polygon points="883.25,1894.95 890.25,1906.95 876.25,1906.95" fill="#00ff00" stroke="#fff" stroke-width="0.5"/>
<polygon points="897.9,1894.37 904.9,1906.37 890.9,1906.37" fill="#00ff00" stroke="#fff" stroke-width="0.5"/>
<polygon points="912.55,1893.78 919.55,1905.78 905.55,1905.78" fill="#00ff00" stroke="#fff" stroke-width="0.5"/>
<polygon points="927.2,1893.2 934.2,1905.2 920.2,1905.2" fill="#00ff00" stroke="#fff" stroke-width="0.5"/>
<polygon points="941.85,1892.1 948.85,1904.1 934.85,1904.1" fill="#00ff00" stroke="#fff" stroke-width="0.5"/>
<polygon points="956.5,1891 963.5,1903 949.5,1903" fill="#00ff00" stroke="#fff" stroke-width="0.5"/>
<polygon points="971.15,1889.68 978.15,1901.68 964.15,1901.68" fill="#00ff00" stroke="#fff" stroke-width="0.5"/>
<polygon points="985.8,1888.36 992.8,1900.36 978.8,1900.36" fill="#00ff00" stroke="#fff" stroke-width="0.5"/>
<polygon points="1000.45,1887.15 1007.45,1899.15 993.45,1899.15" fill="#00ff00" stroke="#fff" stroke-width="0.5"/>
<polygon points="1015.1,1885.93 1022.1,1897.93 1008.1,1897.93" fill="#00ff00" stroke="#fff" stroke-width="0.5"/>
<polygon points="1029.75,1884.72 1036.75,1896.72 1022.75,1896.72" fill="#00ff00" stroke="#fff" stroke-width="0.5"/>
<polygon points="1044.4,1883.31 1051.4,1895.31 1037.4,1895.31" fill="#00ff00" stroke="#fff" stroke-width="0.5"/>
<polygon points="1059.05,1881.91 1066.05,1893.91 1052.05,1893.91" fill="#00ff00" stroke="#fff" stroke-width="0.5"/>
<polygon points="1073.7,1880.5 1080.7,1892.5 1066.7,1892.5" fill="#00ff00" stroke="#fff" stroke-width="0.5"/>
<polygon points="1088.35,1879.1 1095.35,1891.1 1081.35,1891.1" fill="#00ff00" stroke="#fff" stroke-width="0.5"/>
<polygon points="1103,1876.9 1110,1888.9 1096,1888.9" fill="#00ff00" stroke="#fff" stroke-width="0.5"/>
<polygon points="1117.65,1875.1 1124.65,1887.1 1110.65,1887.1" fill="#00ff00" stroke="#fff" stroke-width="0.5"/>
<polygon points="1132.3,1873.21 1139.3,1885.21 1125.3,1885.21" fill="#00ff00" stroke="#fff" stroke-width="0.5"/>
<polygon points="1146.95,1871.19 1153.95,1883.19 1139.95,1883.19" fill="#00ff00" stroke="#fff" stroke-width="0.5"/>
<polygon points="1161.6,1869.08 1168.6,1881.08 1154.6,1881.08" fill="#00ff00" stroke="#fff" stroke-width="0.5"/>
<polygon points="1176.25,1867.19 1183.25,1879.19 1169.25,1879.19" fill="#00ff00" stroke="#fff" stroke-width="0.5"/>
<polygon points="1190.9,1865.22 1197.9,1877.22 1183.9,1877.22" fill="#00ff00" stroke="#fff" stroke-width="0.5"/>
<polygon points="1205.55,1863.19 1212.55,1875.19 1198.55,1875.19" fill="#00ff00" stroke="#fff" stroke-width="0.5"/>
<polygon points="1220.2,1861 1227.2,1873 1213.2,1873" fill="#00ff00" stroke="#fff" stroke-width="0.5"/>
<polygon points="1234.85,1858.93 1241.85,1870.93 1227.85,1870.93" fill="#00ff00" stroke="#fff" stroke-width="0.5"/>
<polygon points="1249.5,1857.09 1256.5,1869.09 1242.5,1869.09" fill="#00ff00" stroke="#fff" stroke-width="0.5"/>
<polygon points="1264.15,1854.98 1271.15,1866.98 1257.15,1866.98" fill="#00ff00" stroke="#fff" stroke-width="0.5"/>
<polygon points="1278.8,1852.56 1285.8,1864.56 1271.8,1864.56" fill="#00ff00" stroke="#fff" stroke-width="0.5"/>
<polygon points="1293.45,1851.47 1300.45,1863.47 1286.45,1863.47" fill="#00ff00" stroke="#fff" stroke-width="0.5"/>
<polygon points="1308.1,1850.59 1315.1,1862.59 1301.1,1862.59" fill="#00ff00" stroke="#fff" stroke-width="0.5"/>
<polygon points="1322.75,1849.27 1329.75,1861.27 1315.75,1861.27" fill="#00ff00" stroke="#fff" stroke-width="0.5"/>
<polygon points="1337.4,1848.39 1344.4,1860.39 1330.4,1860.39" fill="#00ff00" stroke="#fff" stroke-width="0.5"/>
<polygon points="1352.05,1846.63 1359.05,1858.63 1345.05,1858.63" fill="#00ff00" stroke="#fff" stroke-width="0.5"/>
<polygon points="1366.7,1841.8 1373.7,1853.8 1359.7,1853.8" fill="#00ff00" stroke="#fff" stroke-width="0.5"/>
<polygon points="1381.35,1836.01 1388.35,1848.01 1374.35,1848.01" fill="#00ff00" stroke="#fff" stroke-width="0.5"/>
<polygon points="1396,1834.2 1403,1846.2 1389,1846.2" fill="#00ff00" stroke="#fff" stroke-width="0.5"/>
<path d="M678.15 1872.6 L692.8 1871.02 L707.45 1866.14 L722.1 1861.22 L736.75 1855.69 L751.4 1849.23 L766.05 1843.79 L780.7 1839.31 L795.35 1836.32 L810 1833.81 L824.65 1832.8 L839.3 1831.31 L853.95 1830.87 L868.6 1831.35 L883.25 1832.37 L897.9 1833.33 L912.55 1834.34 L927.2 1835.35 L941.85 1835.84 L956.5 1836.41 L971.15 1837.07 L985.8 1837.59 L1000.45 1837.72 L1015.1 1838.08 L1029.75 1839.04 L1044.4 1839.34 L1059.05 1839.63 L1073.7 1839.93 L1088.35 1840.23 L1103 1841.11 L1117.65 1841.98 L1132.3 1842.45 L1146.95 1842.91 L1161.6 1843.06 L1176.25 1843.21 L1190.9 1843.21 L1205.55 1843.21 L1220.2 1843.21 L1234.85 1843.21 L1249.5 1843.21 L1264.15 1843.24 L1278.8 1843.26 L1293.45 1843.28 L1308.1 1843.3 L1322.75 1843.32 L1337.4 1843.35 L1352.05 1843.37 L1366.7 1843.39 L1381.35 1843.41 L1396 1843.43" fill="none" stroke="#ff00ff" stroke-width="1.8"/>
<polygon points="678.15,1880.6 685.15,1868.6 671.15,1868.6" fill="#ff00ff" stroke="#fff" stroke-width="0.5"/>
<polygon points="692.8,1879.02 699.8,1867.02 685.8,1867.02" fill="#ff00ff" stroke="#fff" stroke-width="0.5"/>
<polygon points="707.45,1874.14 714.45,1862.14 700.45,1862.14" fill="#ff00ff" stroke="#fff" stroke-width="0.5"/>
<polygon points="722.1,1869.22 729.1,1857.22 715.1,1857.22" fill="#ff00ff" stroke="#fff" stroke-width="0.5"/>
<polygon points="736.75,1863.69 743.75,1851.69 729.75,1851.69" fill="#ff00ff" stroke="#fff" stroke-width="0.5"/>
<polygon points="751.4,1857.23 758.4,1845.23 744.4,1845.23" fill="#ff00ff" stroke="#fff" stroke-width="0.5"/>
<polygon points="766.05,1851.79 773.05,1839.79 759.05,1839.79" fill="#ff00ff" stroke="#fff" stroke-width="0.5"/>
<polygon points="780.7,1847.31 787.7,1835.31 773.7,1835.31" fill="#ff00ff" stroke="#fff" stroke-width="0.5"/>
<polygon points="795.35,1844.32 802.35,1832.32 788.35,1832.32" fill="#ff00ff" stroke="#fff" stroke-width="0.5"/>
<polygon points="810,1841.81 817,1829.81 803,1829.81" fill="#ff00ff" stroke="#fff" stroke-width="0.5"/>
<polygon points="824.65,1840.8 831.65,1828.8 817.65,1828.8" fill="#ff00ff" stroke="#fff" stroke-width="0.5"/>
<polygon points="839.3,1839.31 846.3,1827.31 832.3,1827.31" fill="#ff00ff" stroke="#fff" stroke-width="0.5"/>
<polygon points="853.95,1838.87 860.95,1826.87 846.95,1826.87" fill="#ff00ff" stroke="#fff" stroke-width="0.5"/>
<polygon points="868.6,1839.35 875.6,1827.35 861.6,1827.35" fill="#ff00ff" stroke="#fff" stroke-width="0.5"/>
<polygon points="883.25,1840.37 890.25,1828.37 876.25,1828.37" fill="#ff00ff" stroke="#fff" stroke-width="0.5"/>
<polygon points="897.9,1841.33 904.9,1829.33 890.9,1829.33" fill="#ff00ff" stroke="#fff" stroke-width="0.5"/>
<polygon points="912.55,1842.34 919.55,1830.34 905.55,1830.34" fill="#ff00ff" stroke="#fff" stroke-width="0.5"/>
<polygon points="927.2,1843.35 934.2,1831.35 920.2,1831.35" fill="#ff00ff" stroke="#fff" stroke-width="0.5"/>
<polygon points="941.85,1843.84 948.85,1831.84 934.85,1831.84" fill="#ff00ff" stroke="#fff" stroke-width="0.5"/>
<polygon points="956.5,1844.41 963.5,1832.41 949.5,1832.41" fill="#ff00ff" stroke="#fff" stroke-width="0.5"/>
<polygon points="971.15,1845.07 978.15,1833.07 964.15,1833.07" fill="#ff00ff" stroke="#fff" stroke-width="0.5"/>
<polygon points="985.8,1845.59 992.8,1833.59 978.8,1833.59" fill="#ff00ff" stroke="#fff" stroke-width="0.5"/>
<polygon points="1000.45,1845.72 1007.45,1833.72 993.45,1833.72" fill="#ff00ff" stroke="#fff" stroke-width="0.5"/>
<polygon points="1015.1,1846.08 1022.1,1834.08 1008.1,1834.08" fill="#ff00ff" stroke="#fff" stroke-width="0.5"/>
<polygon points="1029.75,1847.04 1036.75,1835.04 1022.75,1835.04" fill="#ff00ff" stroke="#fff" stroke-width="0.5"/>
<polygon points="1044.4,1847.34 1051.4,1835.34 1037.4,1835.34" fill="#ff00ff" stroke="#fff" stroke-width="0.5"/>
<polygon points="1059.05,1847.63 1066.05,1835.63 1052.05,1835.63" fill="#ff00ff" stroke="#fff" stroke-width="0.5"/>
<polygon points="1073.7,1847.93 1080.7,1835.93 1066.7,1835.93" fill="#ff00ff" stroke="#fff" stroke-width="0.5"/>
<polygon points="1088.35,1848.23 1095.35,1836.23 1081.35,1836.23" fill="#ff00ff" stroke="#fff" stroke-width="0.5"/>
<polygon points="1103,1849.11 1110,1837.11 1096,1837.11" fill="#ff00ff" stroke="#fff" stroke-width="0.5"/>
<polygon points="1117.65,1849.98 1124.65,1837.98 1110.65,1837.98" fill="#ff00ff" stroke="#fff" stroke-width="0.5"/>
<polygon points="1132.3,1850.45 1139.3,1838.45 1125.3,1838.45" fill="#ff00ff" stroke="#fff" stroke-width="0.5"/>
<polygon points="1146.95,1850.91 1153.95,1838.91 1139.95,1838.91" fill="#ff00ff" stroke="#fff" stroke-width="0.5"/>
<polygon points="1161.6,1851.06 1168.6,1839.06 1154.6,1839.06" fill="#ff00ff" stroke="#fff" stroke-width="0.5"/>
<polygon points="1176.25,1851.21 1183.25,1839.21 1169.25,1839.21" fill="#ff00ff" stroke="#fff" stroke-width="0.5"/>
<polygon points="1190.9,1851.21 1197.9,1839.21 1183.9,1839.21" fill="#ff00ff" stroke="#fff" stroke-width="0.5"/>
<polygon points="1205.55,1851.21 1212.55,1839.21 1198.55,1839.21" fill="#ff00ff" stroke="#fff" stroke-width="0.5"/>
<polygon points="1220.2,1851.21 1227.2,1839.21 1213.2,1839.21" fill="#ff00ff" stroke="#fff" stroke-width="0.5"/>
<polygon points="1234.85,1851.21 1241.85,1839.21 1227.85,1839.21" fill="#ff00ff" stroke="#fff" stroke-width="0.5"/>
<polygon points="1249.5,1851.21 1256.5,1839.21 1242.5,1839.21" fill="#ff00ff" stroke="#fff" stroke-width="0.5"/>
<polygon points="1264.15,1851.24 1271.15,1839.24 1257.15,1839.24" fill="#ff00ff" stroke="#fff" stroke-width="0.5"/>
<polygon points="1278.8,1851.26 1285.8,1839.26 1271.8,1839.26" fill="#ff00ff" stroke="#fff" stroke-width="0.5"/>
<polygon points="1293.45,1851.28 1300.45,1839.28 1286.45,1839.28" fill="#ff00ff" stroke="#fff" stroke-width="0.5"/>
<polygon points="1308.1,1851.3 1315.1,1839.3 1301.1,1839.3" fill="#ff00ff" stroke="#fff" stroke-width="0.5"/>
<polygon points="1322.75,1851.32 1329.75,1839.32 1315.75,1839.32" fill="#ff00ff" stroke="#fff" stroke-width="0.5"/>
<polygon points="1337.4,1851.35 1344.4,1839.35 1330.4,1839.35" fill="#ff00ff" stroke="#fff" stroke-width="0.5"/>
<polygon points="1352.05,1851.37 1359.05,1839.37 1345.05,1839.37" fill="#ff00ff" stroke="#fff" stroke-width="0.5"/>
<polygon points="1366.7,1851.39 1373.7,1839.39 1359.7,1839.39" fill="#ff00ff" stroke="#fff" stroke-width="0.5"/>
<polygon points="1381.35,1851.41 1388.35,1839.41 1374.35,1839.41" fill="#ff00ff" stroke="#fff" stroke-width="0.5"/>
<polygon points="1396,1851.43 1403,1839.43 1389,1839.43" fill="#ff00ff" stroke="#fff" stroke-width="0.5"/>
<path d="M678.15 1882.48 L692.8 1877.48 L707.45 1870.45 L722.1 1862.98 L736.75 1858.15 L751.4 1855.07 L766.05 1853.76 L780.7 1852.88 L795.35 1852 L810 1850.68 L824.65 1849.36 L839.3 1847.61 L853.95 1846.73 L868.6 1845.41 L883.25 1844.09 L897.9 1841.9 L912.55 1840.14 L927.2 1839.26 L941.85 1837.5 L956.5 1836.63 L971.15 1835.53 L985.8 1834.43 L1000.45 1833.55 L1015.1 1832.67 L1029.75 1830.92 L1044.4 1829.86 L1059.05 1828.81 L1073.7 1827.75 L1088.35 1826.7 L1103 1825.64 L1117.65 1824.41 L1132.3 1823.18 L1146.95 1821.95 L1161.6 1820.72 L1176.25 1819.49 L1190.9 1818.18 L1205.55 1816.86 L1220.2 1815.54 L1234.85 1814.22 L1249.5 1812.91 L1264.15 1811.68 L1278.8 1810.45 L1293.45 1809.22 L1308.1 1807.99 L1322.75 1806.76 L1337.4 1805.88 L1352.05 1805 L1366.7 1804.12 L1381.35 1803.24 L1396 1802.36" fill="none" stroke="#8000ff" stroke-width="1.8" stroke-dasharray="14.5 5"/>
<polygon points="678.15,1875.78 680.21,1880.25 685.09,1880.83 681.48,1884.17 682.44,1888.99 678.15,1886.58 673.86,1888.99 674.82,1884.17 671.21,1880.83 676.09,1880.25" fill="#8000ff" stroke="#fff" stroke-width="0.4"/>
<polygon points="692.8,1870.78 694.86,1875.24 699.74,1875.82 696.13,1879.16 697.09,1883.98 692.8,1881.58 688.51,1883.98 689.47,1879.16 685.86,1875.82 690.74,1875.24" fill="#8000ff" stroke="#fff" stroke-width="0.4"/>
<polygon points="707.45,1863.75 709.51,1868.22 714.39,1868.79 710.78,1872.13 711.74,1876.95 707.45,1874.55 703.16,1876.95 704.12,1872.13 700.51,1868.79 705.39,1868.22" fill="#8000ff" stroke="#fff" stroke-width="0.4"/>
<polygon points="722.1,1856.28 724.16,1860.75 729.04,1861.32 725.43,1864.66 726.39,1869.49 722.1,1867.08 717.81,1869.49 718.77,1864.66 715.16,1861.32 720.04,1860.75" fill="#8000ff" stroke="#fff" stroke-width="0.4"/>
<polygon points="736.75,1851.45 738.81,1855.92 743.69,1856.49 740.08,1859.83 741.04,1864.65 736.75,1862.25 732.46,1864.65 733.42,1859.83 729.81,1856.49 734.69,1855.92" fill="#8000ff" stroke="#fff" stroke-width="0.4"/>
<polygon points="751.4,1848.37 753.46,1852.84 758.34,1853.42 754.73,1856.76 755.69,1861.58 751.4,1859.17 747.11,1861.58 748.07,1856.76 744.46,1853.42 749.34,1852.84" fill="#8000ff" stroke="#fff" stroke-width="0.4"/>
<polygon points="766.05,1847.06 768.11,1851.52 772.99,1852.1 769.38,1855.44 770.34,1860.26 766.05,1857.86 761.76,1860.26 762.72,1855.44 759.11,1852.1 763.99,1851.52" fill="#8000ff" stroke="#fff" stroke-width="0.4"/>
<polygon points="780.7,1846.18 782.76,1850.65 787.64,1851.22 784.03,1854.56 784.99,1859.38 780.7,1856.98 776.41,1859.38 777.37,1854.56 773.76,1851.22 778.64,1850.65" fill="#8000ff" stroke="#fff" stroke-width="0.4"/>
<polygon points="795.35,1845.3 797.41,1849.77 802.29,1850.34 798.68,1853.68 799.64,1858.51 795.35,1856.1 791.06,1858.51 792.02,1853.68 788.41,1850.34 793.29,1849.77" fill="#8000ff" stroke="#fff" stroke-width="0.4"/>
<polygon points="810,1843.98 812.06,1848.45 816.94,1849.03 813.33,1852.36 814.29,1857.19 810,1854.78 805.71,1857.19 806.67,1852.36 803.06,1849.03 807.94,1848.45" fill="#8000ff" stroke="#fff" stroke-width="0.4"/>
<polygon points="824.65,1842.66 826.71,1847.13 831.59,1847.71 827.98,1851.05 828.94,1855.87 824.65,1853.46 820.36,1855.87 821.32,1851.05 817.71,1847.71 822.59,1847.13" fill="#8000ff" stroke="#fff" stroke-width="0.4"/>
<polygon points="839.3,1840.91 841.36,1845.38 846.24,1845.95 842.63,1849.29 843.59,1854.11 839.3,1851.71 835.01,1854.11 835.97,1849.29 832.36,1845.95 837.24,1845.38" fill="#8000ff" stroke="#fff" stroke-width="0.4"/>
<polygon points="853.95,1840.03 856.01,1844.5 860.89,1845.07 857.28,1848.41 858.24,1853.23 853.95,1850.83 849.66,1853.23 850.62,1848.41 847.01,1845.07 851.89,1844.5" fill="#8000ff" stroke="#fff" stroke-width="0.4"/>
<polygon points="868.6,1838.71 870.66,1843.18 875.54,1843.75 871.93,1847.09 872.89,1851.92 868.6,1849.51 864.31,1851.92 865.27,1847.09 861.66,1843.75 866.54,1843.18" fill="#8000ff" stroke="#fff" stroke-width="0.4"/>
<polygon points="883.25,1837.39 885.31,1841.86 890.19,1842.44 886.58,1845.77 887.54,1850.6 883.25,1848.19 878.96,1850.6 879.92,1845.77 876.31,1842.44 881.19,1841.86" fill="#8000ff" stroke="#fff" stroke-width="0.4"/>
<polygon points="897.9,1835.2 899.96,1839.67 904.84,1840.24 901.23,1843.58 902.19,1848.4 897.9,1846 893.61,1848.4 894.57,1843.58 890.96,1840.24 895.84,1839.67" fill="#8000ff" stroke="#fff" stroke-width="0.4"/>
<polygon points="912.55,1833.44 914.61,1837.91 919.49,1838.48 915.88,1841.82 916.84,1846.65 912.55,1844.24 908.26,1846.65 909.22,1841.82 905.61,1838.48 910.49,1837.91" fill="#8000ff" stroke="#fff" stroke-width="0.4"/>
<polygon points="927.2,1832.56 929.26,1837.03 934.14,1837.61 930.53,1840.94 931.49,1845.77 927.2,1843.36 922.91,1845.77 923.87,1840.94 920.26,1837.61 925.14,1837.03" fill="#8000ff" stroke="#fff" stroke-width="0.4"/>
<polygon points="941.85,1830.8 943.91,1835.27 948.79,1835.85 945.18,1839.19 946.14,1844.01 941.85,1841.6 937.56,1844.01 938.52,1839.19 934.91,1835.85 939.79,1835.27" fill="#8000ff" stroke="#fff" stroke-width="0.4"/>
<polygon points="956.5,1829.93 958.56,1834.39 963.44,1834.97 959.83,1838.31 960.79,1843.13 956.5,1840.73 952.21,1843.13 953.17,1838.31 949.56,1834.97 954.44,1834.39" fill="#8000ff" stroke="#fff" stroke-width="0.4"/>
<polygon points="971.15,1828.83 973.21,1833.3 978.09,1833.87 974.48,1837.21 975.44,1842.03 971.15,1839.63 966.86,1842.03 967.82,1837.21 964.21,1833.87 969.09,1833.3" fill="#8000ff" stroke="#fff" stroke-width="0.4"/>
<polygon points="985.8,1827.73 987.86,1832.2 992.74,1832.77 989.13,1836.11 990.09,1840.94 985.8,1838.53 981.51,1840.94 982.47,1836.11 978.86,1832.77 983.74,1832.2" fill="#8000ff" stroke="#fff" stroke-width="0.4"/>
<polygon points="1000.45,1826.85 1002.51,1831.32 1007.39,1831.9 1003.78,1835.23 1004.74,1840.06 1000.45,1837.65 996.16,1840.06 997.12,1835.23 993.51,1831.9 998.39,1831.32" fill="#8000ff" stroke="#fff" stroke-width="0.4"/>
<polygon points="1015.1,1825.97 1017.16,1830.44 1022.04,1831.02 1018.43,1834.35 1019.39,1839.18 1015.1,1836.77 1010.81,1839.18 1011.77,1834.35 1008.16,1831.02 1013.04,1830.44" fill="#8000ff" stroke="#fff" stroke-width="0.4"/>
<polygon points="1029.75,1824.22 1031.81,1828.68 1036.69,1829.26 1033.08,1832.6 1034.04,1837.42 1029.75,1835.02 1025.46,1837.42 1026.42,1832.6 1022.81,1829.26 1027.69,1828.68" fill="#8000ff" stroke="#fff" stroke-width="0.4"/>
<polygon points="1044.4,1823.16 1046.46,1827.63 1051.34,1828.21 1047.73,1831.54 1048.69,1836.37 1044.4,1833.96 1040.11,1836.37 1041.07,1831.54 1037.46,1828.21 1042.34,1827.63" fill="#8000ff" stroke="#fff" stroke-width="0.4"/>
<polygon points="1059.05,1822.11 1061.11,1826.58 1065.99,1827.15 1062.38,1830.49 1063.34,1835.31 1059.05,1832.91 1054.76,1835.31 1055.72,1830.49 1052.11,1827.15 1056.99,1826.58" fill="#8000ff" stroke="#fff" stroke-width="0.4"/>
<polygon points="1073.7,1821.05 1075.76,1825.52 1080.64,1826.1 1077.03,1829.43 1077.99,1834.26 1073.7,1831.85 1069.41,1834.26 1070.37,1829.43 1066.76,1826.1 1071.64,1825.52" fill="#8000ff" stroke="#fff" stroke-width="0.4"/>
<polygon points="1088.35,1820 1090.41,1824.47 1095.29,1825.04 1091.68,1828.38 1092.64,1833.2 1088.35,1830.8 1084.06,1833.2 1085.02,1828.38 1081.41,1825.04 1086.29,1824.47" fill="#8000ff" stroke="#fff" stroke-width="0.4"/>
<polygon points="1103,1818.94 1105.06,1823.41 1109.94,1823.99 1106.33,1827.33 1107.29,1832.15 1103,1829.74 1098.71,1832.15 1099.67,1827.33 1096.06,1823.99 1100.94,1823.41" fill="#8000ff" stroke="#fff" stroke-width="0.4"/>
<polygon points="1117.65,1817.71 1119.71,1822.18 1124.59,1822.76 1120.98,1826.1 1121.94,1830.92 1117.65,1828.51 1113.36,1830.92 1114.32,1826.1 1110.71,1822.76 1115.59,1822.18" fill="#8000ff" stroke="#fff" stroke-width="0.4"/>
<polygon points="1132.3,1816.48 1134.36,1820.95 1139.24,1821.53 1135.63,1824.87 1136.59,1829.69 1132.3,1827.28 1128.01,1829.69 1128.97,1824.87 1125.36,1821.53 1130.24,1820.95" fill="#8000ff" stroke="#fff" stroke-width="0.4"/>
<polygon points="1146.95,1815.25 1149.01,1819.72 1153.89,1820.3 1150.28,1823.64 1151.24,1828.46 1146.95,1826.05 1142.66,1828.46 1143.62,1823.64 1140.01,1820.3 1144.89,1819.72" fill="#8000ff" stroke="#fff" stroke-width="0.4"/>
<polygon points="1161.6,1814.02 1163.66,1818.49 1168.54,1819.07 1164.93,1822.41 1165.89,1827.23 1161.6,1824.82 1157.31,1827.23 1158.27,1822.41 1154.66,1819.07 1159.54,1818.49" fill="#8000ff" stroke="#fff" stroke-width="0.4"/>
<polygon points="1176.25,1812.79 1178.31,1817.26 1183.19,1817.84 1179.58,1821.18 1180.54,1826 1176.25,1823.59 1171.96,1826 1172.92,1821.18 1169.31,1817.84 1174.19,1817.26" fill="#8000ff" stroke="#fff" stroke-width="0.4"/>
<polygon points="1190.9,1811.48 1192.96,1815.95 1197.84,1816.52 1194.23,1819.86 1195.19,1824.68 1190.9,1822.28 1186.61,1824.68 1187.57,1819.86 1183.96,1816.52 1188.84,1815.95" fill="#8000ff" stroke="#fff" stroke-width="0.4"/>
<polygon points="1205.55,1810.16 1207.61,1814.63 1212.49,1815.2 1208.88,1818.54 1209.84,1823.37 1205.55,1820.96 1201.26,1823.37 1202.22,1818.54 1198.61,1815.2 1203.49,1814.63" fill="#8000ff" stroke="#fff" stroke-width="0.4"/>
<polygon points="1220.2,1808.84 1222.26,1813.31 1227.14,1813.89 1223.53,1817.22 1224.49,1822.05 1220.2,1819.64 1215.91,1822.05 1216.87,1817.22 1213.26,1813.89 1218.14,1813.31" fill="#8000ff" stroke="#fff" stroke-width="0.4"/>
<polygon points="1234.85,1807.52 1236.91,1811.99 1241.79,1812.57 1238.18,1815.91 1239.14,1820.73 1234.85,1818.32 1230.56,1820.73 1231.52,1815.91 1227.91,1812.57 1232.79,1811.99" fill="#8000ff" stroke="#fff" stroke-width="0.4"/>
<polygon points="1249.5,1806.21 1251.56,1810.67 1256.44,1811.25 1252.83,1814.59 1253.79,1819.41 1249.5,1817.01 1245.21,1819.41 1246.17,1814.59 1242.56,1811.25 1247.44,1810.67" fill="#8000ff" stroke="#fff" stroke-width="0.4"/>
<polygon points="1264.15,1804.98 1266.21,1809.44 1271.09,1810.02 1267.48,1813.36 1268.44,1818.18 1264.15,1815.78 1259.86,1818.18 1260.82,1813.36 1257.21,1810.02 1262.09,1809.44" fill="#8000ff" stroke="#fff" stroke-width="0.4"/>
<polygon points="1278.8,1803.75 1280.86,1808.21 1285.74,1808.79 1282.13,1812.13 1283.09,1816.95 1278.8,1814.55 1274.51,1816.95 1275.47,1812.13 1271.86,1808.79 1276.74,1808.21" fill="#8000ff" stroke="#fff" stroke-width="0.4"/>
<polygon points="1293.45,1802.52 1295.51,1806.98 1300.39,1807.56 1296.78,1810.9 1297.74,1815.72 1293.45,1813.32 1289.16,1815.72 1290.12,1810.9 1286.51,1807.56 1291.39,1806.98" fill="#8000ff" stroke="#fff" stroke-width="0.4"/>
<polygon points="1308.1,1801.29 1310.16,1805.76 1315.04,1806.33 1311.43,1809.67 1312.39,1814.49 1308.1,1812.09 1303.81,1814.49 1304.77,1809.67 1301.16,1806.33 1306.04,1805.76" fill="#8000ff" stroke="#fff" stroke-width="0.4"/>
<polygon points="1322.75,1800.06 1324.81,1804.53 1329.69,1805.1 1326.08,1808.44 1327.04,1813.26 1322.75,1810.86 1318.46,1813.26 1319.42,1808.44 1315.81,1805.1 1320.69,1804.53" fill="#8000ff" stroke="#fff" stroke-width="0.4"/>
<polygon points="1337.4,1799.18 1339.46,1803.65 1344.34,1804.22 1340.73,1807.56 1341.69,1812.38 1337.4,1809.98 1333.11,1812.38 1334.07,1807.56 1330.46,1804.22 1335.34,1803.65" fill="#8000ff" stroke="#fff" stroke-width="0.4"/>
<polygon points="1352.05,1798.3 1354.11,1802.77 1358.99,1803.34 1355.38,1806.68 1356.34,1811.51 1352.05,1809.1 1347.76,1811.51 1348.72,1806.68 1345.11,1803.34 1349.99,1802.77" fill="#8000ff" stroke="#fff" stroke-width="0.4"/>
<polygon points="1366.7,1797.42 1368.76,1801.89 1373.64,1802.47 1370.03,1805.8 1370.99,1810.63 1366.7,1808.22 1362.41,1810.63 1363.37,1805.8 1359.76,1802.47 1364.64,1801.89" fill="#8000ff" stroke="#fff" stroke-width="0.4"/>
<polygon points="1381.35,1796.54 1383.41,1801.01 1388.29,1801.59 1384.68,1804.92 1385.64,1809.75 1381.35,1807.34 1377.06,1809.75 1378.02,1804.92 1374.41,1801.59 1379.29,1801.01" fill="#8000ff" stroke="#fff" stroke-width="0.4"/>
<polygon points="1396,1795.66 1398.06,1800.13 1402.94,1800.71 1399.33,1804.05 1400.29,1808.87 1396,1806.46 1391.71,1808.87 1392.67,1804.05 1389.06,1800.71 1393.94,1800.13" fill="#8000ff" stroke="#fff" stroke-width="0.4"/>
<path d="M678.15 1923.82 L692.8 1923.38 L707.45 1923.16 L722.1 1922.72 L736.75 1921.84 L751.4 1921.4 L766.05 1920.52 L780.7 1919.64 L795.35 1918.61 L810 1917.58 L824.65 1917.29 L839.3 1917.01 L853.95 1916.57 L868.6 1916.13 L883.25 1915.69 L897.9 1915.11 L912.55 1914.52 L927.2 1913.93 L941.85 1913.06 L956.5 1912.18 L971.15 1910.86 L985.8 1909.54 L1000.45 1907.43 L1015.1 1905.32 L1029.75 1903.22 L1044.4 1901.96 L1059.05 1900.71 L1073.7 1899.46 L1088.35 1898.21 L1103 1896.5 L1117.65 1894.78 L1132.3 1892.81 L1146.95 1891 L1161.6 1888.9 L1176.25 1887.01 L1190.9 1884.81 L1205.55 1882.31 L1220.2 1879.89 L1234.85 1877.7 L1249.5 1874.71 L1264.15 1873.22 L1278.8 1870.32 L1293.45 1867.68 L1308.1 1864.78 L1322.75 1862.01 L1337.4 1858.9 L1352.05 1855.91 L1366.7 1852.22 L1381.35 1849.32 L1396 1845.32" fill="none" stroke="#0000ff" stroke-width="1.8"/>
<rect x="671.85" y="1917.52" width="12.6" height="12.6" fill="#0000ff" stroke="#fff" stroke-width="0.5"/>
<rect x="686.5" y="1917.08" width="12.6" height="12.6" fill="#0000ff" stroke="#fff" stroke-width="0.5"/>
<rect x="701.15" y="1916.86" width="12.6" height="12.6" fill="#0000ff" stroke="#fff" stroke-width="0.5"/>
<rect x="715.8" y="1916.42" width="12.6" height="12.6" fill="#0000ff" stroke="#fff" stroke-width="0.5"/>
<rect x="730.45" y="1915.54" width="12.6" height="12.6" fill="#0000ff" stroke="#fff" stroke-width="0.5"/>
<rect x="745.1" y="1915.1" width="12.6" height="12.6" fill="#0000ff" stroke="#fff" stroke-width="0.5"/>
<rect x="759.75" y="1914.22" width="12.6" height="12.6" fill="#0000ff" stroke="#fff" stroke-width="0.5"/>
<rect x="774.4" y="1913.34" width="12.6" height="12.6" fill="#0000ff" stroke="#fff" stroke-width="0.5"/>
<rect x="789.05" y="1912.31" width="12.6" height="12.6" fill="#0000ff" stroke="#fff" stroke-width="0.5"/>
<rect x="803.7" y="1911.28" width="12.6" height="12.6" fill="#0000ff" stroke="#fff" stroke-width="0.5"/>
<rect x="818.35" y="1910.99" width="12.6" height="12.6" fill="#0000ff" stroke="#fff" stroke-width="0.5"/>
<rect x="833" y="1910.71" width="12.6" height="12.6" fill="#0000ff" stroke="#fff" stroke-width="0.5"/>
<rect x="847.65" y="1910.27" width="12.6" height="12.6" fill="#0000ff" stroke="#fff" stroke-width="0.5"/>
<rect x="862.3" y="1909.83" width="12.6" height="12.6" fill="#0000ff" stroke="#fff" stroke-width="0.5"/>
<rect x="876.95" y="1909.39" width="12.6" height="12.6" fill="#0000ff" stroke="#fff" stroke-width="0.5"/>
<rect x="891.6" y="1908.81" width="12.6" height="12.6" fill="#0000ff" stroke="#fff" stroke-width="0.5"/>
<rect x="906.25" y="1908.22" width="12.6" height="12.6" fill="#0000ff" stroke="#fff" stroke-width="0.5"/>
<rect x="920.9" y="1907.63" width="12.6" height="12.6" fill="#0000ff" stroke="#fff" stroke-width="0.5"/>
<rect x="935.55" y="1906.76" width="12.6" height="12.6" fill="#0000ff" stroke="#fff" stroke-width="0.5"/>
<rect x="950.2" y="1905.88" width="12.6" height="12.6" fill="#0000ff" stroke="#fff" stroke-width="0.5"/>
<rect x="964.85" y="1904.56" width="12.6" height="12.6" fill="#0000ff" stroke="#fff" stroke-width="0.5"/>
<rect x="979.5" y="1903.24" width="12.6" height="12.6" fill="#0000ff" stroke="#fff" stroke-width="0.5"/>
<rect x="994.15" y="1901.13" width="12.6" height="12.6" fill="#0000ff" stroke="#fff" stroke-width="0.5"/>
<rect x="1008.8" y="1899.02" width="12.6" height="12.6" fill="#0000ff" stroke="#fff" stroke-width="0.5"/>
<rect x="1023.45" y="1896.92" width="12.6" height="12.6" fill="#0000ff" stroke="#fff" stroke-width="0.5"/>
<rect x="1038.1" y="1895.66" width="12.6" height="12.6" fill="#0000ff" stroke="#fff" stroke-width="0.5"/>
<rect x="1052.75" y="1894.41" width="12.6" height="12.6" fill="#0000ff" stroke="#fff" stroke-width="0.5"/>
<rect x="1067.4" y="1893.16" width="12.6" height="12.6" fill="#0000ff" stroke="#fff" stroke-width="0.5"/>
<rect x="1082.05" y="1891.91" width="12.6" height="12.6" fill="#0000ff" stroke="#fff" stroke-width="0.5"/>
<rect x="1096.7" y="1890.2" width="12.6" height="12.6" fill="#0000ff" stroke="#fff" stroke-width="0.5"/>
<rect x="1111.35" y="1888.48" width="12.6" height="12.6" fill="#0000ff" stroke="#fff" stroke-width="0.5"/>
<rect x="1126" y="1886.51" width="12.6" height="12.6" fill="#0000ff" stroke="#fff" stroke-width="0.5"/>
<rect x="1140.65" y="1884.7" width="12.6" height="12.6" fill="#0000ff" stroke="#fff" stroke-width="0.5"/>
<rect x="1155.3" y="1882.6" width="12.6" height="12.6" fill="#0000ff" stroke="#fff" stroke-width="0.5"/>
<rect x="1169.95" y="1880.71" width="12.6" height="12.6" fill="#0000ff" stroke="#fff" stroke-width="0.5"/>
<rect x="1184.6" y="1878.51" width="12.6" height="12.6" fill="#0000ff" stroke="#fff" stroke-width="0.5"/>
<rect x="1199.25" y="1876.01" width="12.6" height="12.6" fill="#0000ff" stroke="#fff" stroke-width="0.5"/>
<rect x="1213.9" y="1873.59" width="12.6" height="12.6" fill="#0000ff" stroke="#fff" stroke-width="0.5"/>
<rect x="1228.55" y="1871.4" width="12.6" height="12.6" fill="#0000ff" stroke="#fff" stroke-width="0.5"/>
<rect x="1243.2" y="1868.41" width="12.6" height="12.6" fill="#0000ff" stroke="#fff" stroke-width="0.5"/>
<rect x="1257.85" y="1866.92" width="12.6" height="12.6" fill="#0000ff" stroke="#fff" stroke-width="0.5"/>
<rect x="1272.5" y="1864.02" width="12.6" height="12.6" fill="#0000ff" stroke="#fff" stroke-width="0.5"/>
<rect x="1287.15" y="1861.38" width="12.6" height="12.6" fill="#0000ff" stroke="#fff" stroke-width="0.5"/>
<rect x="1301.8" y="1858.48" width="12.6" height="12.6" fill="#0000ff" stroke="#fff" stroke-width="0.5"/>
<rect x="1316.45" y="1855.71" width="12.6" height="12.6" fill="#0000ff" stroke="#fff" stroke-width="0.5"/>
<rect x="1331.1" y="1852.6" width="12.6" height="12.6" fill="#0000ff" stroke="#fff" stroke-width="0.5"/>
<rect x="1345.75" y="1849.61" width="12.6" height="12.6" fill="#0000ff" stroke="#fff" stroke-width="0.5"/>
<rect x="1360.4" y="1845.92" width="12.6" height="12.6" fill="#0000ff" stroke="#fff" stroke-width="0.5"/>
<rect x="1375.05" y="1843.02" width="12.6" height="12.6" fill="#0000ff" stroke="#fff" stroke-width="0.5"/>
<rect x="1389.7" y="1839.02" width="12.6" height="12.6" fill="#0000ff" stroke="#fff" stroke-width="0.5"/>
<rect x="695.7" y="1444.4" width="366.6" height="270.6" fill="#fff" stroke="#000" stroke-width="1.8"/>
<path d="M709.9 1475.3H776" stroke="#000000" stroke-width="2.6"/>
<circle cx="743.1" cy="1475.3" r="6.6" fill="#000000"/>
<text x="791.7" y="1485.3" font-size="28.6"><tspan>Ni-GDC</tspan></text>
<path d="M709.9 1513H776" stroke="#0000ff" stroke-width="1.5"/>
<rect x="736.8" y="1506.7" width="12.6" height="12.6" fill="#0000ff"/>
<text x="791.7" y="1517.8" font-size="28.6"><tspan>Ni</tspan><tspan dy="9.0" font-size="20.0">80</tspan><tspan dy="-9.0">Co</tspan><tspan dy="9.0" font-size="20.0">20</tspan><tspan dy="-9.0">-GDC</tspan></text>
<path d="M709.9 1554.5H776" stroke="#00ff00" stroke-width="1.5"/>
<polygon points="743.1,1546.5 750.1,1558.5 736.1,1558.5" fill="#00ff00"/>
<text x="791.7" y="1559.8" font-size="28.3"><tspan>Ni</tspan><tspan dy="9.0" font-size="20.0">80</tspan><tspan dy="-9.0">Fe</tspan><tspan dy="9.0" font-size="20.0">20</tspan><tspan dy="-9.0">-GDC</tspan></text>
<path d="M709.9 1596.1H776" stroke="#ff00ff" stroke-width="1.5"/>
<polygon points="743.1,1604.1 750.1,1592.1 736.1,1592.1" fill="#ff00ff"/>
<text x="791.7" y="1601.3" font-size="28.3"><tspan>Ni</tspan><tspan dy="9.0" font-size="20.0">80</tspan><tspan dy="-9.0">Cr</tspan><tspan dy="9.0" font-size="20.0">20</tspan><tspan dy="-9.0">-GDC</tspan></text>
<path d="M709.9 1637.4H776" stroke="#ff0000" stroke-width="1.5" stroke-dasharray="14.5 5"/>
<polygon points="743.1,1629.3 751,1637.4 743.1,1645.5 735.2,1637.4" fill="#ff0000"/>
<text x="791.7" y="1642.6" font-size="28.1"><tspan>Ni</tspan><tspan dy="9.0" font-size="19.7">74.5</tspan><tspan dy="-9.0">Cr</tspan><tspan dy="9.0" font-size="19.7">17.2</tspan><tspan dy="-9.0">Fe</tspan><tspan dy="9.0" font-size="19.7">8.3</tspan><tspan dy="-9.0">-GDC</tspan></text>
<path d="M709.9 1679.3H776" stroke="#8000ff" stroke-width="1.5" stroke-dasharray="14.5 5"/>
<polygon points="743.1,1672.6 745.16,1677.07 750.04,1677.64 746.43,1680.98 747.39,1685.81 743.1,1683.4 738.81,1685.81 739.77,1680.98 736.16,1677.64 741.04,1677.07" fill="#8000ff"/>
<text x="791.7" y="1684.6" font-size="28.0"><tspan>Ni</tspan><tspan dy="9.0" font-size="19.6">58.3</tspan><tspan dy="-9.0">Cr</tspan><tspan dy="9.0" font-size="19.6">25.0</tspan><tspan dy="-9.0">Fe</tspan><tspan dy="9.0" font-size="19.6">16.7</tspan><tspan dy="-9.0">-GDC</tspan></text>
</svg>
</body></html>
